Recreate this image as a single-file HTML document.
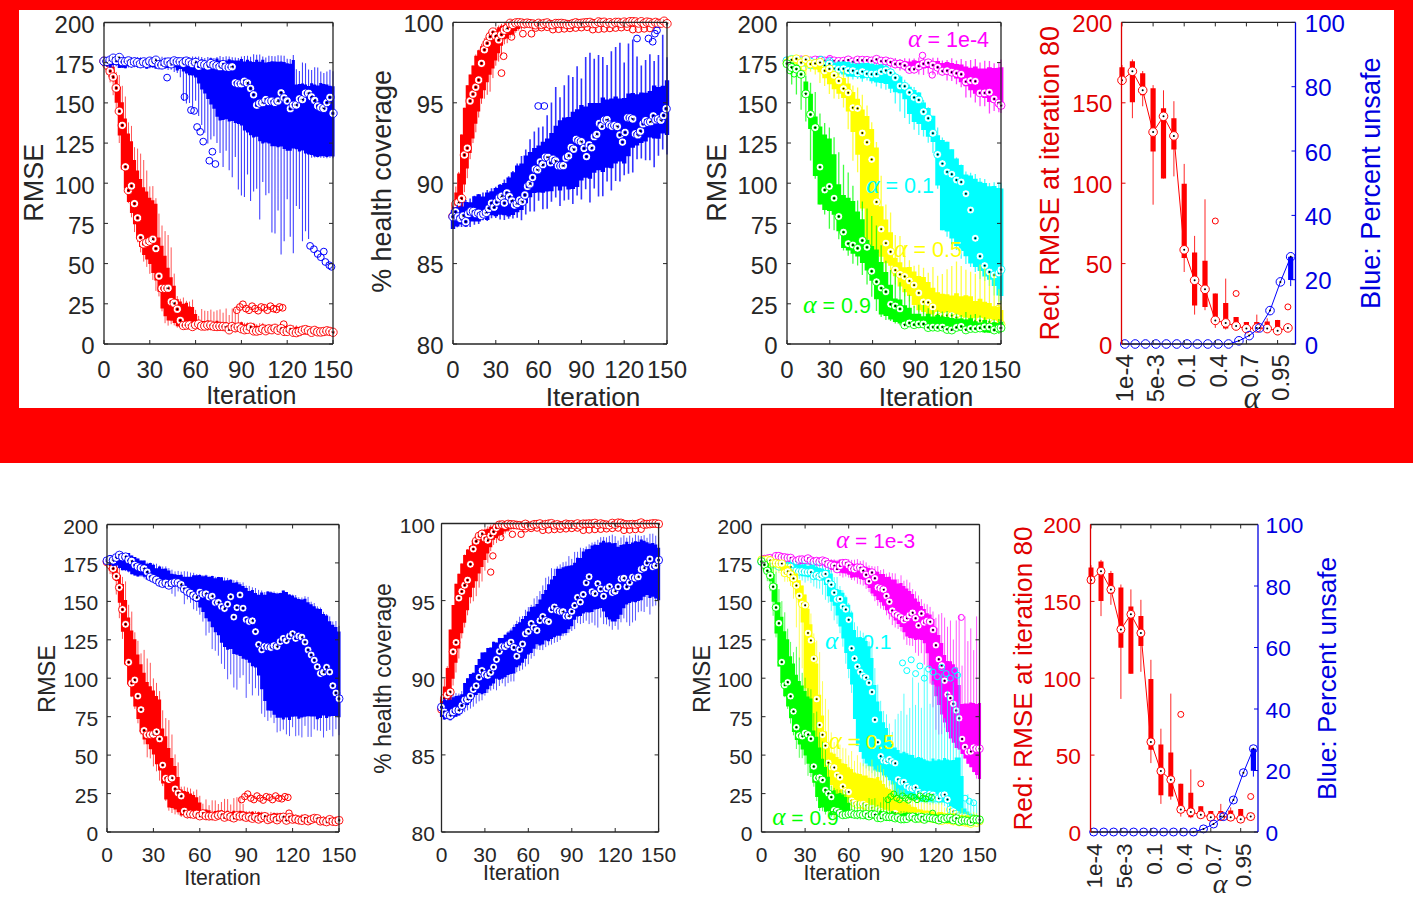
<!DOCTYPE html><html><head><meta charset="utf-8"><style>html,body{margin:0;padding:0;background:#fff;overflow:hidden}svg{display:block}</style></head><body><svg width="1415" height="897" viewBox="0 0 1415 897" font-family='"Liberation Sans", sans-serif'>
<defs><g id="mk0" fill="none"><circle r="2.90" stroke="#fff" stroke-width="2.0"/><circle r="4.20" stroke="#ff0000" stroke-width="0.9"/><circle r="0.95" fill="#000"/></g><g id="mk1" fill="none"><circle r="2.90" stroke="#fff" stroke-width="2.0"/><circle r="4.20" stroke="#0000ff" stroke-width="0.9"/><circle r="0.95" fill="#000"/></g><g id="mk2" fill="none"><circle r="2.90" stroke="#fff" stroke-width="2.0"/><circle r="4.20" stroke="#ff0000" stroke-width="0.9"/><circle r="0.95" fill="#000"/></g><g id="mk3" fill="none"><circle r="2.90" stroke="#fff" stroke-width="2.0"/><circle r="4.20" stroke="#0000ff" stroke-width="0.9"/><circle r="0.95" fill="#000"/></g><g id="mk4" fill="none"><circle r="2.70" stroke="#fff" stroke-width="2.0"/><circle r="4.00" stroke="#ff00ff" stroke-width="0.9"/><circle r="0.95" fill="#000"/></g><g id="mk5" fill="none"><circle r="2.70" stroke="#fff" stroke-width="2.0"/><circle r="4.00" stroke="#00ffff" stroke-width="0.9"/><circle r="0.95" fill="#000"/></g><g id="mk6" fill="none"><circle r="2.70" stroke="#fff" stroke-width="2.0"/><circle r="4.00" stroke="#ffff00" stroke-width="0.9"/><circle r="0.95" fill="#000"/></g><g id="mk7" fill="none"><circle r="2.70" stroke="#fff" stroke-width="2.0"/><circle r="4.00" stroke="#00ff00" stroke-width="0.9"/><circle r="0.95" fill="#000"/></g><g id="mk8" fill="none"><circle r="2.70" stroke="#fff" stroke-width="2.0"/><circle r="4.00" stroke="#ff0000" stroke-width="0.9"/><circle r="0.95" fill="#000"/></g><g id="mk9" fill="none"><circle r="2.70" stroke="#fff" stroke-width="2.0"/><circle r="4.00" stroke="#0000ff" stroke-width="0.9"/><circle r="0.95" fill="#000"/></g><g id="mk10" fill="none"><circle r="2.70" stroke="#fff" stroke-width="2.0"/><circle r="4.00" stroke="#ff0000" stroke-width="0.9"/><circle r="0.95" fill="#000"/></g><g id="mk11" fill="none"><circle r="2.70" stroke="#fff" stroke-width="2.0"/><circle r="4.00" stroke="#0000ff" stroke-width="0.9"/><circle r="0.95" fill="#000"/></g><g id="mk12" fill="none"><circle r="2.50" stroke="#fff" stroke-width="2.0"/><circle r="3.80" stroke="#ff00ff" stroke-width="0.9"/><circle r="0.95" fill="#000"/></g><g id="mk13" fill="none"><circle r="2.50" stroke="#fff" stroke-width="2.0"/><circle r="3.80" stroke="#00ffff" stroke-width="0.9"/><circle r="0.95" fill="#000"/></g><g id="mk14" fill="none"><circle r="2.50" stroke="#fff" stroke-width="2.0"/><circle r="3.80" stroke="#ffff00" stroke-width="0.9"/><circle r="0.95" fill="#000"/></g><g id="mk15" fill="none"><circle r="2.50" stroke="#fff" stroke-width="2.0"/><circle r="3.80" stroke="#00ff00" stroke-width="0.9"/><circle r="0.95" fill="#000"/></g></defs>
<rect x="0" y="0" width="1415" height="897" fill="#fff"/>
<rect x="0" y="0" width="1413" height="463" fill="#ff0000"/>
<rect x="19" y="10" width="1375" height="398" fill="#fff"/>
<path d="M104.00 57.0V66.5M107.05 58.2V75.0M110.11 59.0V82.4M113.16 62.3V95.2M116.21 71.9V113.0M119.27 75.0V143.0M122.32 85.8V169.6M125.37 96.5V188.5M128.43 122.4V203.1M131.48 125.9V217.3M134.53 147.2V232.1M137.59 148.6V242.2M140.64 153.6V252.4M143.69 160.0V261.6M146.75 170.5V266.9M149.80 186.4V273.8M152.85 186.1V279.9M155.91 198.2V290.9M158.96 213.6V296.4M162.01 225.5V311.3M165.07 231.1V323.2M168.12 235.0V325.6M171.17 247.4V324.2M174.23 273.6V325.4M177.28 296.1V327.6M180.33 298.8V329.3M183.39 297.5V329.2M186.44 300.8V329.1M189.49 301.6V329.7M192.55 299.6V329.7M195.60 309.9V329.5M198.65 315.9V329.9M201.71 309.0V329.6M204.76 310.7V330.5M207.81 311.0V331.0M210.87 309.6V330.6M213.92 311.6V330.0M216.97 310.3V330.5M220.03 309.4V330.7M223.08 312.7V330.8M226.13 308.5V331.0M229.19 315.0V331.1M232.24 308.5V331.7M235.29 309.1V332.5M238.35 313.7V331.7M241.40 321.6V332.9M244.45 322.8V332.3M247.51 322.5V333.0M250.56 323.3V333.1M253.61 322.8V333.1M256.67 324.3V333.3M259.72 323.2V333.3M262.77 322.9V333.2M265.83 324.4V333.5M268.88 324.5V333.6M271.93 324.2V333.7M274.99 324.1V332.6M278.04 324.7V333.5M281.09 324.6V333.8M284.15 324.7V334.0M287.20 324.6V333.8M290.25 324.9V333.5M293.31 325.3V334.2M296.36 325.4V334.6M299.41 326.3V334.7M302.47 325.7V334.4M305.52 326.7V334.7M308.57 326.2V334.8M311.63 326.3V334.1M314.68 326.8V334.6M317.73 328.1V335.6M320.79 327.6V334.9M323.84 328.3V335.8M326.89 329.0V335.3M329.95 328.1V335.2M333.00 328.0V335.7" stroke="#ff0000" stroke-width="0.9" stroke-opacity="0.75" fill="none"/>
<path d="M102.45 59.3h3.10V63.0h-3.10ZM105.50 62.4h3.10V70.0h-3.10ZM108.56 63.9h3.10V77.1h-3.10ZM111.61 66.7h3.10V79.2h-3.10ZM114.66 77.3h3.10V102.8h-3.10ZM117.72 86.9h3.10V135.5h-3.10ZM120.77 102.3h3.10V169.6h-3.10ZM123.82 118.4h3.10V188.5h-3.10ZM126.88 133.6h3.10V202.0h-3.10ZM129.93 141.3h3.10V212.9h-3.10ZM132.98 160.0h3.10V224.3h-3.10ZM136.04 170.5h3.10V238.8h-3.10ZM139.09 179.1h3.10V247.0h-3.10ZM142.14 187.2h3.10V254.9h-3.10ZM145.20 191.4h3.10V259.5h-3.10ZM148.25 197.8h3.10V263.9h-3.10ZM151.30 200.2h3.10V272.9h-3.10ZM154.36 203.7h3.10V280.5h-3.10ZM157.41 237.4h3.10V291.7h-3.10ZM160.46 245.7h3.10V308.4h-3.10ZM163.52 255.8h3.10V316.2h-3.10ZM166.57 267.8h3.10V320.6h-3.10ZM169.62 277.3h3.10V320.8h-3.10ZM172.68 285.8h3.10V323.1h-3.10ZM175.73 299.2h3.10V326.2h-3.10ZM178.78 301.5h3.10V327.1h-3.10ZM181.84 303.8h3.10V326.5h-3.10ZM184.89 302.8h3.10V327.8h-3.10ZM187.94 306.6h3.10V328.1h-3.10ZM191.00 306.9h3.10V326.5h-3.10ZM194.05 314.0h3.10V328.7h-3.10ZM197.10 320.9h3.10V326.4h-3.10ZM200.16 321.0h3.10V328.6h-3.10ZM203.21 321.1h3.10V327.1h-3.10ZM206.26 320.6h3.10V329.0h-3.10ZM209.32 322.3h3.10V327.9h-3.10ZM212.37 322.5h3.10V328.8h-3.10ZM215.42 320.7h3.10V328.1h-3.10ZM218.48 322.1h3.10V329.7h-3.10ZM221.53 324.0h3.10V329.4h-3.10ZM224.58 322.6h3.10V329.6h-3.10ZM227.64 323.4h3.10V329.8h-3.10ZM230.69 322.4h3.10V330.6h-3.10ZM233.74 323.9h3.10V330.9h-3.10ZM236.80 323.5h3.10V330.6h-3.10ZM239.85 322.3h3.10V330.1h-3.10ZM242.90 324.6h3.10V331.4h-3.10ZM245.96 323.5h3.10V331.4h-3.10ZM249.01 324.3h3.10V332.8h-3.10ZM252.06 323.7h3.10V331.4h-3.10ZM255.12 325.7h3.10V331.8h-3.10ZM258.17 326.0h3.10V333.2h-3.10ZM261.22 324.6h3.10V330.9h-3.10ZM264.28 325.4h3.10V333.0h-3.10ZM267.33 326.6h3.10V332.8h-3.10ZM270.38 325.5h3.10V331.4h-3.10ZM273.44 327.4h3.10V331.0h-3.10ZM276.49 326.0h3.10V331.2h-3.10ZM279.54 325.7h3.10V331.2h-3.10ZM282.60 326.2h3.10V331.7h-3.10ZM285.65 325.9h3.10V331.4h-3.10ZM288.70 327.9h3.10V331.6h-3.10ZM291.76 327.7h3.10V332.8h-3.10ZM294.81 326.8h3.10V334.4h-3.10ZM297.86 327.1h3.10V334.3h-3.10ZM300.92 327.1h3.10V332.7h-3.10ZM303.97 329.6h3.10V334.3h-3.10ZM307.02 328.2h3.10V333.4h-3.10ZM310.08 329.2h3.10V332.5h-3.10ZM313.13 327.6h3.10V333.6h-3.10ZM316.18 329.3h3.10V333.5h-3.10ZM319.24 329.8h3.10V333.0h-3.10ZM322.29 331.0h3.10V333.9h-3.10ZM325.34 330.6h3.10V334.2h-3.10ZM328.40 328.9h3.10V334.3h-3.10ZM331.45 329.0h3.10V335.5h-3.10Z" fill="#ff0000"/>
<circle cx="236.8" cy="310.2" r="3.4" fill="none" stroke="#ff0000" stroke-width="1"/>
<circle cx="239.9" cy="307.0" r="3.4" fill="none" stroke="#ff0000" stroke-width="1"/>
<circle cx="242.9" cy="304.3" r="3.4" fill="none" stroke="#ff0000" stroke-width="1"/>
<circle cx="246.0" cy="308.6" r="3.4" fill="none" stroke="#ff0000" stroke-width="1"/>
<circle cx="249.0" cy="310.2" r="3.4" fill="none" stroke="#ff0000" stroke-width="1"/>
<circle cx="252.1" cy="306.2" r="3.4" fill="none" stroke="#ff0000" stroke-width="1"/>
<circle cx="255.1" cy="308.6" r="3.4" fill="none" stroke="#ff0000" stroke-width="1"/>
<circle cx="258.2" cy="310.7" r="3.4" fill="none" stroke="#ff0000" stroke-width="1"/>
<circle cx="261.2" cy="307.0" r="3.4" fill="none" stroke="#ff0000" stroke-width="1"/>
<circle cx="264.3" cy="307.8" r="3.4" fill="none" stroke="#ff0000" stroke-width="1"/>
<circle cx="267.4" cy="310.2" r="3.4" fill="none" stroke="#ff0000" stroke-width="1"/>
<circle cx="270.4" cy="306.2" r="3.4" fill="none" stroke="#ff0000" stroke-width="1"/>
<circle cx="273.5" cy="308.6" r="3.4" fill="none" stroke="#ff0000" stroke-width="1"/>
<circle cx="276.5" cy="309.4" r="3.4" fill="none" stroke="#ff0000" stroke-width="1"/>
<circle cx="279.6" cy="307.0" r="3.4" fill="none" stroke="#ff0000" stroke-width="1"/>
<circle cx="282.6" cy="307.8" r="3.4" fill="none" stroke="#ff0000" stroke-width="1"/>
<circle cx="283.7" cy="324.2" r="3.4" fill="none" stroke="#ff0000" stroke-width="1"/>
<g><use href="#mk0" x="104.0" y="61.3"/><use href="#mk0" x="107.1" y="65.0"/><use href="#mk0" x="110.1" y="71.1"/><use href="#mk0" x="113.2" y="77.0"/><use href="#mk0" x="116.2" y="88.0"/><use href="#mk0" x="119.3" y="111.2"/><use href="#mk0" x="122.3" y="125.3"/><use href="#mk0" x="125.4" y="166.8"/><use href="#mk0" x="128.4" y="190.4"/><use href="#mk0" x="131.5" y="186.0"/><use href="#mk0" x="134.5" y="203.6"/><use href="#mk0" x="137.6" y="217.9"/><use href="#mk0" x="140.6" y="237.6"/><use href="#mk0" x="143.7" y="243.9"/><use href="#mk0" x="146.7" y="242.5"/><use href="#mk0" x="149.8" y="241.1"/><use href="#mk0" x="152.9" y="239.2"/><use href="#mk0" x="155.9" y="248.6"/><use href="#mk0" x="159.0" y="276.1"/><use href="#mk0" x="162.0" y="288.3"/><use href="#mk0" x="165.1" y="288.4"/><use href="#mk0" x="168.1" y="288.2"/><use href="#mk0" x="171.2" y="301.7"/><use href="#mk0" x="174.2" y="303.2"/><use href="#mk0" x="177.3" y="309.2"/><use href="#mk0" x="180.3" y="320.4"/><use href="#mk0" x="183.4" y="325.5"/><use href="#mk0" x="186.4" y="325.1"/><use href="#mk0" x="189.5" y="324.9"/><use href="#mk0" x="192.5" y="326.5"/><use href="#mk0" x="195.6" y="324.8"/><use href="#mk0" x="198.7" y="324.1"/><use href="#mk0" x="201.7" y="326.0"/><use href="#mk0" x="204.8" y="326.0"/><use href="#mk0" x="207.8" y="325.2"/><use href="#mk0" x="210.9" y="325.2"/><use href="#mk0" x="213.9" y="326.3"/><use href="#mk0" x="217.0" y="326.5"/><use href="#mk0" x="220.0" y="326.3"/><use href="#mk0" x="223.1" y="326.5"/><use href="#mk0" x="226.1" y="326.9"/><use href="#mk0" x="229.2" y="329.8"/><use href="#mk0" x="232.2" y="326.5"/><use href="#mk0" x="235.3" y="327.7"/><use href="#mk0" x="238.3" y="327.0"/><use href="#mk0" x="241.4" y="328.7"/><use href="#mk0" x="244.5" y="329.7"/><use href="#mk0" x="247.5" y="329.3"/><use href="#mk0" x="250.6" y="327.2"/><use href="#mk0" x="253.6" y="330.9"/><use href="#mk0" x="256.7" y="331.1"/><use href="#mk0" x="259.7" y="330.4"/><use href="#mk0" x="262.8" y="329.0"/><use href="#mk0" x="265.8" y="330.7"/><use href="#mk0" x="268.9" y="328.9"/><use href="#mk0" x="271.9" y="329.7"/><use href="#mk0" x="275.0" y="328.3"/><use href="#mk0" x="278.0" y="330.2"/><use href="#mk0" x="281.1" y="328.7"/><use href="#mk0" x="284.1" y="331.4"/><use href="#mk0" x="287.2" y="331.4"/><use href="#mk0" x="290.3" y="329.4"/><use href="#mk0" x="293.3" y="332.3"/><use href="#mk0" x="296.4" y="332.6"/><use href="#mk0" x="299.4" y="331.6"/><use href="#mk0" x="302.5" y="330.3"/><use href="#mk0" x="305.5" y="329.6"/><use href="#mk0" x="308.6" y="330.6"/><use href="#mk0" x="311.6" y="332.3"/><use href="#mk0" x="314.7" y="330.4"/><use href="#mk0" x="317.7" y="331.8"/><use href="#mk0" x="320.8" y="332.0"/><use href="#mk0" x="323.8" y="331.5"/><use href="#mk0" x="326.9" y="330.8"/><use href="#mk0" x="329.9" y="331.4"/><use href="#mk0" x="333.0" y="332.3"/></g>
<path d="M104.00 57.9V66.3M107.05 57.4V67.1M110.11 57.5V67.6M113.16 57.6V67.5M116.21 58.6V66.3M119.27 57.0V67.9M122.32 58.0V68.0M125.37 57.8V68.2M128.43 57.7V67.6M131.48 56.9V67.8M134.53 57.4V67.2M137.59 57.1V68.0M140.64 57.3V67.9M143.69 58.4V68.0M146.75 57.7V68.8M149.80 58.8V68.2M152.85 57.0V68.1M155.91 57.2V68.9M158.96 58.1V67.9M162.01 56.7V69.2M165.07 57.2V69.1M168.12 57.9V69.9M171.17 57.3V69.8M174.23 57.7V71.9M177.28 58.3V73.1M180.33 58.0V77.2M183.39 56.9V101.0M186.44 57.1V103.5M189.49 57.5V103.1M192.55 56.5V107.1M195.60 56.7V100.8M198.65 56.4V116.1M201.71 57.1V124.9M204.76 58.0V132.8M207.81 57.0V143.6M210.87 57.5V139.6M213.92 58.0V136.3M216.97 57.0V143.0M220.03 56.1V153.0M223.08 57.1V167.1M226.13 56.3V150.8M229.19 56.5V170.3M232.24 57.3V177.2M235.29 57.4V157.1M238.35 58.1V189.4M241.40 56.5V195.4M244.45 56.1V196.9M247.51 55.8V174.4M250.56 56.8V201.1M253.61 54.2V191.4M256.67 54.7V188.8M259.72 54.6V219.5M262.77 56.4V181.9M265.83 57.5V195.3M268.88 55.8V193.3M271.93 56.0V232.5M274.99 56.3V233.5M278.04 55.3V210.4M281.09 55.4V254.4M284.15 55.8V241.2M287.20 58.7V199.3M290.25 59.0V236.7M293.31 55.0V253.2M296.36 69.2V206.1M299.41 71.1V209.0M302.47 62.5V241.2M305.52 63.3V231.3M308.57 69.4V239.1M311.63 70.0V157.7M314.68 67.2V157.6M317.73 67.5V157.5M320.79 71.5V157.7M323.84 72.9V158.1M326.89 71.4V158.2M329.95 69.7V157.7M333.00 71.2V158.3" stroke="#0000ff" stroke-width="1.1" stroke-opacity="0.75" fill="none"/>
<path d="M102.45 58.9h3.10V65.3h-3.10ZM105.50 60.3h3.10V64.8h-3.10ZM108.56 58.9h3.10V67.4h-3.10ZM111.61 58.2h3.10V64.9h-3.10ZM114.66 59.8h3.10V64.9h-3.10ZM117.72 57.5h3.10V67.9h-3.10ZM120.77 59.8h3.10V67.8h-3.10ZM123.82 58.7h3.10V68.2h-3.10ZM126.88 59.8h3.10V66.2h-3.10ZM129.93 58.6h3.10V64.8h-3.10ZM132.98 60.0h3.10V66.0h-3.10ZM136.04 60.0h3.10V66.7h-3.10ZM139.09 58.2h3.10V67.1h-3.10ZM142.14 59.9h3.10V65.9h-3.10ZM145.20 58.7h3.10V68.8h-3.10ZM148.25 61.2h3.10V67.3h-3.10ZM151.30 57.7h3.10V67.3h-3.10ZM154.36 60.0h3.10V68.5h-3.10ZM157.41 60.4h3.10V66.3h-3.10ZM160.46 61.2h3.10V67.0h-3.10ZM163.52 61.3h3.10V68.2h-3.10ZM166.57 60.5h3.10V67.9h-3.10ZM169.62 57.7h3.10V67.1h-3.10ZM172.68 60.3h3.10V67.4h-3.10ZM175.73 60.6h3.10V70.5h-3.10ZM178.78 60.9h3.10V69.0h-3.10ZM181.84 57.7h3.10V71.6h-3.10ZM184.89 58.6h3.10V73.6h-3.10ZM187.94 59.3h3.10V75.3h-3.10ZM191.00 61.5h3.10V75.4h-3.10ZM194.05 58.2h3.10V77.5h-3.10ZM197.10 60.4h3.10V83.5h-3.10ZM200.16 59.4h3.10V89.5h-3.10ZM203.21 60.9h3.10V93.5h-3.10ZM206.26 61.5h3.10V99.1h-3.10ZM209.32 58.3h3.10V104.4h-3.10ZM212.37 61.3h3.10V108.7h-3.10ZM215.42 58.4h3.10V116.8h-3.10ZM218.48 60.4h3.10V120.5h-3.10ZM221.53 61.5h3.10V120.1h-3.10ZM224.58 60.4h3.10V119.2h-3.10ZM227.64 59.3h3.10V121.6h-3.10ZM230.69 60.2h3.10V121.1h-3.10ZM233.74 60.5h3.10V122.9h-3.10ZM236.80 60.4h3.10V123.9h-3.10ZM239.85 59.0h3.10V125.6h-3.10ZM242.90 61.4h3.10V130.5h-3.10ZM245.96 59.7h3.10V132.4h-3.10ZM249.01 61.3h3.10V135.2h-3.10ZM252.06 62.1h3.10V137.4h-3.10ZM255.12 59.7h3.10V136.7h-3.10ZM258.17 61.8h3.10V141.3h-3.10ZM261.22 59.7h3.10V143.4h-3.10ZM264.28 62.5h3.10V142.4h-3.10ZM267.33 62.0h3.10V143.6h-3.10ZM270.38 61.2h3.10V146.3h-3.10ZM273.44 61.4h3.10V146.2h-3.10ZM276.49 61.8h3.10V147.2h-3.10ZM279.54 61.6h3.10V146.5h-3.10ZM282.60 61.9h3.10V148.9h-3.10ZM285.65 63.2h3.10V150.8h-3.10ZM288.70 63.7h3.10V150.7h-3.10ZM291.76 60.1h3.10V148.6h-3.10ZM294.81 84.6h3.10V149.3h-3.10ZM297.86 84.0h3.10V151.4h-3.10ZM300.92 83.4h3.10V150.4h-3.10ZM303.97 84.5h3.10V153.5h-3.10ZM307.02 86.0h3.10V154.4h-3.10ZM310.08 83.3h3.10V155.0h-3.10ZM313.13 84.4h3.10V156.6h-3.10ZM316.18 85.6h3.10V156.9h-3.10ZM319.24 82.9h3.10V156.2h-3.10ZM322.29 83.9h3.10V156.3h-3.10ZM325.34 84.6h3.10V157.0h-3.10ZM328.40 85.7h3.10V156.2h-3.10ZM331.45 86.3h3.10V156.6h-3.10Z" fill="#0000ff"/>
<circle cx="167.1" cy="77.6" r="3.4" fill="none" stroke="#0000ff" stroke-width="1"/>
<circle cx="184.5" cy="96.9" r="3.4" fill="none" stroke="#0000ff" stroke-width="1"/>
<circle cx="191.0" cy="110.1" r="3.4" fill="none" stroke="#0000ff" stroke-width="1"/>
<circle cx="194.1" cy="110.9" r="3.4" fill="none" stroke="#0000ff" stroke-width="1"/>
<circle cx="197.1" cy="127.0" r="3.4" fill="none" stroke="#0000ff" stroke-width="1"/>
<circle cx="200.2" cy="131.8" r="3.4" fill="none" stroke="#0000ff" stroke-width="1"/>
<circle cx="203.2" cy="141.6" r="3.4" fill="none" stroke="#0000ff" stroke-width="1"/>
<circle cx="209.3" cy="160.7" r="3.4" fill="none" stroke="#0000ff" stroke-width="1"/>
<circle cx="212.4" cy="151.7" r="3.4" fill="none" stroke="#0000ff" stroke-width="1"/>
<circle cx="215.4" cy="164.0" r="3.4" fill="none" stroke="#0000ff" stroke-width="1"/>
<circle cx="310.1" cy="245.9" r="3.4" fill="none" stroke="#0000ff" stroke-width="1"/>
<circle cx="313.9" cy="249.2" r="3.4" fill="none" stroke="#0000ff" stroke-width="1"/>
<circle cx="317.7" cy="254.0" r="3.4" fill="none" stroke="#0000ff" stroke-width="1"/>
<circle cx="320.8" cy="257.2" r="3.4" fill="none" stroke="#0000ff" stroke-width="1"/>
<circle cx="323.8" cy="251.6" r="3.4" fill="none" stroke="#0000ff" stroke-width="1"/>
<circle cx="325.4" cy="262.0" r="3.4" fill="none" stroke="#0000ff" stroke-width="1"/>
<circle cx="329.2" cy="265.2" r="3.4" fill="none" stroke="#0000ff" stroke-width="1"/>
<circle cx="331.5" cy="266.8" r="3.4" fill="none" stroke="#0000ff" stroke-width="1"/>
<g><use href="#mk1" x="104.0" y="61.2"/><use href="#mk1" x="107.1" y="61.4"/><use href="#mk1" x="110.1" y="60.2"/><use href="#mk1" x="113.2" y="58.2"/><use href="#mk1" x="116.2" y="60.6"/><use href="#mk1" x="119.3" y="57.5"/><use href="#mk1" x="122.3" y="61.7"/><use href="#mk1" x="125.4" y="61.7"/><use href="#mk1" x="128.4" y="60.9"/><use href="#mk1" x="131.5" y="63.0"/><use href="#mk1" x="134.5" y="61.8"/><use href="#mk1" x="137.6" y="62.5"/><use href="#mk1" x="140.6" y="63.7"/><use href="#mk1" x="143.7" y="61.9"/><use href="#mk1" x="146.7" y="63.3"/><use href="#mk1" x="149.8" y="61.2"/><use href="#mk1" x="152.9" y="62.2"/><use href="#mk1" x="155.9" y="60.2"/><use href="#mk1" x="159.0" y="64.7"/><use href="#mk1" x="162.0" y="64.9"/><use href="#mk1" x="165.1" y="62.7"/><use href="#mk1" x="168.1" y="62.0"/><use href="#mk1" x="171.2" y="63.8"/><use href="#mk1" x="174.2" y="60.9"/><use href="#mk1" x="177.3" y="61.7"/><use href="#mk1" x="180.3" y="61.8"/><use href="#mk1" x="183.4" y="63.3"/><use href="#mk1" x="186.4" y="61.1"/><use href="#mk1" x="189.5" y="62.3"/><use href="#mk1" x="192.5" y="63.7"/><use href="#mk1" x="195.6" y="62.4"/><use href="#mk1" x="198.7" y="66.2"/><use href="#mk1" x="201.7" y="64.1"/><use href="#mk1" x="204.8" y="64.8"/><use href="#mk1" x="207.8" y="66.0"/><use href="#mk1" x="210.9" y="63.5"/><use href="#mk1" x="213.9" y="64.9"/><use href="#mk1" x="217.0" y="65.8"/><use href="#mk1" x="220.0" y="66.7"/><use href="#mk1" x="223.1" y="64.6"/><use href="#mk1" x="226.1" y="67.1"/><use href="#mk1" x="229.2" y="67.3"/><use href="#mk1" x="232.2" y="66.8"/><use href="#mk1" x="235.3" y="82.8"/><use href="#mk1" x="238.3" y="83.7"/><use href="#mk1" x="241.4" y="83.8"/><use href="#mk1" x="244.5" y="81.2"/><use href="#mk1" x="247.5" y="83.0"/><use href="#mk1" x="250.6" y="88.5"/><use href="#mk1" x="253.6" y="94.8"/><use href="#mk1" x="256.7" y="105.2"/><use href="#mk1" x="259.7" y="103.2"/><use href="#mk1" x="262.8" y="102.6"/><use href="#mk1" x="265.8" y="99.6"/><use href="#mk1" x="268.9" y="101.5"/><use href="#mk1" x="271.9" y="101.1"/><use href="#mk1" x="275.0" y="102.4"/><use href="#mk1" x="278.0" y="101.0"/><use href="#mk1" x="281.1" y="92.8"/><use href="#mk1" x="284.1" y="97.9"/><use href="#mk1" x="287.2" y="101.0"/><use href="#mk1" x="290.3" y="108.7"/><use href="#mk1" x="293.3" y="105.1"/><use href="#mk1" x="296.4" y="105.0"/><use href="#mk1" x="299.4" y="98.8"/><use href="#mk1" x="302.5" y="99.6"/><use href="#mk1" x="305.5" y="93.1"/><use href="#mk1" x="308.6" y="93.3"/><use href="#mk1" x="311.6" y="96.9"/><use href="#mk1" x="314.7" y="100.5"/><use href="#mk1" x="317.7" y="106.0"/><use href="#mk1" x="320.8" y="107.6"/><use href="#mk1" x="323.8" y="108.4"/><use href="#mk1" x="326.9" y="102.6"/><use href="#mk1" x="329.9" y="97.3"/><use href="#mk1" x="333.0" y="113.3"/></g>
<line x1="104.0" y1="344.0" x2="104.0" y2="340.0" stroke="#262626" stroke-width="1"/>
<line x1="104.0" y1="22.5" x2="104.0" y2="26.5" stroke="#262626" stroke-width="1"/>
<line x1="149.8" y1="344.0" x2="149.8" y2="340.0" stroke="#262626" stroke-width="1"/>
<line x1="149.8" y1="22.5" x2="149.8" y2="26.5" stroke="#262626" stroke-width="1"/>
<line x1="195.6" y1="344.0" x2="195.6" y2="340.0" stroke="#262626" stroke-width="1"/>
<line x1="195.6" y1="22.5" x2="195.6" y2="26.5" stroke="#262626" stroke-width="1"/>
<line x1="241.4" y1="344.0" x2="241.4" y2="340.0" stroke="#262626" stroke-width="1"/>
<line x1="241.4" y1="22.5" x2="241.4" y2="26.5" stroke="#262626" stroke-width="1"/>
<line x1="287.2" y1="344.0" x2="287.2" y2="340.0" stroke="#262626" stroke-width="1"/>
<line x1="287.2" y1="22.5" x2="287.2" y2="26.5" stroke="#262626" stroke-width="1"/>
<line x1="333.0" y1="344.0" x2="333.0" y2="340.0" stroke="#262626" stroke-width="1"/>
<line x1="333.0" y1="22.5" x2="333.0" y2="26.5" stroke="#262626" stroke-width="1"/>
<line x1="104.0" y1="344.0" x2="108.0" y2="344.0" stroke="#262626" stroke-width="1"/>
<line x1="333.0" y1="344.0" x2="329.0" y2="344.0" stroke="#262626" stroke-width="1"/>
<line x1="104.0" y1="303.8" x2="108.0" y2="303.8" stroke="#262626" stroke-width="1"/>
<line x1="333.0" y1="303.8" x2="329.0" y2="303.8" stroke="#262626" stroke-width="1"/>
<line x1="104.0" y1="263.6" x2="108.0" y2="263.6" stroke="#262626" stroke-width="1"/>
<line x1="333.0" y1="263.6" x2="329.0" y2="263.6" stroke="#262626" stroke-width="1"/>
<line x1="104.0" y1="223.4" x2="108.0" y2="223.4" stroke="#262626" stroke-width="1"/>
<line x1="333.0" y1="223.4" x2="329.0" y2="223.4" stroke="#262626" stroke-width="1"/>
<line x1="104.0" y1="183.2" x2="108.0" y2="183.2" stroke="#262626" stroke-width="1"/>
<line x1="333.0" y1="183.2" x2="329.0" y2="183.2" stroke="#262626" stroke-width="1"/>
<line x1="104.0" y1="143.1" x2="108.0" y2="143.1" stroke="#262626" stroke-width="1"/>
<line x1="333.0" y1="143.1" x2="329.0" y2="143.1" stroke="#262626" stroke-width="1"/>
<line x1="104.0" y1="102.9" x2="108.0" y2="102.9" stroke="#262626" stroke-width="1"/>
<line x1="333.0" y1="102.9" x2="329.0" y2="102.9" stroke="#262626" stroke-width="1"/>
<line x1="104.0" y1="62.7" x2="108.0" y2="62.7" stroke="#262626" stroke-width="1"/>
<line x1="333.0" y1="62.7" x2="329.0" y2="62.7" stroke="#262626" stroke-width="1"/>
<line x1="104.0" y1="22.5" x2="108.0" y2="22.5" stroke="#262626" stroke-width="1"/>
<line x1="333.0" y1="22.5" x2="329.0" y2="22.5" stroke="#262626" stroke-width="1"/>
<line x1="104.0" y1="22.5" x2="333.0" y2="22.5" stroke="#262626" stroke-width="1.3"/>
<line x1="104.0" y1="344.0" x2="333.0" y2="344.0" stroke="#262626" stroke-width="1.3"/>
<line x1="104.0" y1="22.5" x2="104.0" y2="344.0" stroke="#262626" stroke-width="1.3"/>
<line x1="333.0" y1="22.5" x2="333.0" y2="344.0" stroke="#262626" stroke-width="1.3"/>
<text x="104.0" y="377.6" font-size="24" fill="#262626" text-anchor="middle">0</text>
<text x="149.8" y="377.6" font-size="24" fill="#262626" text-anchor="middle">30</text>
<text x="195.6" y="377.6" font-size="24" fill="#262626" text-anchor="middle">60</text>
<text x="241.4" y="377.6" font-size="24" fill="#262626" text-anchor="middle">90</text>
<text x="287.2" y="377.6" font-size="24" fill="#262626" text-anchor="middle">120</text>
<text x="333.0" y="377.6" font-size="24" fill="#262626" text-anchor="middle">150</text>
<text x="94.6" y="354.3" font-size="24" fill="#262626" text-anchor="end">0</text>
<text x="94.6" y="314.1" font-size="24" fill="#262626" text-anchor="end">25</text>
<text x="94.6" y="273.9" font-size="24" fill="#262626" text-anchor="end">50</text>
<text x="94.6" y="233.7" font-size="24" fill="#262626" text-anchor="end">75</text>
<text x="94.6" y="193.6" font-size="24" fill="#262626" text-anchor="end">100</text>
<text x="94.6" y="153.4" font-size="24" fill="#262626" text-anchor="end">125</text>
<text x="94.6" y="113.2" font-size="24" fill="#262626" text-anchor="end">150</text>
<text x="94.6" y="73.0" font-size="24" fill="#262626" text-anchor="end">175</text>
<text x="94.6" y="32.8" font-size="24" fill="#262626" text-anchor="end">200</text>
<text x="251.3" y="404.0" font-size="25" fill="#262626" text-anchor="middle">Iteration</text>
<text x="43.5" y="182.8" font-size="27" fill="#262626" text-anchor="middle" transform="rotate(-90 43.5 182.8)">RMSE</text>
<path d="M453.00 200.7V223.6M455.85 186.5V221.2M458.71 171.9V219.8M461.56 134.6V210.4M464.41 107.8V192.2M467.27 85.3V178.2M470.12 74.6V159.2M472.97 65.4V143.1M475.83 54.5V132.3M478.68 49.7V117.5M481.53 43.8V103.8M484.39 38.2V98.7M487.24 32.8V94.8M490.09 30.5V91.7M492.95 29.0V78.1M495.80 27.5V65.7M498.65 25.5V61.6M501.51 23.9V55.4M504.36 23.0V44.3M507.21 22.8V43.2M510.07 22.8V38.2M512.92 22.9V36.1M515.77 22.4V32.7M518.63 22.6V30.6M521.48 22.4V29.6M524.33 22.4V28.7M527.19 22.4V27.0M530.04 22.5V26.7M532.89 22.4V25.7M535.75 23.1V26.5M538.60 22.6V25.2M541.45 22.8V25.5M544.31 22.4V25.5M547.16 22.6V25.4M550.01 22.4V25.1M552.87 22.4V25.2M555.72 22.4V25.1M558.57 22.4V25.2M561.43 22.4V25.4M564.28 22.4V24.6M567.13 22.4V25.2M569.99 22.4V25.0M572.84 22.7V24.7M575.69 22.4V24.2M578.55 22.4V24.4M581.40 22.4V25.0M584.25 22.4V24.8M587.11 22.4V24.8M589.96 22.4V24.1M592.81 22.5V24.3M595.67 22.4V24.3M598.52 22.4V24.7M601.37 22.4V24.2M604.23 22.4V24.6M607.08 22.4V24.4M609.93 22.5V24.2M612.79 22.4V24.7M615.64 22.4V24.5M618.49 22.4V24.2M621.35 22.4V24.0M624.20 22.4V23.7M627.05 22.4V24.5M629.91 22.4V24.1M632.76 22.4V23.2M635.61 22.4V24.3M638.47 22.6V24.2M641.32 22.4V24.2M644.17 22.7V24.1M647.03 22.4V24.3M649.88 22.4V23.9M652.73 22.4V24.0M655.59 22.4V23.9M658.44 22.4V24.0M661.29 22.4V24.1M664.15 22.4V24.0M667.00 22.4V24.0" stroke="#ff0000" stroke-width="1.0" stroke-opacity="0.75" fill="none"/>
<path d="M451.45 205.3h3.10V221.5h-3.10ZM454.30 192.6h3.10V219.4h-3.10ZM457.16 173.5h3.10V216.9h-3.10ZM460.01 134.6h3.10V208.7h-3.10ZM462.86 107.8h3.10V184.4h-3.10ZM465.72 85.3h3.10V168.4h-3.10ZM468.57 74.6h3.10V152.9h-3.10ZM471.42 65.4h3.10V138.5h-3.10ZM474.28 55.8h3.10V123.8h-3.10ZM477.13 50.3h3.10V111.5h-3.10ZM479.98 46.3h3.10V98.4h-3.10ZM482.84 41.0h3.10V90.2h-3.10ZM485.69 36.9h3.10V82.2h-3.10ZM488.54 31.7h3.10V74.7h-3.10ZM491.40 30.3h3.10V68.5h-3.10ZM494.25 29.5h3.10V60.5h-3.10ZM497.10 27.2h3.10V53.2h-3.10ZM499.96 25.7h3.10V45.8h-3.10ZM502.81 25.0h3.10V39.2h-3.10ZM505.66 23.1h3.10V38.6h-3.10ZM508.52 23.2h3.10V35.1h-3.10ZM511.37 23.3h3.10V34.4h-3.10ZM514.22 22.4h3.10V31.1h-3.10ZM517.08 22.7h3.10V29.1h-3.10ZM519.93 22.5h3.10V26.7h-3.10ZM522.78 22.4h3.10V26.5h-3.10ZM525.64 23.1h3.10V25.2h-3.10ZM528.49 22.8h3.10V24.2h-3.10ZM531.34 22.4h3.10V24.0h-3.10ZM534.20 23.9h3.10V24.8h-3.10ZM537.05 23.1h3.10V23.8h-3.10ZM539.90 23.7h3.10V24.4h-3.10ZM542.76 22.7h3.10V24.0h-3.10ZM545.61 22.9h3.10V24.0h-3.10ZM548.46 22.6h3.10V24.4h-3.10ZM551.32 23.2h3.10V24.7h-3.10ZM554.17 22.4h3.10V23.5h-3.10ZM557.02 22.4h3.10V23.5h-3.10ZM559.88 22.8h3.10V24.0h-3.10ZM562.73 22.4h3.10V23.8h-3.10ZM565.58 22.4h3.10V24.5h-3.10ZM568.44 22.6h3.10V24.6h-3.10ZM571.29 23.4h3.10V23.9h-3.10ZM574.14 22.4h3.10V22.8h-3.10ZM577.00 22.7h3.10V23.6h-3.10ZM579.85 22.5h3.10V23.3h-3.10ZM582.70 22.4h3.10V22.9h-3.10ZM585.56 22.4h3.10V23.3h-3.10ZM588.41 22.4h3.10V22.4h-3.10ZM591.26 23.0h3.10V23.6h-3.10ZM594.12 22.4h3.10V23.6h-3.10ZM596.97 22.4h3.10V23.4h-3.10ZM599.82 22.4h3.10V23.2h-3.10ZM602.68 22.4h3.10V23.4h-3.10ZM605.53 22.4h3.10V23.6h-3.10ZM608.38 22.7h3.10V23.4h-3.10ZM611.24 22.4h3.10V23.8h-3.10ZM614.09 22.4h3.10V23.7h-3.10ZM616.94 22.4h3.10V23.7h-3.10ZM619.80 22.4h3.10V23.4h-3.10ZM622.65 22.4h3.10V22.6h-3.10ZM625.50 22.5h3.10V23.2h-3.10ZM628.36 22.4h3.10V23.6h-3.10ZM631.21 22.4h3.10V22.1h-3.10ZM634.06 22.4h3.10V22.3h-3.10ZM636.92 22.9h3.10V23.1h-3.10ZM639.77 22.4h3.10V23.5h-3.10ZM642.62 23.0h3.10V23.5h-3.10ZM645.48 22.4h3.10V23.2h-3.10ZM648.33 22.4h3.10V22.7h-3.10ZM651.18 22.4h3.10V23.6h-3.10ZM654.04 22.4h3.10V23.1h-3.10ZM656.89 22.4h3.10V23.4h-3.10ZM659.74 22.4h3.10V23.2h-3.10ZM662.60 22.4h3.10V22.6h-3.10ZM665.45 22.4h3.10V23.7h-3.10Z" fill="#ff0000"/>
<circle cx="501.5" cy="73.1" r="3.4" fill="none" stroke="#ff0000" stroke-width="1"/>
<circle cx="503.6" cy="56.2" r="3.4" fill="none" stroke="#ff0000" stroke-width="1"/>
<circle cx="511.5" cy="36.9" r="3.4" fill="none" stroke="#ff0000" stroke-width="1"/>
<circle cx="522.9" cy="33.7" r="3.4" fill="none" stroke="#ff0000" stroke-width="1"/>
<circle cx="531.5" cy="33.7" r="3.4" fill="none" stroke="#ff0000" stroke-width="1"/>
<circle cx="535.7" cy="28.0" r="3.4" fill="none" stroke="#ff0000" stroke-width="1"/>
<circle cx="541.5" cy="27.6" r="3.4" fill="none" stroke="#ff0000" stroke-width="1"/>
<circle cx="547.2" cy="27.2" r="3.4" fill="none" stroke="#ff0000" stroke-width="1"/>
<circle cx="552.9" cy="29.6" r="3.4" fill="none" stroke="#ff0000" stroke-width="1"/>
<circle cx="558.6" cy="29.2" r="3.4" fill="none" stroke="#ff0000" stroke-width="1"/>
<circle cx="564.3" cy="28.8" r="3.4" fill="none" stroke="#ff0000" stroke-width="1"/>
<circle cx="570.0" cy="28.4" r="3.4" fill="none" stroke="#ff0000" stroke-width="1"/>
<circle cx="575.7" cy="28.0" r="3.4" fill="none" stroke="#ff0000" stroke-width="1"/>
<circle cx="581.4" cy="27.6" r="3.4" fill="none" stroke="#ff0000" stroke-width="1"/>
<circle cx="587.1" cy="27.2" r="3.4" fill="none" stroke="#ff0000" stroke-width="1"/>
<circle cx="592.8" cy="29.6" r="3.4" fill="none" stroke="#ff0000" stroke-width="1"/>
<circle cx="598.5" cy="29.2" r="3.4" fill="none" stroke="#ff0000" stroke-width="1"/>
<circle cx="604.2" cy="28.8" r="3.4" fill="none" stroke="#ff0000" stroke-width="1"/>
<circle cx="609.9" cy="28.4" r="3.4" fill="none" stroke="#ff0000" stroke-width="1"/>
<circle cx="615.6" cy="28.0" r="3.4" fill="none" stroke="#ff0000" stroke-width="1"/>
<circle cx="621.3" cy="27.6" r="3.4" fill="none" stroke="#ff0000" stroke-width="1"/>
<circle cx="627.1" cy="27.2" r="3.4" fill="none" stroke="#ff0000" stroke-width="1"/>
<circle cx="632.8" cy="29.6" r="3.4" fill="none" stroke="#ff0000" stroke-width="1"/>
<circle cx="638.5" cy="29.2" r="3.4" fill="none" stroke="#ff0000" stroke-width="1"/>
<circle cx="644.2" cy="28.8" r="3.4" fill="none" stroke="#ff0000" stroke-width="1"/>
<circle cx="649.9" cy="28.4" r="3.4" fill="none" stroke="#ff0000" stroke-width="1"/>
<g><use href="#mk2" x="453.0" y="216.2"/><use href="#mk2" x="455.9" y="203.9"/><use href="#mk2" x="458.7" y="202.3"/><use href="#mk2" x="461.6" y="198.5"/><use href="#mk2" x="464.4" y="155.0"/><use href="#mk2" x="467.3" y="148.1"/><use href="#mk2" x="470.1" y="101.0"/><use href="#mk2" x="473.0" y="94.1"/><use href="#mk2" x="475.8" y="87.2"/><use href="#mk2" x="478.7" y="80.0"/><use href="#mk2" x="481.5" y="63.3"/><use href="#mk2" x="484.4" y="49.8"/><use href="#mk2" x="487.2" y="43.2"/><use href="#mk2" x="490.1" y="36.6"/><use href="#mk2" x="492.9" y="32.1"/><use href="#mk2" x="495.8" y="35.9"/><use href="#mk2" x="498.7" y="39.9"/><use href="#mk2" x="501.5" y="34.6"/><use href="#mk2" x="504.4" y="30.2"/><use href="#mk2" x="507.2" y="28.4"/><use href="#mk2" x="510.1" y="23.3"/><use href="#mk2" x="512.9" y="24.5"/><use href="#mk2" x="515.8" y="22.9"/><use href="#mk2" x="518.6" y="22.7"/><use href="#mk2" x="521.5" y="23.0"/><use href="#mk2" x="524.3" y="23.7"/><use href="#mk2" x="527.2" y="23.1"/><use href="#mk2" x="530.0" y="23.6"/><use href="#mk2" x="532.9" y="24.0"/><use href="#mk2" x="535.7" y="24.8"/><use href="#mk2" x="538.6" y="23.3"/><use href="#mk2" x="541.5" y="24.4"/><use href="#mk2" x="544.3" y="23.5"/><use href="#mk2" x="547.2" y="22.9"/><use href="#mk2" x="550.0" y="24.4"/><use href="#mk2" x="552.9" y="24.7"/><use href="#mk2" x="555.7" y="23.5"/><use href="#mk2" x="558.6" y="23.5"/><use href="#mk2" x="561.4" y="23.4"/><use href="#mk2" x="564.3" y="23.8"/><use href="#mk2" x="567.1" y="24.5"/><use href="#mk2" x="570.0" y="24.6"/><use href="#mk2" x="572.8" y="23.6"/><use href="#mk2" x="575.7" y="22.8"/><use href="#mk2" x="578.5" y="23.6"/><use href="#mk2" x="581.4" y="23.3"/><use href="#mk2" x="584.3" y="22.9"/><use href="#mk2" x="587.1" y="22.7"/><use href="#mk2" x="590.0" y="22.4"/><use href="#mk2" x="592.8" y="23.6"/><use href="#mk2" x="595.7" y="23.6"/><use href="#mk2" x="598.5" y="21.9"/><use href="#mk2" x="601.4" y="22.6"/><use href="#mk2" x="604.2" y="22.2"/><use href="#mk2" x="607.1" y="23.6"/><use href="#mk2" x="609.9" y="22.7"/><use href="#mk2" x="612.8" y="23.8"/><use href="#mk2" x="615.6" y="22.4"/><use href="#mk2" x="618.5" y="22.4"/><use href="#mk2" x="621.3" y="23.4"/><use href="#mk2" x="624.2" y="22.1"/><use href="#mk2" x="627.1" y="23.1"/><use href="#mk2" x="629.9" y="21.7"/><use href="#mk2" x="632.8" y="21.7"/><use href="#mk2" x="635.6" y="21.9"/><use href="#mk2" x="638.5" y="23.1"/><use href="#mk2" x="641.3" y="21.7"/><use href="#mk2" x="644.2" y="23.4"/><use href="#mk2" x="647.0" y="22.1"/><use href="#mk2" x="649.9" y="22.5"/><use href="#mk2" x="652.7" y="23.6"/><use href="#mk2" x="655.6" y="22.4"/><use href="#mk2" x="658.4" y="23.4"/><use href="#mk2" x="661.3" y="23.2"/><use href="#mk2" x="664.1" y="21.2"/><use href="#mk2" x="667.0" y="23.7"/></g>
<path d="M453.00 207.0V229.1M457.28 204.8V227.3M461.56 202.3V227.1M465.84 200.0V226.9M470.12 198.5V226.9M474.40 195.8V224.7M478.68 193.9V224.1M482.96 192.6V220.3M487.24 190.0V221.0M491.52 188.2V218.3M495.80 186.7V218.1M500.08 183.9V219.6M504.36 179.5V220.1M508.64 176.2V218.7M512.92 170.9V218.4M517.20 163.4V217.7M521.48 156.0V220.2M525.76 149.4V214.4M530.04 139.2V211.4M534.32 131.5V211.5M538.60 127.6V200.8M542.88 126.5V209.2M547.16 115.3V208.8M551.44 102.6V201.8M555.72 87.0V197.6M560.00 97.2V205.9M564.28 85.3V200.4M568.56 75.2V199.7M572.84 76.9V204.0M577.12 66.2V195.5M581.40 78.5V199.4M585.68 57.1V189.3M589.96 52.8V202.5M594.24 58.7V188.6M598.52 55.1V196.5M602.80 56.9V196.3M607.08 64.9V181.5M611.36 51.3V190.6M615.64 46.9V180.9M619.92 42.8V181.5M624.20 62.5V175.3M628.48 43.6V173.8M632.76 39.4V172.6M637.04 56.6V159.2M641.32 65.6V158.6M645.60 59.9V160.3M649.88 54.2V160.2M654.16 61.1V167.2M658.44 55.0V155.8M662.72 34.7V149.6M667.00 57.2V154.4" stroke="#0000ff" stroke-width="1.6" stroke-opacity="0.8" fill="none"/>
<path d="M450.80 210.2h4.40V229.1h-4.40ZM455.08 207.3h4.40V226.6h-4.40ZM459.36 206.5h4.40V224.4h-4.40ZM463.64 202.0h4.40V226.4h-4.40ZM467.92 202.2h4.40V221.4h-4.40ZM472.20 196.3h4.40V221.5h-4.40ZM476.48 194.3h4.40V221.4h-4.40ZM480.76 196.5h4.40V217.3h-4.40ZM485.04 192.6h4.40V220.0h-4.40ZM489.32 191.2h4.40V215.3h-4.40ZM493.60 188.0h4.40V216.3h-4.40ZM497.88 184.8h4.40V214.8h-4.40ZM502.16 183.0h4.40V215.2h-4.40ZM506.44 177.5h4.40V216.5h-4.40ZM510.72 172.2h4.40V215.0h-4.40ZM515.00 165.6h4.40V212.3h-4.40ZM519.28 163.6h4.40V209.9h-4.40ZM523.56 155.5h4.40V203.3h-4.40ZM527.84 152.1h4.40V197.2h-4.40ZM532.12 147.9h4.40V193.1h-4.40ZM536.40 145.4h4.40V192.4h-4.40ZM540.68 141.7h4.40V192.7h-4.40ZM544.96 138.5h4.40V191.4h-4.40ZM549.24 132.9h4.40V191.3h-4.40ZM553.52 125.7h4.40V186.5h-4.40ZM557.80 120.3h4.40V190.6h-4.40ZM562.08 117.6h4.40V186.5h-4.40ZM566.36 116.9h4.40V189.4h-4.40ZM570.64 111.7h4.40V188.9h-4.40ZM574.92 109.3h4.40V187.1h-4.40ZM579.20 104.9h4.40V180.4h-4.40ZM583.48 106.4h4.40V177.7h-4.40ZM587.76 103.0h4.40V178.7h-4.40ZM592.04 103.0h4.40V172.7h-4.40ZM596.32 102.9h4.40V170.2h-4.40ZM600.60 97.6h4.40V171.9h-4.40ZM604.88 99.5h4.40V167.8h-4.40ZM609.16 98.5h4.40V168.3h-4.40ZM613.44 96.4h4.40V163.5h-4.40ZM617.72 98.6h4.40V161.4h-4.40ZM622.00 98.0h4.40V163.6h-4.40ZM626.28 93.5h4.40V156.2h-4.40ZM630.56 92.9h4.40V147.8h-4.40ZM634.84 94.3h4.40V145.4h-4.40ZM639.12 92.6h4.40V143.0h-4.40ZM643.40 92.8h4.40V141.4h-4.40ZM647.68 91.0h4.40V137.5h-4.40ZM651.96 85.6h4.40V138.5h-4.40ZM656.24 87.1h4.40V138.8h-4.40ZM660.52 85.7h4.40V133.4h-4.40ZM664.80 80.3h4.40V134.9h-4.40Z" fill="#0000ff"/>
<circle cx="538.2" cy="106.0" r="3.4" fill="none" stroke="#0000ff" stroke-width="1"/>
<circle cx="544.3" cy="106.0" r="3.4" fill="none" stroke="#0000ff" stroke-width="1"/>
<circle cx="637.0" cy="38.5" r="3.4" fill="none" stroke="#0000ff" stroke-width="1"/>
<circle cx="648.5" cy="38.5" r="3.4" fill="none" stroke="#0000ff" stroke-width="1"/>
<circle cx="652.7" cy="41.7" r="3.4" fill="none" stroke="#0000ff" stroke-width="1"/>
<circle cx="654.9" cy="33.7" r="3.4" fill="none" stroke="#0000ff" stroke-width="1"/>
<circle cx="657.0" cy="30.4" r="3.4" fill="none" stroke="#0000ff" stroke-width="1"/>
<g><use href="#mk3" x="453.0" y="216.7"/><use href="#mk3" x="455.6" y="211.9"/><use href="#mk3" x="458.1" y="216.9"/><use href="#mk3" x="460.7" y="218.7"/><use href="#mk3" x="463.3" y="215.9"/><use href="#mk3" x="465.8" y="221.7"/><use href="#mk3" x="468.4" y="213.6"/><use href="#mk3" x="471.0" y="211.2"/><use href="#mk3" x="473.5" y="211.5"/><use href="#mk3" x="476.1" y="213.7"/><use href="#mk3" x="478.7" y="213.2"/><use href="#mk3" x="481.2" y="215.5"/><use href="#mk3" x="483.8" y="213.9"/><use href="#mk3" x="486.4" y="212.4"/><use href="#mk3" x="489.0" y="208.3"/><use href="#mk3" x="491.5" y="203.2"/><use href="#mk3" x="494.1" y="207.2"/><use href="#mk3" x="496.7" y="202.1"/><use href="#mk3" x="499.2" y="198.0"/><use href="#mk3" x="501.8" y="196.2"/><use href="#mk3" x="504.4" y="203.1"/><use href="#mk3" x="506.9" y="192.9"/><use href="#mk3" x="509.5" y="196.7"/><use href="#mk3" x="512.1" y="201.0"/><use href="#mk3" x="514.6" y="205.1"/><use href="#mk3" x="517.2" y="203.5"/><use href="#mk3" x="519.8" y="200.0"/><use href="#mk3" x="522.3" y="201.7"/><use href="#mk3" x="524.9" y="195.0"/><use href="#mk3" x="527.5" y="186.4"/><use href="#mk3" x="530.0" y="183.9"/><use href="#mk3" x="532.6" y="177.5"/><use href="#mk3" x="535.2" y="169.1"/><use href="#mk3" x="537.7" y="169.9"/><use href="#mk3" x="540.3" y="161.8"/><use href="#mk3" x="542.9" y="164.7"/><use href="#mk3" x="545.4" y="157.1"/><use href="#mk3" x="548.0" y="157.3"/><use href="#mk3" x="550.6" y="162.8"/><use href="#mk3" x="553.2" y="159.1"/><use href="#mk3" x="555.7" y="161.0"/><use href="#mk3" x="558.3" y="165.7"/><use href="#mk3" x="560.9" y="165.9"/><use href="#mk3" x="563.4" y="165.7"/><use href="#mk3" x="566.0" y="158.0"/><use href="#mk3" x="568.6" y="155.9"/><use href="#mk3" x="571.1" y="147.4"/><use href="#mk3" x="573.7" y="149.2"/><use href="#mk3" x="576.3" y="139.3"/><use href="#mk3" x="578.8" y="140.8"/><use href="#mk3" x="581.4" y="141.7"/><use href="#mk3" x="584.0" y="148.4"/><use href="#mk3" x="586.5" y="156.6"/><use href="#mk3" x="589.1" y="144.9"/><use href="#mk3" x="591.7" y="147.8"/><use href="#mk3" x="594.2" y="136.7"/><use href="#mk3" x="596.8" y="134.3"/><use href="#mk3" x="599.4" y="123.4"/><use href="#mk3" x="601.9" y="126.3"/><use href="#mk3" x="604.5" y="120.1"/><use href="#mk3" x="607.1" y="119.7"/><use href="#mk3" x="609.6" y="125.1"/><use href="#mk3" x="612.2" y="126.3"/><use href="#mk3" x="614.8" y="125.4"/><use href="#mk3" x="617.4" y="126.5"/><use href="#mk3" x="619.9" y="135.0"/><use href="#mk3" x="622.5" y="142.1"/><use href="#mk3" x="625.1" y="132.4"/><use href="#mk3" x="627.6" y="117.7"/><use href="#mk3" x="630.2" y="117.9"/><use href="#mk3" x="632.8" y="119.0"/><use href="#mk3" x="635.3" y="133.8"/><use href="#mk3" x="637.9" y="134.9"/><use href="#mk3" x="640.5" y="131.2"/><use href="#mk3" x="643.0" y="123.8"/><use href="#mk3" x="645.6" y="120.7"/><use href="#mk3" x="648.2" y="122.4"/><use href="#mk3" x="650.7" y="121.7"/><use href="#mk3" x="653.3" y="115.9"/><use href="#mk3" x="655.9" y="119.9"/><use href="#mk3" x="658.4" y="119.0"/><use href="#mk3" x="661.0" y="120.2"/><use href="#mk3" x="663.6" y="115.5"/><use href="#mk3" x="666.1" y="108.7"/></g>
<line x1="453.0" y1="344.0" x2="453.0" y2="340.0" stroke="#262626" stroke-width="1"/>
<line x1="453.0" y1="22.4" x2="453.0" y2="26.4" stroke="#262626" stroke-width="1"/>
<line x1="495.8" y1="344.0" x2="495.8" y2="340.0" stroke="#262626" stroke-width="1"/>
<line x1="495.8" y1="22.4" x2="495.8" y2="26.4" stroke="#262626" stroke-width="1"/>
<line x1="538.6" y1="344.0" x2="538.6" y2="340.0" stroke="#262626" stroke-width="1"/>
<line x1="538.6" y1="22.4" x2="538.6" y2="26.4" stroke="#262626" stroke-width="1"/>
<line x1="581.4" y1="344.0" x2="581.4" y2="340.0" stroke="#262626" stroke-width="1"/>
<line x1="581.4" y1="22.4" x2="581.4" y2="26.4" stroke="#262626" stroke-width="1"/>
<line x1="624.2" y1="344.0" x2="624.2" y2="340.0" stroke="#262626" stroke-width="1"/>
<line x1="624.2" y1="22.4" x2="624.2" y2="26.4" stroke="#262626" stroke-width="1"/>
<line x1="667.0" y1="344.0" x2="667.0" y2="340.0" stroke="#262626" stroke-width="1"/>
<line x1="667.0" y1="22.4" x2="667.0" y2="26.4" stroke="#262626" stroke-width="1"/>
<line x1="453.0" y1="344.0" x2="457.0" y2="344.0" stroke="#262626" stroke-width="1"/>
<line x1="667.0" y1="344.0" x2="663.0" y2="344.0" stroke="#262626" stroke-width="1"/>
<line x1="453.0" y1="263.6" x2="457.0" y2="263.6" stroke="#262626" stroke-width="1"/>
<line x1="667.0" y1="263.6" x2="663.0" y2="263.6" stroke="#262626" stroke-width="1"/>
<line x1="453.0" y1="183.2" x2="457.0" y2="183.2" stroke="#262626" stroke-width="1"/>
<line x1="667.0" y1="183.2" x2="663.0" y2="183.2" stroke="#262626" stroke-width="1"/>
<line x1="453.0" y1="102.8" x2="457.0" y2="102.8" stroke="#262626" stroke-width="1"/>
<line x1="667.0" y1="102.8" x2="663.0" y2="102.8" stroke="#262626" stroke-width="1"/>
<line x1="453.0" y1="22.4" x2="457.0" y2="22.4" stroke="#262626" stroke-width="1"/>
<line x1="667.0" y1="22.4" x2="663.0" y2="22.4" stroke="#262626" stroke-width="1"/>
<line x1="453.0" y1="22.4" x2="667.0" y2="22.4" stroke="#262626" stroke-width="1.3"/>
<line x1="453.0" y1="344.0" x2="667.0" y2="344.0" stroke="#262626" stroke-width="1.3"/>
<line x1="453.0" y1="22.4" x2="453.0" y2="344.0" stroke="#262626" stroke-width="1.3"/>
<line x1="667.0" y1="22.4" x2="667.0" y2="344.0" stroke="#262626" stroke-width="1.3"/>
<text x="453.0" y="377.6" font-size="24" fill="#262626" text-anchor="middle">0</text>
<text x="495.8" y="377.6" font-size="24" fill="#262626" text-anchor="middle">30</text>
<text x="538.6" y="377.6" font-size="24" fill="#262626" text-anchor="middle">60</text>
<text x="581.4" y="377.6" font-size="24" fill="#262626" text-anchor="middle">90</text>
<text x="624.2" y="377.6" font-size="24" fill="#262626" text-anchor="middle">120</text>
<text x="667.0" y="377.6" font-size="24" fill="#262626" text-anchor="middle">150</text>
<text x="443.5" y="353.8" font-size="24" fill="#262626" text-anchor="end">80</text>
<text x="443.5" y="273.4" font-size="24" fill="#262626" text-anchor="end">85</text>
<text x="443.5" y="193.0" font-size="24" fill="#262626" text-anchor="end">90</text>
<text x="443.5" y="112.6" font-size="24" fill="#262626" text-anchor="end">95</text>
<text x="443.5" y="32.2" font-size="24" fill="#262626" text-anchor="end">100</text>
<text x="593.1" y="405.8" font-size="26.2" fill="#262626" text-anchor="middle">Iteration</text>
<text x="391.0" y="181.4" font-size="26.9" fill="#262626" text-anchor="middle" transform="rotate(-90 391.0 181.4)">% health coverage</text>
<path d="M787.00 58.5V63.5M791.71 58.8V62.7M796.42 58.9V63.4M801.12 59.1V63.4M805.83 58.7V63.2M810.54 59.0V63.5M815.25 59.1V63.6M819.96 59.0V62.6M824.66 58.8V63.7M829.37 58.6V63.9M834.08 59.2V63.5M838.79 59.8V63.6M843.50 59.3V63.4M848.20 58.7V64.0M852.91 59.0V64.0M857.62 59.1V64.1M862.33 59.4V63.5M867.04 58.7V64.0M871.74 59.1V64.3M876.45 58.4V63.9M881.16 59.1V66.0M885.87 58.3V66.7M890.58 58.8V67.6M895.28 57.9V68.2M899.99 58.9V70.5M904.70 58.2V70.8M909.41 58.4V72.2M914.12 58.4V73.6M918.82 57.5V74.6M923.53 57.7V75.0M928.24 59.6V73.7M932.95 57.7V74.7M937.66 57.8V74.4M942.36 60.4V75.5M947.07 60.0V80.6M951.78 58.2V81.1M956.49 60.5V84.2M961.20 58.9V87.2M965.90 60.9V97.5M970.61 60.1V97.6M975.32 58.9V102.5M980.03 62.6V106.3M984.74 60.7V106.3M989.44 61.0V113.4M994.15 63.2V111.1M998.86 62.5V112.2M1001.00 59.6V113.1" stroke="#ff00ff" stroke-width="1.3" stroke-opacity="0.75" fill="none"/>
<path d="M784.60 60.0h4.80V61.1h-4.80ZM789.31 59.3h4.80V62.0h-4.80ZM794.02 60.7h4.80V62.3h-4.80ZM798.72 59.9h4.80V62.8h-4.80ZM803.43 59.6h4.80V61.1h-4.80ZM808.14 60.6h4.80V62.6h-4.80ZM812.85 60.0h4.80V62.2h-4.80ZM817.56 59.7h4.80V61.5h-4.80ZM822.26 59.3h4.80V61.5h-4.80ZM826.97 59.4h4.80V63.0h-4.80ZM831.68 60.3h4.80V63.0h-4.80ZM836.39 61.1h4.80V62.7h-4.80ZM841.10 60.7h4.80V61.4h-4.80ZM845.80 59.7h4.80V61.4h-4.80ZM850.51 59.7h4.80V62.8h-4.80ZM855.22 60.0h4.80V62.7h-4.80ZM859.93 60.2h4.80V62.4h-4.80ZM864.64 59.2h4.80V61.8h-4.80ZM869.34 59.8h4.80V61.6h-4.80ZM874.05 59.3h4.80V62.5h-4.80ZM878.76 60.2h4.80V63.3h-4.80ZM883.47 59.7h4.80V64.1h-4.80ZM888.18 60.6h4.80V65.5h-4.80ZM892.88 61.3h4.80V66.2h-4.80ZM897.59 60.0h4.80V66.8h-4.80ZM902.30 61.2h4.80V67.1h-4.80ZM907.01 61.4h4.80V69.5h-4.80ZM911.72 60.2h4.80V69.2h-4.80ZM916.42 60.9h4.80V68.6h-4.80ZM921.13 60.4h4.80V68.5h-4.80ZM925.84 61.9h4.80V68.0h-4.80ZM930.55 62.3h4.80V69.0h-4.80ZM935.26 61.0h4.80V69.1h-4.80ZM939.96 63.1h4.80V71.3h-4.80ZM944.67 61.9h4.80V71.9h-4.80ZM949.38 63.1h4.80V75.3h-4.80ZM954.09 64.1h4.80V78.4h-4.80ZM958.80 64.5h4.80V82.2h-4.80ZM963.50 66.5h4.80V86.3h-4.80ZM968.21 67.7h4.80V90.2h-4.80ZM972.92 66.6h4.80V93.7h-4.80ZM977.63 68.4h4.80V95.8h-4.80ZM982.34 68.4h4.80V98.0h-4.80ZM987.04 67.3h4.80V102.1h-4.80ZM991.75 68.0h4.80V102.9h-4.80ZM996.46 67.7h4.80V106.0h-4.80ZM998.60 67.2h4.80V106.8h-4.80Z" fill="#ff00ff"/>
<circle cx="922.5" cy="55.4" r="3.2" fill="none" stroke="#ff00ff" stroke-width="1"/>
<circle cx="932.2" cy="75.0" r="3.2" fill="none" stroke="#ff00ff" stroke-width="1"/>
<circle cx="829.8" cy="58.6" r="3.2" fill="none" stroke="#ff00ff" stroke-width="1"/>
<g><use href="#mk4" x="787.0" y="60.9"/><use href="#mk4" x="791.7" y="61.2"/><use href="#mk4" x="796.4" y="60.7"/><use href="#mk4" x="801.1" y="59.9"/><use href="#mk4" x="805.8" y="59.6"/><use href="#mk4" x="810.5" y="60.9"/><use href="#mk4" x="815.2" y="60.0"/><use href="#mk4" x="820.0" y="60.1"/><use href="#mk4" x="824.7" y="61.0"/><use href="#mk4" x="829.4" y="61.0"/><use href="#mk4" x="834.1" y="60.9"/><use href="#mk4" x="838.8" y="61.4"/><use href="#mk4" x="843.5" y="61.2"/><use href="#mk4" x="848.2" y="59.9"/><use href="#mk4" x="852.9" y="61.9"/><use href="#mk4" x="857.6" y="60.0"/><use href="#mk4" x="862.3" y="60.2"/><use href="#mk4" x="867.0" y="60.3"/><use href="#mk4" x="871.7" y="60.9"/><use href="#mk4" x="876.5" y="59.3"/><use href="#mk4" x="881.2" y="61.1"/><use href="#mk4" x="885.9" y="60.9"/><use href="#mk4" x="890.6" y="62.1"/><use href="#mk4" x="895.3" y="64.0"/><use href="#mk4" x="900.0" y="63.9"/><use href="#mk4" x="904.7" y="65.5"/><use href="#mk4" x="909.4" y="69.5"/><use href="#mk4" x="914.1" y="69.2"/><use href="#mk4" x="918.8" y="66.1"/><use href="#mk4" x="923.5" y="63.7"/><use href="#mk4" x="928.2" y="62.8"/><use href="#mk4" x="932.9" y="65.1"/><use href="#mk4" x="937.7" y="67.3"/><use href="#mk4" x="942.4" y="71.3"/><use href="#mk4" x="947.1" y="70.7"/><use href="#mk4" x="951.8" y="72.2"/><use href="#mk4" x="956.5" y="73.3"/><use href="#mk4" x="961.2" y="74.3"/><use href="#mk4" x="965.9" y="81.6"/><use href="#mk4" x="970.6" y="80.6"/><use href="#mk4" x="975.3" y="81.3"/><use href="#mk4" x="980.0" y="92.9"/><use href="#mk4" x="984.7" y="92.9"/><use href="#mk4" x="989.4" y="92.2"/><use href="#mk4" x="994.2" y="99.0"/><use href="#mk4" x="998.9" y="103.2"/><use href="#mk4" x="1001.0" y="105.4"/></g>
<path d="M787.00 58.2V63.9M791.71 58.0V65.2M796.42 58.1V66.5M801.12 59.1V66.7M805.83 58.8V68.6M810.54 59.6V69.6M815.25 59.5V68.7M819.96 61.1V71.3M824.66 60.9V71.9M829.37 60.5V72.4M834.08 61.3V74.3M838.79 60.9V75.0M843.50 61.2V76.4M848.20 61.3V77.3M852.91 61.6V79.4M857.62 62.9V79.0M862.33 62.6V81.7M867.04 62.8V80.6M871.74 63.4V83.6M876.45 63.6V86.6M881.16 63.8V88.5M885.87 64.5V89.7M890.58 68.3V93.0M895.28 72.2V103.5M899.99 74.9V111.6M904.70 79.8V118.0M909.41 84.5V123.9M914.12 87.1V129.8M918.82 92.1V134.9M923.53 100.0V136.5M928.24 107.2V142.7M932.95 115.7V153.0M937.66 127.4V188.8M942.36 137.5V230.3M947.07 141.8V236.7M951.78 149.3V244.3M956.49 157.5V250.1M961.20 164.4V258.7M965.90 171.4V263.9M970.61 172.7V267.0M975.32 174.0V272.0M980.03 178.0V279.1M984.74 179.0V281.1M989.44 182.9V285.9M994.15 182.2V295.5M998.86 182.2V301.7M1001.00 182.7V304.1" stroke="#00ffff" stroke-width="1.3" stroke-opacity="0.75" fill="none"/>
<path d="M784.60 58.9h4.80V61.4h-4.80ZM789.31 58.1h4.80V64.7h-4.80ZM794.02 58.1h4.80V64.3h-4.80ZM798.72 60.9h4.80V66.1h-4.80ZM803.43 59.5h4.80V66.6h-4.80ZM808.14 60.0h4.80V68.7h-4.80ZM812.85 62.1h4.80V66.6h-4.80ZM817.56 62.2h4.80V70.0h-4.80ZM822.26 61.9h4.80V71.2h-4.80ZM826.97 60.8h4.80V70.7h-4.80ZM831.68 62.7h4.80V73.6h-4.80ZM836.39 61.7h4.80V73.0h-4.80ZM841.10 61.5h4.80V74.5h-4.80ZM845.80 61.9h4.80V76.4h-4.80ZM850.51 63.5h4.80V76.7h-4.80ZM855.22 63.7h4.80V76.7h-4.80ZM859.93 63.2h4.80V78.4h-4.80ZM864.64 63.0h4.80V77.7h-4.80ZM869.34 63.7h4.80V81.3h-4.80ZM874.05 64.8h4.80V82.6h-4.80ZM878.76 64.4h4.80V83.1h-4.80ZM883.47 65.7h4.80V84.1h-4.80ZM888.18 69.6h4.80V88.8h-4.80ZM892.88 73.9h4.80V92.2h-4.80ZM897.59 76.4h4.80V93.3h-4.80ZM902.30 83.6h4.80V99.2h-4.80ZM907.01 86.7h4.80V114.0h-4.80ZM911.72 90.0h4.80V122.0h-4.80ZM916.42 92.5h4.80V124.1h-4.80ZM921.13 102.5h4.80V129.9h-4.80ZM925.84 108.0h4.80V136.7h-4.80ZM930.55 115.7h4.80V142.1h-4.80ZM935.26 135.2h4.80V185.5h-4.80ZM939.96 139.9h4.80V230.3h-4.80ZM944.67 141.8h4.80V231.5h-4.80ZM949.38 149.3h4.80V238.4h-4.80ZM954.09 158.6h4.80V246.1h-4.80ZM958.80 165.1h4.80V250.9h-4.80ZM963.50 174.5h4.80V256.2h-4.80ZM968.21 175.4h4.80V263.6h-4.80ZM972.92 178.7h4.80V266.9h-4.80ZM977.63 181.7h4.80V270.9h-4.80ZM982.34 183.0h4.80V276.4h-4.80ZM987.04 186.3h4.80V279.8h-4.80ZM991.75 185.9h4.80V286.1h-4.80ZM996.46 188.1h4.80V295.5h-4.80ZM998.60 188.6h4.80V295.9h-4.80Z" fill="#00ffff"/>
<circle cx="821.2" cy="59.4" r="3.2" fill="none" stroke="#00ffff" stroke-width="1"/>
<circle cx="829.8" cy="61.0" r="3.2" fill="none" stroke="#00ffff" stroke-width="1"/>
<g><use href="#mk5" x="787.0" y="60.7"/><use href="#mk5" x="791.7" y="59.4"/><use href="#mk5" x="796.4" y="61.5"/><use href="#mk5" x="801.1" y="61.1"/><use href="#mk5" x="805.8" y="61.5"/><use href="#mk5" x="810.5" y="62.1"/><use href="#mk5" x="815.2" y="63.6"/><use href="#mk5" x="820.0" y="64.5"/><use href="#mk5" x="824.7" y="65.6"/><use href="#mk5" x="829.4" y="63.9"/><use href="#mk5" x="834.1" y="68.6"/><use href="#mk5" x="838.8" y="69.3"/><use href="#mk5" x="843.5" y="68.7"/><use href="#mk5" x="848.2" y="70.6"/><use href="#mk5" x="852.9" y="70.7"/><use href="#mk5" x="857.6" y="73.1"/><use href="#mk5" x="862.3" y="71.6"/><use href="#mk5" x="867.0" y="73.8"/><use href="#mk5" x="871.7" y="74.2"/><use href="#mk5" x="876.5" y="74.0"/><use href="#mk5" x="881.2" y="71.6"/><use href="#mk5" x="885.9" y="70.5"/><use href="#mk5" x="890.6" y="72.8"/><use href="#mk5" x="895.3" y="77.7"/><use href="#mk5" x="900.0" y="86.0"/><use href="#mk5" x="904.7" y="86.3"/><use href="#mk5" x="909.4" y="92.4"/><use href="#mk5" x="914.1" y="97.5"/><use href="#mk5" x="918.8" y="99.9"/><use href="#mk5" x="923.5" y="111.8"/><use href="#mk5" x="928.2" y="118.3"/><use href="#mk5" x="932.9" y="133.3"/><use href="#mk5" x="937.7" y="154.5"/><use href="#mk5" x="942.4" y="163.6"/><use href="#mk5" x="947.1" y="171.9"/><use href="#mk5" x="951.8" y="174.3"/><use href="#mk5" x="956.5" y="180.0"/><use href="#mk5" x="961.2" y="182.0"/><use href="#mk5" x="965.9" y="193.7"/><use href="#mk5" x="970.6" y="210.0"/><use href="#mk5" x="975.3" y="238.3"/><use href="#mk5" x="980.0" y="256.2"/><use href="#mk5" x="984.7" y="265.6"/><use href="#mk5" x="989.4" y="272.0"/><use href="#mk5" x="994.2" y="275.0"/><use href="#mk5" x="998.9" y="273.0"/><use href="#mk5" x="1001.0" y="269.7"/></g>
<path d="M787.00 56.0V65.3M791.71 57.0V66.9M796.42 57.8V69.7M801.12 58.6V72.1M805.83 59.4V75.0M810.54 61.1V71.7M815.25 60.8V74.6M819.96 62.4V83.1M824.66 66.3V85.9M829.37 66.4V94.1M834.08 70.4V98.4M838.79 72.6V99.0M843.50 69.9V107.4M848.20 77.0V129.2M852.91 85.4V160.8M857.62 87.6V172.3M862.33 94.8V211.0M867.04 105.6V239.5M871.74 122.3V256.0M876.45 142.1V267.0M881.16 175.7V272.3M885.87 204.5V277.9M890.58 212.5V274.6M895.28 234.9V284.6M899.99 235.9V290.2M904.70 245.0V296.4M909.41 260.2V301.5M914.12 265.8V307.9M918.82 264.7V312.2M923.53 267.8V314.3M928.24 272.7V317.1M932.95 266.9V317.1M937.66 275.7V317.4M942.36 273.9V318.9M947.07 269.2V318.8M951.78 265.9V318.8M956.49 261.6V319.9M961.20 265.9V320.5M965.90 269.7V321.1M970.61 271.8V322.0M975.32 273.8V321.8M980.03 264.6V322.0M984.74 267.6V324.7M989.44 272.9V322.8M994.15 273.8V324.0M998.86 289.2V325.8M1001.00 300.4V324.6" stroke="#ffff00" stroke-width="1.3" stroke-opacity="0.75" fill="none"/>
<path d="M784.60 60.5h4.80V63.4h-4.80ZM789.31 59.9h4.80V62.9h-4.80ZM794.02 57.9h4.80V63.8h-4.80ZM798.72 61.3h4.80V62.8h-4.80ZM803.43 59.4h4.80V65.6h-4.80ZM808.14 61.9h4.80V67.5h-4.80ZM812.85 63.4h4.80V69.6h-4.80ZM817.56 62.4h4.80V72.2h-4.80ZM822.26 69.8h4.80V78.2h-4.80ZM826.97 68.9h4.80V84.2h-4.80ZM831.68 73.4h4.80V89.3h-4.80ZM836.39 77.8h4.80V93.7h-4.80ZM841.10 78.1h4.80V98.0h-4.80ZM845.80 83.5h4.80V111.6h-4.80ZM850.51 92.0h4.80V132.1h-4.80ZM855.22 98.7h4.80V154.7h-4.80ZM859.93 109.5h4.80V208.4h-4.80ZM864.64 115.9h4.80V239.5h-4.80ZM869.34 129.0h4.80V248.9h-4.80ZM874.05 147.4h4.80V252.9h-4.80ZM878.76 206.2h4.80V256.8h-4.80ZM883.47 219.6h4.80V263.2h-4.80ZM888.18 232.2h4.80V265.8h-4.80ZM892.88 257.7h4.80V276.3h-4.80ZM897.59 262.3h4.80V286.4h-4.80ZM902.30 267.3h4.80V292.3h-4.80ZM907.01 266.9h4.80V296.0h-4.80ZM911.72 271.6h4.80V304.9h-4.80ZM916.42 276.0h4.80V310.2h-4.80ZM921.13 277.0h4.80V312.1h-4.80ZM925.84 282.1h4.80V314.7h-4.80ZM930.55 287.7h4.80V314.5h-4.80ZM935.26 292.3h4.80V316.5h-4.80ZM939.96 293.8h4.80V316.2h-4.80ZM944.67 294.3h4.80V317.6h-4.80ZM949.38 295.5h4.80V316.5h-4.80ZM954.09 293.3h4.80V317.8h-4.80ZM958.80 296.2h4.80V320.0h-4.80ZM963.50 295.3h4.80V320.8h-4.80ZM968.21 296.2h4.80V322.0h-4.80ZM972.92 301.0h4.80V321.3h-4.80ZM977.63 298.8h4.80V320.7h-4.80ZM982.34 301.8h4.80V324.7h-4.80ZM987.04 302.9h4.80V322.1h-4.80ZM991.75 306.3h4.80V323.4h-4.80ZM996.46 306.8h4.80V325.8h-4.80ZM998.60 310.1h4.80V324.4h-4.80Z" fill="#ffff00"/>
<circle cx="804.1" cy="67.4" r="3.2" fill="none" stroke="#ffff00" stroke-width="1"/>
<circle cx="998.1" cy="308.6" r="3.2" fill="none" stroke="#ffff00" stroke-width="1"/>
<g><use href="#mk6" x="787.0" y="63.0"/><use href="#mk6" x="791.7" y="59.9"/><use href="#mk6" x="796.4" y="58.8"/><use href="#mk6" x="801.1" y="62.8"/><use href="#mk6" x="805.8" y="59.4"/><use href="#mk6" x="810.5" y="64.0"/><use href="#mk6" x="815.2" y="63.4"/><use href="#mk6" x="820.0" y="62.4"/><use href="#mk6" x="824.7" y="70.8"/><use href="#mk6" x="829.4" y="68.9"/><use href="#mk6" x="834.1" y="75.4"/><use href="#mk6" x="838.8" y="80.9"/><use href="#mk6" x="843.5" y="88.6"/><use href="#mk6" x="848.2" y="92.7"/><use href="#mk6" x="852.9" y="107.7"/><use href="#mk6" x="857.6" y="108.4"/><use href="#mk6" x="862.3" y="133.0"/><use href="#mk6" x="867.0" y="142.3"/><use href="#mk6" x="871.7" y="159.4"/><use href="#mk6" x="876.5" y="201.9"/><use href="#mk6" x="881.2" y="229.1"/><use href="#mk6" x="885.9" y="243.1"/><use href="#mk6" x="890.6" y="251.7"/><use href="#mk6" x="895.3" y="270.1"/><use href="#mk6" x="900.0" y="274.4"/><use href="#mk6" x="904.7" y="276.5"/><use href="#mk6" x="909.4" y="280.9"/><use href="#mk6" x="914.1" y="285.1"/><use href="#mk6" x="918.8" y="292.9"/><use href="#mk6" x="923.5" y="301.9"/><use href="#mk6" x="928.2" y="302.4"/><use href="#mk6" x="932.9" y="307.0"/><use href="#mk6" x="937.7" y="314.9"/><use href="#mk6" x="942.4" y="316.2"/><use href="#mk6" x="947.1" y="315.5"/><use href="#mk6" x="951.8" y="315.6"/><use href="#mk6" x="956.5" y="317.6"/><use href="#mk6" x="961.2" y="320.0"/><use href="#mk6" x="965.9" y="320.8"/><use href="#mk6" x="970.6" y="322.0"/><use href="#mk6" x="975.3" y="321.3"/><use href="#mk6" x="980.0" y="320.7"/><use href="#mk6" x="984.7" y="324.7"/><use href="#mk6" x="989.4" y="322.1"/><use href="#mk6" x="994.2" y="323.4"/><use href="#mk6" x="998.9" y="325.8"/><use href="#mk6" x="1001.0" y="324.4"/></g>
<path d="M787.00 56.7V66.1M791.71 61.7V84.6M796.42 64.8V94.4M801.12 71.0V109.7M805.83 75.6V121.5M810.54 82.8V160.5M815.25 92.0V178.8M819.96 113.6V204.6M824.66 123.1V214.4M829.37 127.6V228.8M834.08 137.2V230.2M838.79 152.2V239.2M843.50 164.8V250.6M848.20 172.6V255.7M852.91 185.7V263.7M857.62 200.4V265.6M862.33 201.4V275.1M867.04 208.4V284.6M871.74 216.0V296.7M876.45 225.4V311.1M881.16 245.2V317.0M885.87 260.8V319.9M890.58 270.1V321.1M895.28 273.3V323.5M899.99 282.2V325.3M904.70 288.9V326.7M909.41 294.7V326.6M914.12 306.0V327.0M918.82 304.8V327.7M923.53 304.8V327.5M928.24 308.2V328.5M932.95 310.0V329.2M937.66 310.4V330.0M942.36 311.4V328.5M947.07 311.1V329.8M951.78 312.8V330.4M956.49 313.8V330.4M961.20 314.9V331.0M965.90 311.9V331.3M970.61 314.7V331.8M975.32 314.0V331.6M980.03 315.5V331.3M984.74 317.3V332.9M989.44 318.7V333.1M994.15 319.4V332.6M998.86 319.1V333.9M1001.00 319.4V332.8" stroke="#00ff00" stroke-width="1.3" stroke-opacity="0.75" fill="none"/>
<path d="M784.60 60.9h4.80V64.6h-4.80ZM789.31 62.4h4.80V67.5h-4.80ZM794.02 64.8h4.80V69.4h-4.80ZM798.72 71.7h4.80V77.9h-4.80ZM803.43 81.4h4.80V93.9h-4.80ZM808.14 93.8h4.80V129.0h-4.80ZM812.85 116.4h4.80V176.1h-4.80ZM817.56 126.6h4.80V204.6h-4.80ZM822.26 134.4h4.80V209.9h-4.80ZM826.97 138.4h4.80V211.1h-4.80ZM831.68 154.2h4.80V214.8h-4.80ZM836.39 184.3h4.80V231.2h-4.80ZM841.10 195.1h4.80V247.9h-4.80ZM845.80 197.8h4.80V250.4h-4.80ZM850.51 200.9h4.80V253.8h-4.80ZM855.22 211.5h4.80V256.6h-4.80ZM859.93 219.3h4.80V262.9h-4.80ZM864.64 239.7h4.80V270.5h-4.80ZM869.34 245.9h4.80V280.7h-4.80ZM874.05 249.5h4.80V299.2h-4.80ZM878.76 261.9h4.80V314.6h-4.80ZM883.47 272.1h4.80V316.1h-4.80ZM888.18 284.8h4.80V319.5h-4.80ZM892.88 298.6h4.80V322.1h-4.80ZM897.59 299.5h4.80V323.5h-4.80ZM902.30 305.3h4.80V325.0h-4.80ZM907.01 307.7h4.80V326.1h-4.80ZM911.72 313.7h4.80V326.0h-4.80ZM916.42 313.7h4.80V327.2h-4.80ZM921.13 316.2h4.80V326.5h-4.80ZM925.84 313.7h4.80V328.2h-4.80ZM930.55 316.6h4.80V329.2h-4.80ZM935.26 314.9h4.80V330.0h-4.80ZM939.96 316.5h4.80V327.1h-4.80ZM944.67 317.1h4.80V329.6h-4.80ZM949.38 318.0h4.80V330.0h-4.80ZM954.09 318.5h4.80V328.2h-4.80ZM958.80 318.5h4.80V330.3h-4.80ZM963.50 319.6h4.80V329.9h-4.80ZM968.21 318.3h4.80V330.8h-4.80ZM972.92 321.3h4.80V330.6h-4.80ZM977.63 322.5h4.80V328.8h-4.80ZM982.34 320.1h4.80V332.5h-4.80ZM987.04 323.2h4.80V332.8h-4.80ZM991.75 322.2h4.80V331.5h-4.80ZM996.46 323.1h4.80V331.6h-4.80ZM998.60 321.8h4.80V330.7h-4.80Z" fill="#00ff00"/>
<circle cx="789.9" cy="70.6" r="3.2" fill="none" stroke="#00ff00" stroke-width="1"/>
<circle cx="794.1" cy="73.9" r="3.2" fill="none" stroke="#00ff00" stroke-width="1"/>
<g><use href="#mk7" x="787.0" y="63.8"/><use href="#mk7" x="791.7" y="67.5"/><use href="#mk7" x="796.4" y="69.1"/><use href="#mk7" x="801.1" y="74.3"/><use href="#mk7" x="805.8" y="93.9"/><use href="#mk7" x="810.5" y="114.5"/><use href="#mk7" x="815.2" y="127.6"/><use href="#mk7" x="820.0" y="167.1"/><use href="#mk7" x="824.7" y="190.0"/><use href="#mk7" x="829.4" y="186.4"/><use href="#mk7" x="834.1" y="198.2"/><use href="#mk7" x="838.8" y="216.5"/><use href="#mk7" x="843.5" y="232.1"/><use href="#mk7" x="848.2" y="243.6"/><use href="#mk7" x="852.9" y="245.0"/><use href="#mk7" x="857.6" y="248.3"/><use href="#mk7" x="862.3" y="240.5"/><use href="#mk7" x="867.0" y="247.3"/><use href="#mk7" x="871.7" y="271.2"/><use href="#mk7" x="876.5" y="281.7"/><use href="#mk7" x="881.2" y="288.1"/><use href="#mk7" x="885.9" y="291.8"/><use href="#mk7" x="890.6" y="304.3"/><use href="#mk7" x="895.3" y="306.0"/><use href="#mk7" x="900.0" y="308.9"/><use href="#mk7" x="904.7" y="325.0"/><use href="#mk7" x="909.4" y="322.9"/><use href="#mk7" x="914.1" y="324.7"/><use href="#mk7" x="918.8" y="323.9"/><use href="#mk7" x="923.5" y="324.0"/><use href="#mk7" x="928.2" y="327.6"/><use href="#mk7" x="932.9" y="327.1"/><use href="#mk7" x="937.7" y="327.4"/><use href="#mk7" x="942.4" y="327.1"/><use href="#mk7" x="947.1" y="329.5"/><use href="#mk7" x="951.8" y="330.0"/><use href="#mk7" x="956.5" y="327.4"/><use href="#mk7" x="961.2" y="326.4"/><use href="#mk7" x="965.9" y="329.9"/><use href="#mk7" x="970.6" y="328.5"/><use href="#mk7" x="975.3" y="328.6"/><use href="#mk7" x="980.0" y="328.0"/><use href="#mk7" x="984.7" y="326.9"/><use href="#mk7" x="989.4" y="327.0"/><use href="#mk7" x="994.2" y="330.0"/><use href="#mk7" x="998.9" y="328.3"/><use href="#mk7" x="1001.0" y="327.9"/></g>
<line x1="787.0" y1="344.0" x2="787.0" y2="340.0" stroke="#262626" stroke-width="1"/>
<line x1="787.0" y1="22.4" x2="787.0" y2="26.4" stroke="#262626" stroke-width="1"/>
<line x1="829.8" y1="344.0" x2="829.8" y2="340.0" stroke="#262626" stroke-width="1"/>
<line x1="829.8" y1="22.4" x2="829.8" y2="26.4" stroke="#262626" stroke-width="1"/>
<line x1="872.6" y1="344.0" x2="872.6" y2="340.0" stroke="#262626" stroke-width="1"/>
<line x1="872.6" y1="22.4" x2="872.6" y2="26.4" stroke="#262626" stroke-width="1"/>
<line x1="915.4" y1="344.0" x2="915.4" y2="340.0" stroke="#262626" stroke-width="1"/>
<line x1="915.4" y1="22.4" x2="915.4" y2="26.4" stroke="#262626" stroke-width="1"/>
<line x1="958.2" y1="344.0" x2="958.2" y2="340.0" stroke="#262626" stroke-width="1"/>
<line x1="958.2" y1="22.4" x2="958.2" y2="26.4" stroke="#262626" stroke-width="1"/>
<line x1="1001.0" y1="344.0" x2="1001.0" y2="340.0" stroke="#262626" stroke-width="1"/>
<line x1="1001.0" y1="22.4" x2="1001.0" y2="26.4" stroke="#262626" stroke-width="1"/>
<line x1="787.0" y1="344.0" x2="791.0" y2="344.0" stroke="#262626" stroke-width="1"/>
<line x1="1001.0" y1="344.0" x2="997.0" y2="344.0" stroke="#262626" stroke-width="1"/>
<line x1="787.0" y1="303.8" x2="791.0" y2="303.8" stroke="#262626" stroke-width="1"/>
<line x1="1001.0" y1="303.8" x2="997.0" y2="303.8" stroke="#262626" stroke-width="1"/>
<line x1="787.0" y1="263.6" x2="791.0" y2="263.6" stroke="#262626" stroke-width="1"/>
<line x1="1001.0" y1="263.6" x2="997.0" y2="263.6" stroke="#262626" stroke-width="1"/>
<line x1="787.0" y1="223.4" x2="791.0" y2="223.4" stroke="#262626" stroke-width="1"/>
<line x1="1001.0" y1="223.4" x2="997.0" y2="223.4" stroke="#262626" stroke-width="1"/>
<line x1="787.0" y1="183.2" x2="791.0" y2="183.2" stroke="#262626" stroke-width="1"/>
<line x1="1001.0" y1="183.2" x2="997.0" y2="183.2" stroke="#262626" stroke-width="1"/>
<line x1="787.0" y1="143.0" x2="791.0" y2="143.0" stroke="#262626" stroke-width="1"/>
<line x1="1001.0" y1="143.0" x2="997.0" y2="143.0" stroke="#262626" stroke-width="1"/>
<line x1="787.0" y1="102.8" x2="791.0" y2="102.8" stroke="#262626" stroke-width="1"/>
<line x1="1001.0" y1="102.8" x2="997.0" y2="102.8" stroke="#262626" stroke-width="1"/>
<line x1="787.0" y1="62.6" x2="791.0" y2="62.6" stroke="#262626" stroke-width="1"/>
<line x1="1001.0" y1="62.6" x2="997.0" y2="62.6" stroke="#262626" stroke-width="1"/>
<line x1="787.0" y1="22.4" x2="791.0" y2="22.4" stroke="#262626" stroke-width="1"/>
<line x1="1001.0" y1="22.4" x2="997.0" y2="22.4" stroke="#262626" stroke-width="1"/>
<line x1="787.0" y1="22.4" x2="1001.0" y2="22.4" stroke="#262626" stroke-width="1.3"/>
<line x1="787.0" y1="344.0" x2="1001.0" y2="344.0" stroke="#262626" stroke-width="1.3"/>
<line x1="787.0" y1="22.4" x2="787.0" y2="344.0" stroke="#262626" stroke-width="1.3"/>
<line x1="1001.0" y1="22.4" x2="1001.0" y2="344.0" stroke="#262626" stroke-width="1.3"/>
<text x="787.0" y="377.6" font-size="24" fill="#262626" text-anchor="middle">0</text>
<text x="829.8" y="377.6" font-size="24" fill="#262626" text-anchor="middle">30</text>
<text x="872.6" y="377.6" font-size="24" fill="#262626" text-anchor="middle">60</text>
<text x="915.4" y="377.6" font-size="24" fill="#262626" text-anchor="middle">90</text>
<text x="958.2" y="377.6" font-size="24" fill="#262626" text-anchor="middle">120</text>
<text x="1001.0" y="377.6" font-size="24" fill="#262626" text-anchor="middle">150</text>
<text x="777.5" y="354.3" font-size="24" fill="#262626" text-anchor="end">0</text>
<text x="777.5" y="314.1" font-size="24" fill="#262626" text-anchor="end">25</text>
<text x="777.5" y="273.9" font-size="24" fill="#262626" text-anchor="end">50</text>
<text x="777.5" y="233.7" font-size="24" fill="#262626" text-anchor="end">75</text>
<text x="777.5" y="193.5" font-size="24" fill="#262626" text-anchor="end">100</text>
<text x="777.5" y="153.3" font-size="24" fill="#262626" text-anchor="end">125</text>
<text x="777.5" y="113.1" font-size="24" fill="#262626" text-anchor="end">150</text>
<text x="777.5" y="72.9" font-size="24" fill="#262626" text-anchor="end">175</text>
<text x="777.5" y="32.7" font-size="24" fill="#262626" text-anchor="end">200</text>
<text x="926.0" y="405.8" font-size="26.2" fill="#262626" text-anchor="middle">Iteration</text>
<text x="726.5" y="182.8" font-size="27" fill="#262626" text-anchor="middle" transform="rotate(-90 726.5 182.8)">RMSE</text>
<text x="908.0" y="47.0" font-size="21.5" fill="#ff00ff" text-anchor="start"><tspan font-family="Liberation Serif" font-style="italic" font-size="1.2em">&#945;</tspan> = 1e-4</text>
<text x="866.0" y="192.5" font-size="21.5" fill="#00ffff" text-anchor="start"><tspan font-family="Liberation Serif" font-style="italic" font-size="1.2em">&#945;</tspan> = 0.1</text>
<text x="894.0" y="256.5" font-size="21.5" fill="#ffff00" text-anchor="start"><tspan font-family="Liberation Serif" font-style="italic" font-size="1.2em">&#945;</tspan> = 0.5</text>
<text x="803.0" y="313.4" font-size="21.5" fill="#00ff00" text-anchor="start"><tspan font-family="Liberation Serif" font-style="italic" font-size="1.2em">&#945;</tspan> = 0.9</text>
<path d="M1122.0 65.0V80.3M1132.4 59.4V118.2M1142.7 71.0V106.3M1153.1 85.1V204.7M1163.5 90.3V178.5M1173.9 101.2V176.4M1184.2 163.9V272.0M1194.6 235.9V314.6M1205.0 199.3V310.2M1215.3 293.5V327.9M1225.7 278.6V329.5M1236.1 317.0V329.5M1246.4 322.0V331.1M1256.8 314.6V331.1M1267.2 318.3V331.1M1277.6 319.9V332.7M1287.9 323.9V329.5" stroke="#ff0000" stroke-width="1" stroke-opacity="0.85"/>
<path d="M1119.4 67.3h5.2V80.3h-5.2ZM1129.8 61.2h5.2V102.3h-5.2ZM1140.1 73.2h5.2V95.2h-5.2ZM1150.5 88.2h5.2V151.4h-5.2ZM1160.9 108.3h5.2V178.5h-5.2ZM1171.3 118.2h5.2V149.4h-5.2ZM1181.6 183.8h5.2V258.0h-5.2ZM1192.0 252.5h5.2V305.6h-5.2ZM1202.4 260.7h5.2V306.9h-5.2ZM1212.7 293.5h5.2V321.0h-5.2ZM1223.1 303.0h5.2V328.6h-5.2ZM1233.5 317.0h5.2V327.3h-5.2ZM1243.8 322.0h5.2V330.0h-5.2ZM1254.2 322.0h5.2V330.0h-5.2ZM1264.6 321.5h5.2V330.0h-5.2ZM1275.0 319.9h5.2V330.7h-5.2ZM1285.3 323.9h5.2V327.9h-5.2Z" fill="#ff0000"/>
<polyline points="1122.0,80.3 1132.4,71.3 1142.7,90.3 1153.1,132.1 1163.5,116.3 1173.9,135.9 1184.2,249.8 1194.6,280.3 1205.0,289.3 1215.3,320.4 1225.7,322.9 1236.1,326.0 1246.4,328.6 1256.8,327.9 1267.2,328.6 1277.6,330.7 1287.9,327.9" fill="none" stroke="#ff0000" stroke-width="1"/>
<circle cx="1215.3" cy="221.0" r="3" fill="none" stroke="#ff0000" stroke-width="1"/>
<circle cx="1236.1" cy="293.5" r="3" fill="none" stroke="#ff0000" stroke-width="1"/>
<circle cx="1287.9" cy="306.9" r="3" fill="none" stroke="#ff0000" stroke-width="1"/>
<circle cx="1122.0" cy="80.3" r="4.3" fill="#fff" stroke="#ff0000" stroke-width="1"/>
<circle cx="1122.0" cy="80.3" r="1" fill="#000"/>
<circle cx="1132.4" cy="71.3" r="4.3" fill="#fff" stroke="#ff0000" stroke-width="1"/>
<circle cx="1132.4" cy="71.3" r="1" fill="#000"/>
<circle cx="1142.7" cy="90.3" r="4.3" fill="#fff" stroke="#ff0000" stroke-width="1"/>
<circle cx="1142.7" cy="90.3" r="1" fill="#000"/>
<circle cx="1153.1" cy="132.1" r="4.3" fill="#fff" stroke="#ff0000" stroke-width="1"/>
<circle cx="1153.1" cy="132.1" r="1" fill="#000"/>
<circle cx="1163.5" cy="116.3" r="4.3" fill="#fff" stroke="#ff0000" stroke-width="1"/>
<circle cx="1163.5" cy="116.3" r="1" fill="#000"/>
<circle cx="1173.9" cy="135.9" r="4.3" fill="#fff" stroke="#ff0000" stroke-width="1"/>
<circle cx="1173.9" cy="135.9" r="1" fill="#000"/>
<circle cx="1184.2" cy="249.8" r="4.3" fill="#fff" stroke="#ff0000" stroke-width="1"/>
<circle cx="1184.2" cy="249.8" r="1" fill="#000"/>
<circle cx="1194.6" cy="280.3" r="4.3" fill="#fff" stroke="#ff0000" stroke-width="1"/>
<circle cx="1194.6" cy="280.3" r="1" fill="#000"/>
<circle cx="1205.0" cy="289.3" r="4.3" fill="#fff" stroke="#ff0000" stroke-width="1"/>
<circle cx="1205.0" cy="289.3" r="1" fill="#000"/>
<circle cx="1215.3" cy="320.4" r="4.3" fill="#fff" stroke="#ff0000" stroke-width="1"/>
<circle cx="1215.3" cy="320.4" r="1" fill="#000"/>
<circle cx="1225.7" cy="322.9" r="4.3" fill="#fff" stroke="#ff0000" stroke-width="1"/>
<circle cx="1225.7" cy="322.9" r="1" fill="#000"/>
<circle cx="1236.1" cy="326.0" r="4.3" fill="#fff" stroke="#ff0000" stroke-width="1"/>
<circle cx="1236.1" cy="326.0" r="1" fill="#000"/>
<circle cx="1246.4" cy="328.6" r="4.3" fill="#fff" stroke="#ff0000" stroke-width="1"/>
<circle cx="1246.4" cy="328.6" r="1" fill="#000"/>
<circle cx="1256.8" cy="327.9" r="4.3" fill="#fff" stroke="#ff0000" stroke-width="1"/>
<circle cx="1256.8" cy="327.9" r="1" fill="#000"/>
<circle cx="1267.2" cy="328.6" r="4.3" fill="#fff" stroke="#ff0000" stroke-width="1"/>
<circle cx="1267.2" cy="328.6" r="1" fill="#000"/>
<circle cx="1277.6" cy="330.7" r="4.3" fill="#fff" stroke="#ff0000" stroke-width="1"/>
<circle cx="1277.6" cy="330.7" r="1" fill="#000"/>
<circle cx="1287.9" cy="327.9" r="4.3" fill="#fff" stroke="#ff0000" stroke-width="1"/>
<circle cx="1287.9" cy="327.9" r="1" fill="#000"/>
<path d="M1290.7 256.8V286.1" stroke="#0000ff" stroke-width="1"/>
<rect x="1288.1" y="256.8" width="5.2" height="23.2" fill="#0000ff"/>
<polyline points="1124.8,344.0 1135.2,344.0 1145.5,344.0 1155.9,344.0 1166.3,344.0 1176.7,344.0 1187.0,344.0 1197.4,344.0 1207.8,344.0 1218.1,344.0 1228.5,344.0 1238.9,340.8 1249.2,335.6 1259.6,327.9 1270.0,310.6 1280.4,281.9 1290.7,256.8" fill="none" stroke="#0000ff" stroke-width="1"/>
<circle cx="1124.8" cy="344.0" r="4.3" fill="none" stroke="#0000ff" stroke-width="1"/>
<circle cx="1135.2" cy="344.0" r="4.3" fill="none" stroke="#0000ff" stroke-width="1"/>
<circle cx="1145.5" cy="344.0" r="4.3" fill="none" stroke="#0000ff" stroke-width="1"/>
<circle cx="1155.9" cy="344.0" r="4.3" fill="none" stroke="#0000ff" stroke-width="1"/>
<circle cx="1166.3" cy="344.0" r="4.3" fill="none" stroke="#0000ff" stroke-width="1"/>
<circle cx="1176.7" cy="344.0" r="4.3" fill="none" stroke="#0000ff" stroke-width="1"/>
<circle cx="1187.0" cy="344.0" r="4.3" fill="none" stroke="#0000ff" stroke-width="1"/>
<circle cx="1197.4" cy="344.0" r="4.3" fill="none" stroke="#0000ff" stroke-width="1"/>
<circle cx="1207.8" cy="344.0" r="4.3" fill="none" stroke="#0000ff" stroke-width="1"/>
<circle cx="1218.1" cy="344.0" r="4.3" fill="none" stroke="#0000ff" stroke-width="1"/>
<circle cx="1228.5" cy="344.0" r="4.3" fill="none" stroke="#0000ff" stroke-width="1"/>
<circle cx="1228.5" cy="344.0" r="1" fill="#000"/>
<circle cx="1238.9" cy="340.8" r="4.3" fill="none" stroke="#0000ff" stroke-width="1"/>
<circle cx="1238.9" cy="340.8" r="1" fill="#000"/>
<circle cx="1249.2" cy="335.6" r="4.3" fill="none" stroke="#0000ff" stroke-width="1"/>
<circle cx="1249.2" cy="335.6" r="1" fill="#000"/>
<circle cx="1259.6" cy="327.9" r="4.3" fill="none" stroke="#0000ff" stroke-width="1"/>
<circle cx="1259.6" cy="327.9" r="1" fill="#000"/>
<circle cx="1270.0" cy="310.6" r="4.3" fill="none" stroke="#0000ff" stroke-width="1"/>
<circle cx="1270.0" cy="310.6" r="1" fill="#000"/>
<circle cx="1280.4" cy="281.9" r="4.3" fill="none" stroke="#0000ff" stroke-width="1"/>
<circle cx="1280.4" cy="281.9" r="1" fill="#000"/>
<circle cx="1290.7" cy="256.8" r="4.3" fill="none" stroke="#0000ff" stroke-width="1"/>
<circle cx="1290.7" cy="256.8" r="1" fill="#000"/>
<line x1="1122.0" y1="344.0" x2="1122.0" y2="340.0" stroke="#262626"/>
<line x1="1122.0" y1="22.4" x2="1122.0" y2="26.4" stroke="#262626"/>
<line x1="1153.1" y1="344.0" x2="1153.1" y2="340.0" stroke="#262626"/>
<line x1="1153.1" y1="22.4" x2="1153.1" y2="26.4" stroke="#262626"/>
<line x1="1184.2" y1="344.0" x2="1184.2" y2="340.0" stroke="#262626"/>
<line x1="1184.2" y1="22.4" x2="1184.2" y2="26.4" stroke="#262626"/>
<line x1="1215.3" y1="344.0" x2="1215.3" y2="340.0" stroke="#262626"/>
<line x1="1215.3" y1="22.4" x2="1215.3" y2="26.4" stroke="#262626"/>
<line x1="1246.4" y1="344.0" x2="1246.4" y2="340.0" stroke="#262626"/>
<line x1="1246.4" y1="22.4" x2="1246.4" y2="26.4" stroke="#262626"/>
<line x1="1277.6" y1="344.0" x2="1277.6" y2="340.0" stroke="#262626"/>
<line x1="1277.6" y1="22.4" x2="1277.6" y2="26.4" stroke="#262626"/>
<line x1="1121.5" y1="344.0" x2="1125.5" y2="344.0" stroke="#e00000"/>
<text x="1112.4" y="353.6" font-size="24" fill="#e00000" text-anchor="end">0</text>
<line x1="1121.5" y1="263.6" x2="1125.5" y2="263.6" stroke="#e00000"/>
<text x="1112.4" y="273.2" font-size="24" fill="#e00000" text-anchor="end">50</text>
<line x1="1121.5" y1="183.2" x2="1125.5" y2="183.2" stroke="#e00000"/>
<text x="1112.4" y="192.8" font-size="24" fill="#e00000" text-anchor="end">100</text>
<line x1="1121.5" y1="102.8" x2="1125.5" y2="102.8" stroke="#e00000"/>
<text x="1112.4" y="112.4" font-size="24" fill="#e00000" text-anchor="end">150</text>
<line x1="1121.5" y1="22.4" x2="1125.5" y2="22.4" stroke="#e00000"/>
<text x="1112.4" y="32.0" font-size="24" fill="#e00000" text-anchor="end">200</text>
<line x1="1295.5" y1="344.0" x2="1291.5" y2="344.0" stroke="#0000e0"/>
<text x="1304.8" y="353.6" font-size="24" fill="#0000e0" text-anchor="start">0</text>
<line x1="1295.5" y1="279.7" x2="1291.5" y2="279.7" stroke="#0000e0"/>
<text x="1304.8" y="289.3" font-size="24" fill="#0000e0" text-anchor="start">20</text>
<line x1="1295.5" y1="215.4" x2="1291.5" y2="215.4" stroke="#0000e0"/>
<text x="1304.8" y="225.0" font-size="24" fill="#0000e0" text-anchor="start">40</text>
<line x1="1295.5" y1="151.0" x2="1291.5" y2="151.0" stroke="#0000e0"/>
<text x="1304.8" y="160.6" font-size="24" fill="#0000e0" text-anchor="start">60</text>
<line x1="1295.5" y1="86.7" x2="1291.5" y2="86.7" stroke="#0000e0"/>
<text x="1304.8" y="96.3" font-size="24" fill="#0000e0" text-anchor="start">80</text>
<line x1="1295.5" y1="22.4" x2="1291.5" y2="22.4" stroke="#0000e0"/>
<text x="1304.8" y="32.0" font-size="24" fill="#0000e0" text-anchor="start">100</text>
<line x1="1121.5" y1="22.4" x2="1295.5" y2="22.4" stroke="#262626" stroke-width="1.3"/>
<line x1="1121.5" y1="344.0" x2="1295.5" y2="344.0" stroke="#262626" stroke-width="1.3"/>
<line x1="1121.5" y1="22.4" x2="1121.5" y2="344.0" stroke="#e00000" stroke-width="1.3"/>
<line x1="1295.5" y1="22.4" x2="1295.5" y2="344.0" stroke="#0000e0" stroke-width="1.3"/>
<text x="1133.3" y="354.2" font-size="24" fill="#262626" text-anchor="end" transform="rotate(-90 1133.3 354.2)">1e-4</text>
<text x="1164.4" y="354.2" font-size="24" fill="#262626" text-anchor="end" transform="rotate(-90 1164.4 354.2)">5e-3</text>
<text x="1195.5" y="354.2" font-size="24" fill="#262626" text-anchor="end" transform="rotate(-90 1195.5 354.2)">0.1</text>
<text x="1226.6" y="354.2" font-size="24" fill="#262626" text-anchor="end" transform="rotate(-90 1226.6 354.2)">0.4</text>
<text x="1257.7" y="354.2" font-size="24" fill="#262626" text-anchor="end" transform="rotate(-90 1257.7 354.2)">0.7</text>
<text x="1288.8" y="354.2" font-size="24" fill="#262626" text-anchor="end" transform="rotate(-90 1288.8 354.2)">0.95</text>
<text x="1059.0" y="183.2" font-size="27.1" fill="#e00000" text-anchor="middle" transform="rotate(-90 1059.0 183.2)">Red: RMSE at iteration 80</text>
<text x="1380.0" y="183.2" font-size="27.1" fill="#0000e0" text-anchor="middle" transform="rotate(-90 1380.0 183.2)">Blue: Percent unsafe</text>
<text x="1252.0" y="408.0" font-size="31" fill="#262626" text-anchor="middle" font-family="Liberation Serif" font-style="italic">&#945;</text>
<path d="M107.00 556.6V567.2M110.09 558.3V574.1M113.19 560.3V578.8M116.28 562.7V594.5M119.37 566.2V618.2M122.47 576.9V638.9M125.56 581.4V664.6M128.65 604.8V684.4M131.75 611.6V697.1M134.84 632.3V708.9M137.93 640.8V723.3M141.03 653.4V734.4M144.12 649.9V744.4M147.21 658.5V757.3M150.31 662.8V758.4M153.40 678.4V766.4M156.49 682.9V771.3M159.59 691.1V780.6M162.68 710.3V786.1M165.77 718.1V800.9M168.87 720.1V810.7M171.96 734.5V813.0M175.05 754.4V814.4M178.15 762.4V814.6M181.24 786.7V816.9M184.33 786.5V816.7M187.43 787.6V818.4M190.52 788.6V818.2M193.61 791.5V817.3M196.71 789.6V818.7M199.80 795.8V817.4M202.89 803.7V818.0M205.99 799.4V818.9M209.08 805.2V819.4M212.17 800.3V818.6M215.27 800.4V819.1M218.36 804.0V819.6M221.45 802.0V819.7M224.55 798.9V820.2M227.64 799.1V819.5M230.73 804.5V819.1M233.83 798.1V820.2M236.92 797.2V820.8M240.01 797.3V819.9M243.11 803.9V821.1M246.20 810.9V820.2M249.29 810.9V821.4M252.39 811.1V820.5M255.48 811.1V821.2M258.57 811.6V821.0M261.67 811.7V821.7M264.76 812.3V821.5M267.85 812.8V821.5M270.95 811.9V822.1M274.04 812.4V821.6M277.13 812.6V822.0M280.23 812.8V820.8M283.32 813.5V821.9M286.41 814.1V822.7M289.51 813.7V822.3M292.60 813.5V822.2M295.69 814.5V823.0M298.79 815.4V822.7M301.88 814.2V823.0M304.97 815.0V823.4M308.07 815.2V823.2M311.16 814.9V822.2M314.25 816.2V822.5M317.35 815.6V823.5M320.44 816.1V823.6M323.53 816.3V823.7M326.63 817.1V823.6M329.72 816.0V823.0M332.81 817.5V823.7M335.91 816.4V823.9M339.00 816.5V824.0" stroke="#ff0000" stroke-width="0.9" stroke-opacity="0.75" fill="none"/>
<path d="M105.45 560.7h3.10V565.5h-3.10ZM108.54 561.6h3.10V570.4h-3.10ZM111.64 563.1h3.10V574.5h-3.10ZM114.73 567.5h3.10V581.1h-3.10ZM117.82 574.7h3.10V602.8h-3.10ZM120.92 584.0h3.10V631.8h-3.10ZM124.01 600.0h3.10V664.6h-3.10ZM127.10 617.4h3.10V684.4h-3.10ZM130.20 630.5h3.10V696.6h-3.10ZM133.29 639.2h3.10V706.6h-3.10ZM136.38 654.5h3.10V719.0h-3.10ZM139.48 664.3h3.10V732.2h-3.10ZM142.57 672.7h3.10V739.5h-3.10ZM145.66 681.9h3.10V744.3h-3.10ZM148.76 686.2h3.10V749.3h-3.10ZM151.85 690.4h3.10V754.6h-3.10ZM154.94 696.0h3.10V764.3h-3.10ZM158.04 699.4h3.10V770.4h-3.10ZM161.13 728.6h3.10V783.6h-3.10ZM164.22 736.3h3.10V799.5h-3.10ZM167.32 748.0h3.10V807.6h-3.10ZM170.41 757.9h3.10V808.0h-3.10ZM173.50 766.1h3.10V809.5h-3.10ZM176.60 777.1h3.10V812.3h-3.10ZM179.69 789.6h3.10V815.4h-3.10ZM182.78 791.1h3.10V814.0h-3.10ZM185.88 791.7h3.10V815.1h-3.10ZM188.97 793.6h3.10V816.2h-3.10ZM192.06 795.0h3.10V815.6h-3.10ZM195.16 797.3h3.10V816.1h-3.10ZM198.25 802.6h3.10V816.0h-3.10ZM201.34 811.4h3.10V815.7h-3.10ZM204.44 809.6h3.10V817.6h-3.10ZM207.53 810.3h3.10V816.9h-3.10ZM210.62 812.3h3.10V816.4h-3.10ZM213.72 810.9h3.10V817.2h-3.10ZM216.81 810.4h3.10V818.6h-3.10ZM219.90 810.3h3.10V816.9h-3.10ZM223.00 811.7h3.10V819.4h-3.10ZM226.09 810.7h3.10V818.7h-3.10ZM229.18 812.0h3.10V817.5h-3.10ZM232.28 810.7h3.10V819.3h-3.10ZM235.37 812.7h3.10V817.8h-3.10ZM238.46 810.7h3.10V818.0h-3.10ZM241.56 811.2h3.10V819.9h-3.10ZM244.65 812.2h3.10V818.6h-3.10ZM247.74 812.4h3.10V820.5h-3.10ZM250.84 811.8h3.10V819.2h-3.10ZM253.93 813.6h3.10V820.7h-3.10ZM257.02 812.2h3.10V819.3h-3.10ZM260.12 812.7h3.10V821.7h-3.10ZM263.21 813.9h3.10V819.0h-3.10ZM266.30 814.8h3.10V821.0h-3.10ZM269.40 815.4h3.10V820.3h-3.10ZM272.49 813.0h3.10V819.9h-3.10ZM275.58 813.5h3.10V820.0h-3.10ZM278.68 813.5h3.10V819.4h-3.10ZM281.77 814.9h3.10V821.1h-3.10ZM284.86 815.0h3.10V820.7h-3.10ZM287.96 814.5h3.10V821.0h-3.10ZM291.05 814.5h3.10V820.0h-3.10ZM294.14 815.5h3.10V822.0h-3.10ZM297.24 816.9h3.10V821.5h-3.10ZM300.33 815.5h3.10V822.8h-3.10ZM303.42 815.8h3.10V820.3h-3.10ZM306.52 817.3h3.10V823.2h-3.10ZM309.61 815.8h3.10V821.0h-3.10ZM312.70 817.7h3.10V820.6h-3.10ZM315.80 816.8h3.10V823.0h-3.10ZM318.89 818.5h3.10V823.4h-3.10ZM321.98 818.0h3.10V822.7h-3.10ZM325.08 819.3h3.10V822.5h-3.10ZM328.17 817.0h3.10V821.5h-3.10ZM331.26 819.7h3.10V823.2h-3.10ZM334.36 817.4h3.10V822.6h-3.10ZM337.45 818.4h3.10V822.5h-3.10Z" fill="#ff0000"/>
<circle cx="241.6" cy="799.7" r="3.2" fill="none" stroke="#ff0000" stroke-width="1"/>
<circle cx="244.7" cy="796.6" r="3.2" fill="none" stroke="#ff0000" stroke-width="1"/>
<circle cx="247.7" cy="794.0" r="3.2" fill="none" stroke="#ff0000" stroke-width="1"/>
<circle cx="250.8" cy="798.2" r="3.2" fill="none" stroke="#ff0000" stroke-width="1"/>
<circle cx="253.9" cy="799.7" r="3.2" fill="none" stroke="#ff0000" stroke-width="1"/>
<circle cx="257.0" cy="795.9" r="3.2" fill="none" stroke="#ff0000" stroke-width="1"/>
<circle cx="260.1" cy="798.2" r="3.2" fill="none" stroke="#ff0000" stroke-width="1"/>
<circle cx="263.2" cy="800.2" r="3.2" fill="none" stroke="#ff0000" stroke-width="1"/>
<circle cx="266.3" cy="796.6" r="3.2" fill="none" stroke="#ff0000" stroke-width="1"/>
<circle cx="269.4" cy="797.4" r="3.2" fill="none" stroke="#ff0000" stroke-width="1"/>
<circle cx="272.5" cy="799.7" r="3.2" fill="none" stroke="#ff0000" stroke-width="1"/>
<circle cx="275.6" cy="795.9" r="3.2" fill="none" stroke="#ff0000" stroke-width="1"/>
<circle cx="278.7" cy="798.2" r="3.2" fill="none" stroke="#ff0000" stroke-width="1"/>
<circle cx="281.8" cy="798.9" r="3.2" fill="none" stroke="#ff0000" stroke-width="1"/>
<circle cx="284.9" cy="796.6" r="3.2" fill="none" stroke="#ff0000" stroke-width="1"/>
<circle cx="288.0" cy="797.4" r="3.2" fill="none" stroke="#ff0000" stroke-width="1"/>
<circle cx="289.0" cy="813.1" r="3.2" fill="none" stroke="#ff0000" stroke-width="1"/>
<g><use href="#mk8" x="107.0" y="561.8"/><use href="#mk8" x="110.1" y="564.8"/><use href="#mk8" x="113.2" y="568.5"/><use href="#mk8" x="116.3" y="576.3"/><use href="#mk8" x="119.4" y="587.5"/><use href="#mk8" x="122.5" y="609.5"/><use href="#mk8" x="125.6" y="624.3"/><use href="#mk8" x="128.7" y="662.3"/><use href="#mk8" x="131.7" y="683.1"/><use href="#mk8" x="134.8" y="680.0"/><use href="#mk8" x="137.9" y="696.1"/><use href="#mk8" x="141.0" y="709.6"/><use href="#mk8" x="144.1" y="730.5"/><use href="#mk8" x="147.2" y="734.8"/><use href="#mk8" x="150.3" y="734.7"/><use href="#mk8" x="153.4" y="734.3"/><use href="#mk8" x="156.5" y="731.8"/><use href="#mk8" x="159.6" y="738.9"/><use href="#mk8" x="162.7" y="765.1"/><use href="#mk8" x="165.8" y="778.3"/><use href="#mk8" x="168.9" y="779.6"/><use href="#mk8" x="172.0" y="778.1"/><use href="#mk8" x="175.1" y="788.9"/><use href="#mk8" x="178.1" y="793.0"/><use href="#mk8" x="181.2" y="796.1"/><use href="#mk8" x="184.3" y="811.1"/><use href="#mk8" x="187.4" y="814.0"/><use href="#mk8" x="190.5" y="813.9"/><use href="#mk8" x="193.6" y="814.5"/><use href="#mk8" x="196.7" y="814.0"/><use href="#mk8" x="199.8" y="816.0"/><use href="#mk8" x="202.9" y="813.6"/><use href="#mk8" x="206.0" y="815.9"/><use href="#mk8" x="209.1" y="816.2"/><use href="#mk8" x="212.2" y="816.0"/><use href="#mk8" x="215.3" y="816.5"/><use href="#mk8" x="218.4" y="815.3"/><use href="#mk8" x="221.5" y="814.8"/><use href="#mk8" x="224.5" y="817.4"/><use href="#mk8" x="227.6" y="815.5"/><use href="#mk8" x="230.7" y="816.8"/><use href="#mk8" x="233.8" y="818.1"/><use href="#mk8" x="236.9" y="815.5"/><use href="#mk8" x="240.0" y="816.3"/><use href="#mk8" x="243.1" y="815.9"/><use href="#mk8" x="246.2" y="817.5"/><use href="#mk8" x="249.3" y="816.8"/><use href="#mk8" x="252.4" y="818.5"/><use href="#mk8" x="255.5" y="817.1"/><use href="#mk8" x="258.6" y="819.3"/><use href="#mk8" x="261.7" y="817.7"/><use href="#mk8" x="264.8" y="816.4"/><use href="#mk8" x="267.9" y="819.8"/><use href="#mk8" x="270.9" y="818.5"/><use href="#mk8" x="274.0" y="817.9"/><use href="#mk8" x="277.1" y="820.0"/><use href="#mk8" x="280.2" y="817.4"/><use href="#mk8" x="283.3" y="817.0"/><use href="#mk8" x="286.4" y="820.4"/><use href="#mk8" x="289.5" y="817.3"/><use href="#mk8" x="292.6" y="819.4"/><use href="#mk8" x="295.7" y="819.0"/><use href="#mk8" x="298.8" y="820.1"/><use href="#mk8" x="301.9" y="820.6"/><use href="#mk8" x="305.0" y="818.5"/><use href="#mk8" x="308.1" y="821.0"/><use href="#mk8" x="311.2" y="819.6"/><use href="#mk8" x="314.3" y="818.2"/><use href="#mk8" x="317.3" y="818.5"/><use href="#mk8" x="320.4" y="821.2"/><use href="#mk8" x="323.5" y="821.0"/><use href="#mk8" x="326.6" y="821.9"/><use href="#mk8" x="329.7" y="819.4"/><use href="#mk8" x="332.8" y="821.5"/><use href="#mk8" x="335.9" y="821.7"/><use href="#mk8" x="339.0" y="820.3"/></g>
<path d="M107.00 556.6V564.3M110.09 555.0V565.0M113.19 556.0V566.7M116.28 556.7V566.6M119.37 554.6V569.2M122.47 556.5V570.3M125.56 553.7V571.1M128.65 553.0V572.4M131.75 555.5V574.3M134.84 557.1V575.6M137.93 558.5V576.6M141.03 560.4V576.7M144.12 560.5V578.4M147.21 562.6V579.5M150.31 562.6V580.3M153.40 563.6V580.9M156.49 563.7V582.2M159.59 565.6V583.3M162.68 566.5V584.5M165.77 566.4V587.5M168.87 568.1V588.4M171.96 569.7V593.8M175.05 571.4V596.5M178.15 570.9V591.4M181.24 571.7V592.2M184.33 571.2V604.2M187.43 571.5V599.4M190.52 572.6V602.9M193.61 572.8V609.3M196.71 574.1V610.9M199.80 574.1V614.7M202.89 575.1V621.6M205.99 574.7V635.5M209.08 575.9V632.8M212.17 575.7V649.1M215.27 576.8V650.8M218.36 576.9V655.7M221.45 577.2V663.8M224.55 577.5V669.0M227.64 577.9V679.3M230.73 579.2V674.4M233.83 580.2V687.5M236.92 580.3V689.7M240.01 582.3V677.8M243.11 582.4V675.2M246.20 585.6V697.9M249.29 585.9V683.9M252.39 587.3V695.4M255.48 588.0V688.2M258.57 589.9V695.7M261.67 590.5V713.7M264.76 592.0V717.1M267.85 591.1V720.9M270.95 591.3V717.6M274.04 591.5V723.1M277.13 592.6V732.4M280.23 592.7V731.2M283.32 590.6V729.6M286.41 592.1V734.4M289.51 594.3V736.1M292.60 594.6V727.2M295.69 595.0V736.2M298.79 597.2V735.5M301.88 597.5V737.4M304.97 596.2V725.9M308.07 596.9V736.9M311.16 601.7V736.9M314.25 603.0V729.3M317.35 606.3V730.5M320.44 607.5V730.9M323.53 611.8V737.5M326.63 614.0V731.0M329.72 616.4V729.9M332.81 621.5V736.4M335.91 621.0V729.2M339.00 625.9V735.2" stroke="#0000ff" stroke-width="0.9" stroke-opacity="0.75" fill="none"/>
<path d="M105.45 558.5h3.10V562.2h-3.10ZM108.54 555.0h3.10V564.4h-3.10ZM111.64 556.0h3.10V566.1h-3.10ZM114.73 556.7h3.10V565.5h-3.10ZM117.82 554.6h3.10V567.9h-3.10ZM120.92 556.5h3.10V570.3h-3.10ZM124.01 553.7h3.10V570.2h-3.10ZM127.10 553.0h3.10V571.4h-3.10ZM130.20 555.5h3.10V574.3h-3.10ZM133.29 557.1h3.10V575.6h-3.10ZM136.38 558.5h3.10V576.6h-3.10ZM139.48 560.4h3.10V575.5h-3.10ZM142.57 560.5h3.10V576.8h-3.10ZM145.66 563.8h3.10V579.4h-3.10ZM148.76 562.9h3.10V577.0h-3.10ZM151.85 564.8h3.10V579.2h-3.10ZM154.94 568.2h3.10V580.0h-3.10ZM158.04 566.5h3.10V582.4h-3.10ZM161.13 568.8h3.10V583.6h-3.10ZM164.22 568.5h3.10V583.0h-3.10ZM167.32 570.5h3.10V585.3h-3.10ZM170.41 573.7h3.10V583.0h-3.10ZM173.50 574.2h3.10V582.5h-3.10ZM176.60 575.0h3.10V582.6h-3.10ZM179.69 574.7h3.10V584.5h-3.10ZM182.78 576.7h3.10V589.0h-3.10ZM185.88 576.7h3.10V591.5h-3.10ZM188.97 576.8h3.10V594.7h-3.10ZM192.06 575.2h3.10V600.2h-3.10ZM195.16 575.3h3.10V602.1h-3.10ZM198.25 575.1h3.10V607.6h-3.10ZM201.34 576.3h3.10V612.0h-3.10ZM204.44 575.4h3.10V618.3h-3.10ZM207.53 577.0h3.10V621.6h-3.10ZM210.62 575.9h3.10V627.2h-3.10ZM213.72 578.2h3.10V632.3h-3.10ZM216.81 577.0h3.10V635.2h-3.10ZM219.90 577.3h3.10V642.8h-3.10ZM223.00 580.4h3.10V646.9h-3.10ZM226.09 580.3h3.10V649.8h-3.10ZM229.18 579.8h3.10V649.0h-3.10ZM232.28 582.7h3.10V654.1h-3.10ZM235.37 582.2h3.10V654.7h-3.10ZM238.46 584.3h3.10V655.9h-3.10ZM241.56 585.9h3.10V658.7h-3.10ZM244.65 587.9h3.10V659.7h-3.10ZM247.74 590.9h3.10V662.8h-3.10ZM250.84 590.0h3.10V666.2h-3.10ZM253.93 592.9h3.10V667.4h-3.10ZM257.02 594.8h3.10V675.6h-3.10ZM260.12 592.6h3.10V689.2h-3.10ZM263.21 594.8h3.10V701.1h-3.10ZM266.30 591.5h3.10V710.5h-3.10ZM269.40 592.2h3.10V710.8h-3.10ZM272.49 593.1h3.10V714.7h-3.10ZM275.58 593.5h3.10V717.8h-3.10ZM278.68 592.9h3.10V717.7h-3.10ZM281.77 590.6h3.10V719.6h-3.10ZM284.86 592.1h3.10V717.6h-3.10ZM287.96 594.6h3.10V719.9h-3.10ZM291.05 595.4h3.10V716.8h-3.10ZM294.14 597.5h3.10V716.5h-3.10ZM297.24 599.1h3.10V718.8h-3.10ZM300.33 599.6h3.10V717.4h-3.10ZM303.42 598.7h3.10V716.7h-3.10ZM306.52 602.3h3.10V716.2h-3.10ZM309.61 604.3h3.10V716.6h-3.10ZM312.70 606.2h3.10V716.4h-3.10ZM315.80 608.6h3.10V719.2h-3.10ZM318.89 609.1h3.10V718.1h-3.10ZM321.98 613.9h3.10V715.6h-3.10ZM325.08 615.6h3.10V718.0h-3.10ZM328.17 621.2h3.10V716.6h-3.10ZM331.26 624.7h3.10V716.1h-3.10ZM334.36 627.0h3.10V715.9h-3.10ZM337.45 631.5h3.10V717.3h-3.10Z" fill="#0000ff"/>
<g><use href="#mk9" x="107.0" y="560.8"/><use href="#mk9" x="110.1" y="559.4"/><use href="#mk9" x="113.2" y="560.3"/><use href="#mk9" x="116.3" y="557.5"/><use href="#mk9" x="119.4" y="555.1"/><use href="#mk9" x="122.5" y="557.1"/><use href="#mk9" x="125.6" y="556.8"/><use href="#mk9" x="128.7" y="559.9"/><use href="#mk9" x="131.7" y="561.1"/><use href="#mk9" x="134.8" y="565.1"/><use href="#mk9" x="137.9" y="566.7"/><use href="#mk9" x="141.0" y="568.0"/><use href="#mk9" x="144.1" y="568.6"/><use href="#mk9" x="147.2" y="571.9"/><use href="#mk9" x="150.3" y="576.9"/><use href="#mk9" x="153.4" y="578.4"/><use href="#mk9" x="156.5" y="580.0"/><use href="#mk9" x="159.6" y="582.4"/><use href="#mk9" x="162.7" y="583.6"/><use href="#mk9" x="165.8" y="583.0"/><use href="#mk9" x="168.9" y="585.3"/><use href="#mk9" x="172.0" y="583.0"/><use href="#mk9" x="175.1" y="582.2"/><use href="#mk9" x="178.1" y="582.6"/><use href="#mk9" x="181.2" y="584.5"/><use href="#mk9" x="184.3" y="589.0"/><use href="#mk9" x="187.4" y="591.5"/><use href="#mk9" x="190.5" y="593.1"/><use href="#mk9" x="193.6" y="595.6"/><use href="#mk9" x="196.7" y="597.3"/><use href="#mk9" x="199.8" y="592.2"/><use href="#mk9" x="202.9" y="594.2"/><use href="#mk9" x="206.0" y="593.8"/><use href="#mk9" x="209.1" y="597.0"/><use href="#mk9" x="212.2" y="596.2"/><use href="#mk9" x="215.3" y="602.5"/><use href="#mk9" x="218.4" y="602.4"/><use href="#mk9" x="221.5" y="606.5"/><use href="#mk9" x="224.5" y="608.5"/><use href="#mk9" x="227.6" y="604.2"/><use href="#mk9" x="230.7" y="596.7"/><use href="#mk9" x="233.8" y="617.1"/><use href="#mk9" x="236.9" y="607.6"/><use href="#mk9" x="240.0" y="594.9"/><use href="#mk9" x="243.1" y="608.2"/><use href="#mk9" x="246.2" y="619.6"/><use href="#mk9" x="249.3" y="621.5"/><use href="#mk9" x="252.4" y="620.8"/><use href="#mk9" x="255.5" y="631.6"/><use href="#mk9" x="258.6" y="644.5"/><use href="#mk9" x="261.7" y="649.8"/><use href="#mk9" x="264.8" y="646.5"/><use href="#mk9" x="267.9" y="646.9"/><use href="#mk9" x="270.9" y="647.5"/><use href="#mk9" x="274.0" y="645.6"/><use href="#mk9" x="277.1" y="646.5"/><use href="#mk9" x="280.2" y="641.5"/><use href="#mk9" x="283.3" y="638.4"/><use href="#mk9" x="286.4" y="640.6"/><use href="#mk9" x="289.5" y="636.2"/><use href="#mk9" x="292.6" y="633.7"/><use href="#mk9" x="295.7" y="638.4"/><use href="#mk9" x="298.8" y="636.0"/><use href="#mk9" x="301.9" y="637.1"/><use href="#mk9" x="305.0" y="642.1"/><use href="#mk9" x="308.1" y="649.9"/><use href="#mk9" x="311.2" y="655.0"/><use href="#mk9" x="314.3" y="660.2"/><use href="#mk9" x="317.3" y="666.7"/><use href="#mk9" x="320.4" y="673.5"/><use href="#mk9" x="323.5" y="672.2"/><use href="#mk9" x="326.6" y="667.3"/><use href="#mk9" x="329.7" y="672.0"/><use href="#mk9" x="332.8" y="685.7"/><use href="#mk9" x="335.9" y="693.0"/><use href="#mk9" x="339.0" y="698.7"/></g>
<line x1="107.0" y1="832.0" x2="107.0" y2="828.0" stroke="#262626" stroke-width="1"/>
<line x1="107.0" y1="524.5" x2="107.0" y2="528.5" stroke="#262626" stroke-width="1"/>
<line x1="153.4" y1="832.0" x2="153.4" y2="828.0" stroke="#262626" stroke-width="1"/>
<line x1="153.4" y1="524.5" x2="153.4" y2="528.5" stroke="#262626" stroke-width="1"/>
<line x1="199.8" y1="832.0" x2="199.8" y2="828.0" stroke="#262626" stroke-width="1"/>
<line x1="199.8" y1="524.5" x2="199.8" y2="528.5" stroke="#262626" stroke-width="1"/>
<line x1="246.2" y1="832.0" x2="246.2" y2="828.0" stroke="#262626" stroke-width="1"/>
<line x1="246.2" y1="524.5" x2="246.2" y2="528.5" stroke="#262626" stroke-width="1"/>
<line x1="292.6" y1="832.0" x2="292.6" y2="828.0" stroke="#262626" stroke-width="1"/>
<line x1="292.6" y1="524.5" x2="292.6" y2="528.5" stroke="#262626" stroke-width="1"/>
<line x1="339.0" y1="832.0" x2="339.0" y2="828.0" stroke="#262626" stroke-width="1"/>
<line x1="339.0" y1="524.5" x2="339.0" y2="528.5" stroke="#262626" stroke-width="1"/>
<line x1="107.0" y1="832.0" x2="111.0" y2="832.0" stroke="#262626" stroke-width="1"/>
<line x1="339.0" y1="832.0" x2="335.0" y2="832.0" stroke="#262626" stroke-width="1"/>
<line x1="107.0" y1="793.6" x2="111.0" y2="793.6" stroke="#262626" stroke-width="1"/>
<line x1="339.0" y1="793.6" x2="335.0" y2="793.6" stroke="#262626" stroke-width="1"/>
<line x1="107.0" y1="755.1" x2="111.0" y2="755.1" stroke="#262626" stroke-width="1"/>
<line x1="339.0" y1="755.1" x2="335.0" y2="755.1" stroke="#262626" stroke-width="1"/>
<line x1="107.0" y1="716.7" x2="111.0" y2="716.7" stroke="#262626" stroke-width="1"/>
<line x1="339.0" y1="716.7" x2="335.0" y2="716.7" stroke="#262626" stroke-width="1"/>
<line x1="107.0" y1="678.2" x2="111.0" y2="678.2" stroke="#262626" stroke-width="1"/>
<line x1="339.0" y1="678.2" x2="335.0" y2="678.2" stroke="#262626" stroke-width="1"/>
<line x1="107.0" y1="639.8" x2="111.0" y2="639.8" stroke="#262626" stroke-width="1"/>
<line x1="339.0" y1="639.8" x2="335.0" y2="639.8" stroke="#262626" stroke-width="1"/>
<line x1="107.0" y1="601.4" x2="111.0" y2="601.4" stroke="#262626" stroke-width="1"/>
<line x1="339.0" y1="601.4" x2="335.0" y2="601.4" stroke="#262626" stroke-width="1"/>
<line x1="107.0" y1="562.9" x2="111.0" y2="562.9" stroke="#262626" stroke-width="1"/>
<line x1="339.0" y1="562.9" x2="335.0" y2="562.9" stroke="#262626" stroke-width="1"/>
<line x1="107.0" y1="524.5" x2="111.0" y2="524.5" stroke="#262626" stroke-width="1"/>
<line x1="339.0" y1="524.5" x2="335.0" y2="524.5" stroke="#262626" stroke-width="1"/>
<line x1="107.0" y1="524.5" x2="339.0" y2="524.5" stroke="#262626" stroke-width="1.3"/>
<line x1="107.0" y1="832.0" x2="339.0" y2="832.0" stroke="#262626" stroke-width="1.3"/>
<line x1="107.0" y1="524.5" x2="107.0" y2="832.0" stroke="#262626" stroke-width="1.3"/>
<line x1="339.0" y1="524.5" x2="339.0" y2="832.0" stroke="#262626" stroke-width="1.3"/>
<text x="107.0" y="862.0" font-size="21" fill="#262626" text-anchor="middle">0</text>
<text x="153.4" y="862.0" font-size="21" fill="#262626" text-anchor="middle">30</text>
<text x="199.8" y="862.0" font-size="21" fill="#262626" text-anchor="middle">60</text>
<text x="246.2" y="862.0" font-size="21" fill="#262626" text-anchor="middle">90</text>
<text x="292.6" y="862.0" font-size="21" fill="#262626" text-anchor="middle">120</text>
<text x="339.0" y="862.0" font-size="21" fill="#262626" text-anchor="middle">150</text>
<text x="98.2" y="841.0" font-size="21" fill="#262626" text-anchor="end">0</text>
<text x="98.2" y="802.6" font-size="21" fill="#262626" text-anchor="end">25</text>
<text x="98.2" y="764.1" font-size="21" fill="#262626" text-anchor="end">50</text>
<text x="98.2" y="725.7" font-size="21" fill="#262626" text-anchor="end">75</text>
<text x="98.2" y="687.2" font-size="21" fill="#262626" text-anchor="end">100</text>
<text x="98.2" y="648.8" font-size="21" fill="#262626" text-anchor="end">125</text>
<text x="98.2" y="610.4" font-size="21" fill="#262626" text-anchor="end">150</text>
<text x="98.2" y="571.9" font-size="21" fill="#262626" text-anchor="end">175</text>
<text x="98.2" y="533.5" font-size="21" fill="#262626" text-anchor="end">200</text>
<text x="222.6" y="885.3" font-size="21.2" fill="#262626" text-anchor="middle">Iteration</text>
<text x="54.6" y="679.0" font-size="23.6" fill="#262626" text-anchor="middle" transform="rotate(-90 54.6 679.0)">RMSE</text>
<path d="M441.50 693.3V716.9M444.39 678.7V715.2M447.29 666.2V713.2M450.18 629.6V702.7M453.08 605.0V685.5M455.97 583.8V672.5M458.87 573.7V658.5M461.76 563.5V638.4M464.66 554.5V627.5M467.55 549.2V615.3M470.45 545.0V603.4M473.34 539.0V601.3M476.24 534.3V596.2M479.13 531.2V587.6M482.03 529.3V581.5M484.92 528.3V570.6M487.81 526.3V562.8M490.71 524.8V551.1M493.60 524.9V544.9M496.50 523.8V543.1M499.39 523.8V540.0M502.29 523.7V537.2M505.18 523.5V533.5M508.08 523.6V532.1M510.97 523.5V530.5M513.87 523.5V529.5M516.76 524.0V527.9M519.66 523.5V529.3M522.55 523.5V527.2M525.45 523.5V526.9M528.34 523.5V526.6M531.23 523.5V526.4M534.13 523.5V526.2M537.02 523.7V525.8M539.92 523.5V526.6M542.81 523.5V526.3M545.71 523.5V525.7M548.60 523.5V525.2M551.50 523.5V525.6M554.39 523.5V526.3M557.29 523.5V525.8M560.18 523.5V525.9M563.08 523.5V526.1M565.97 523.7V525.7M568.87 523.5V525.5M571.76 523.6V525.6M574.65 523.5V525.9M577.55 523.5V525.8M580.44 523.7V525.8M583.34 523.5V525.2M586.23 523.5V525.0M589.13 523.5V525.8M592.02 523.6V525.8M594.92 523.5V525.9M597.81 523.5V525.9M600.71 523.5V525.6M603.60 523.5V525.3M606.50 523.5V525.5M609.39 523.6V525.6M612.29 523.5V525.4M615.18 523.5V525.6M618.07 523.5V524.8M620.97 523.5V525.5M623.86 523.5V525.2M626.76 523.5V525.1M629.65 523.5V525.3M632.55 523.5V524.8M635.44 523.5V525.4M638.34 523.5V525.3M641.23 523.5V524.7M644.13 523.5V525.1M647.02 523.5V525.1M649.92 523.5V525.1M652.81 523.5V524.4M655.71 523.5V524.4M658.60 523.7V524.6" stroke="#ff0000" stroke-width="0.9" stroke-opacity="0.75" fill="none"/>
<path d="M439.95 699.3h3.10V715.4h-3.10ZM442.84 686.6h3.10V712.7h-3.10ZM445.74 667.9h3.10V710.1h-3.10ZM448.63 629.6h3.10V700.6h-3.10ZM451.53 605.0h3.10V678.7h-3.10ZM454.42 583.8h3.10V662.8h-3.10ZM457.32 573.7h3.10V648.6h-3.10ZM460.21 563.5h3.10V633.3h-3.10ZM463.11 555.0h3.10V622.7h-3.10ZM466.00 549.5h3.10V610.2h-3.10ZM468.90 546.1h3.10V597.3h-3.10ZM471.79 540.3h3.10V587.7h-3.10ZM474.69 536.4h3.10V581.2h-3.10ZM477.58 531.9h3.10V573.5h-3.10ZM480.48 531.1h3.10V567.0h-3.10ZM483.37 529.6h3.10V560.1h-3.10ZM486.26 528.8h3.10V553.5h-3.10ZM489.16 526.7h3.10V547.2h-3.10ZM492.05 526.3h3.10V539.8h-3.10ZM494.95 525.9h3.10V538.0h-3.10ZM497.84 524.3h3.10V535.5h-3.10ZM500.74 523.8h3.10V534.4h-3.10ZM503.63 523.7h3.10V531.4h-3.10ZM506.53 524.1h3.10V530.7h-3.10ZM509.42 524.1h3.10V528.5h-3.10ZM512.32 524.6h3.10V527.8h-3.10ZM515.21 525.1h3.10V526.0h-3.10ZM518.11 523.5h3.10V525.4h-3.10ZM521.00 524.2h3.10V525.9h-3.10ZM523.90 524.0h3.10V524.6h-3.10ZM526.79 523.8h3.10V526.0h-3.10ZM529.68 524.0h3.10V525.7h-3.10ZM532.58 523.6h3.10V524.9h-3.10ZM535.47 524.2h3.10V524.8h-3.10ZM538.37 523.5h3.10V524.3h-3.10ZM541.26 524.0h3.10V525.6h-3.10ZM544.16 523.5h3.10V524.3h-3.10ZM547.05 523.5h3.10V524.2h-3.10ZM549.95 523.5h3.10V524.6h-3.10ZM552.84 523.5h3.10V525.3h-3.10ZM555.74 524.4h3.10V525.1h-3.10ZM558.63 523.5h3.10V525.5h-3.10ZM561.53 523.5h3.10V525.2h-3.10ZM564.42 523.8h3.10V524.3h-3.10ZM567.32 523.6h3.10V524.9h-3.10ZM570.21 523.9h3.10V524.8h-3.10ZM573.10 523.5h3.10V525.1h-3.10ZM576.00 523.5h3.10V523.9h-3.10ZM578.89 523.9h3.10V525.4h-3.10ZM581.79 523.5h3.10V523.8h-3.10ZM584.68 523.5h3.10V523.9h-3.10ZM587.58 523.5h3.10V524.4h-3.10ZM590.47 523.8h3.10V524.8h-3.10ZM593.37 523.5h3.10V524.8h-3.10ZM596.26 523.5h3.10V524.8h-3.10ZM599.16 523.6h3.10V524.4h-3.10ZM602.05 523.5h3.10V524.8h-3.10ZM604.95 523.5h3.10V524.8h-3.10ZM607.84 524.2h3.10V525.2h-3.10ZM610.74 523.5h3.10V524.2h-3.10ZM613.63 523.5h3.10V524.6h-3.10ZM616.52 523.5h3.10V524.2h-3.10ZM619.42 523.5h3.10V524.3h-3.10ZM622.31 523.5h3.10V524.1h-3.10ZM625.21 523.9h3.10V524.6h-3.10ZM628.10 523.5h3.10V524.5h-3.10ZM631.00 523.5h3.10V524.2h-3.10ZM633.89 523.6h3.10V524.7h-3.10ZM636.79 523.8h3.10V524.2h-3.10ZM639.68 523.5h3.10V523.7h-3.10ZM642.58 523.5h3.10V524.5h-3.10ZM645.47 523.5h3.10V524.5h-3.10ZM648.37 523.5h3.10V524.0h-3.10ZM651.26 523.5h3.10V523.5h-3.10ZM654.16 523.5h3.10V523.5h-3.10ZM657.05 524.0h3.10V524.0h-3.10Z" fill="#ff0000"/>
<circle cx="490.7" cy="572.1" r="3.2" fill="none" stroke="#ff0000" stroke-width="1"/>
<circle cx="492.9" cy="555.9" r="3.2" fill="none" stroke="#ff0000" stroke-width="1"/>
<circle cx="500.8" cy="537.4" r="3.2" fill="none" stroke="#ff0000" stroke-width="1"/>
<circle cx="512.4" cy="534.3" r="3.2" fill="none" stroke="#ff0000" stroke-width="1"/>
<circle cx="521.1" cy="534.3" r="3.2" fill="none" stroke="#ff0000" stroke-width="1"/>
<circle cx="525.4" cy="528.9" r="3.2" fill="none" stroke="#ff0000" stroke-width="1"/>
<circle cx="531.2" cy="528.5" r="3.2" fill="none" stroke="#ff0000" stroke-width="1"/>
<circle cx="537.0" cy="528.1" r="3.2" fill="none" stroke="#ff0000" stroke-width="1"/>
<circle cx="542.8" cy="530.4" r="3.2" fill="none" stroke="#ff0000" stroke-width="1"/>
<circle cx="548.6" cy="530.0" r="3.2" fill="none" stroke="#ff0000" stroke-width="1"/>
<circle cx="554.4" cy="529.6" r="3.2" fill="none" stroke="#ff0000" stroke-width="1"/>
<circle cx="560.2" cy="529.3" r="3.2" fill="none" stroke="#ff0000" stroke-width="1"/>
<circle cx="566.0" cy="528.9" r="3.2" fill="none" stroke="#ff0000" stroke-width="1"/>
<circle cx="571.8" cy="528.5" r="3.2" fill="none" stroke="#ff0000" stroke-width="1"/>
<circle cx="577.5" cy="528.1" r="3.2" fill="none" stroke="#ff0000" stroke-width="1"/>
<circle cx="583.3" cy="530.4" r="3.2" fill="none" stroke="#ff0000" stroke-width="1"/>
<circle cx="589.1" cy="530.0" r="3.2" fill="none" stroke="#ff0000" stroke-width="1"/>
<circle cx="594.9" cy="529.6" r="3.2" fill="none" stroke="#ff0000" stroke-width="1"/>
<circle cx="600.7" cy="529.3" r="3.2" fill="none" stroke="#ff0000" stroke-width="1"/>
<circle cx="606.5" cy="528.9" r="3.2" fill="none" stroke="#ff0000" stroke-width="1"/>
<circle cx="612.3" cy="528.5" r="3.2" fill="none" stroke="#ff0000" stroke-width="1"/>
<circle cx="618.1" cy="528.1" r="3.2" fill="none" stroke="#ff0000" stroke-width="1"/>
<circle cx="623.9" cy="530.4" r="3.2" fill="none" stroke="#ff0000" stroke-width="1"/>
<circle cx="629.7" cy="530.0" r="3.2" fill="none" stroke="#ff0000" stroke-width="1"/>
<circle cx="635.4" cy="529.6" r="3.2" fill="none" stroke="#ff0000" stroke-width="1"/>
<circle cx="641.2" cy="529.3" r="3.2" fill="none" stroke="#ff0000" stroke-width="1"/>
<g><use href="#mk10" x="441.5" y="709.2"/><use href="#mk10" x="444.4" y="698.2"/><use href="#mk10" x="447.3" y="694.8"/><use href="#mk10" x="450.2" y="692.0"/><use href="#mk10" x="453.1" y="651.7"/><use href="#mk10" x="456.0" y="642.4"/><use href="#mk10" x="458.9" y="598.1"/><use href="#mk10" x="461.8" y="591.4"/><use href="#mk10" x="464.7" y="585.2"/><use href="#mk10" x="467.6" y="580.1"/><use href="#mk10" x="470.4" y="564.3"/><use href="#mk10" x="473.3" y="549.1"/><use href="#mk10" x="476.2" y="541.2"/><use href="#mk10" x="479.1" y="536.0"/><use href="#mk10" x="482.0" y="534.0"/><use href="#mk10" x="484.9" y="538.2"/><use href="#mk10" x="487.8" y="540.3"/><use href="#mk10" x="490.7" y="535.6"/><use href="#mk10" x="493.6" y="531.8"/><use href="#mk10" x="496.5" y="527.5"/><use href="#mk10" x="499.4" y="524.9"/><use href="#mk10" x="502.3" y="524.6"/><use href="#mk10" x="505.2" y="525.5"/><use href="#mk10" x="508.1" y="524.1"/><use href="#mk10" x="511.0" y="524.5"/><use href="#mk10" x="513.9" y="524.6"/><use href="#mk10" x="516.8" y="525.1"/><use href="#mk10" x="519.7" y="525.4"/><use href="#mk10" x="522.6" y="525.9"/><use href="#mk10" x="525.4" y="524.0"/><use href="#mk10" x="528.3" y="526.0"/><use href="#mk10" x="531.2" y="525.7"/><use href="#mk10" x="534.1" y="524.4"/><use href="#mk10" x="537.0" y="524.3"/><use href="#mk10" x="539.9" y="523.6"/><use href="#mk10" x="542.8" y="525.6"/><use href="#mk10" x="545.7" y="524.3"/><use href="#mk10" x="548.6" y="523.8"/><use href="#mk10" x="551.5" y="523.4"/><use href="#mk10" x="554.4" y="525.3"/><use href="#mk10" x="557.3" y="524.4"/><use href="#mk10" x="560.2" y="525.5"/><use href="#mk10" x="563.1" y="525.2"/><use href="#mk10" x="566.0" y="523.9"/><use href="#mk10" x="568.9" y="524.6"/><use href="#mk10" x="571.8" y="524.4"/><use href="#mk10" x="574.7" y="525.1"/><use href="#mk10" x="577.5" y="523.6"/><use href="#mk10" x="580.4" y="525.4"/><use href="#mk10" x="583.3" y="523.8"/><use href="#mk10" x="586.2" y="523.9"/><use href="#mk10" x="589.1" y="523.6"/><use href="#mk10" x="592.0" y="523.8"/><use href="#mk10" x="594.9" y="523.1"/><use href="#mk10" x="597.8" y="524.8"/><use href="#mk10" x="600.7" y="523.6"/><use href="#mk10" x="603.6" y="524.4"/><use href="#mk10" x="606.5" y="524.8"/><use href="#mk10" x="609.4" y="525.2"/><use href="#mk10" x="612.3" y="523.1"/><use href="#mk10" x="615.2" y="524.6"/><use href="#mk10" x="618.1" y="522.8"/><use href="#mk10" x="621.0" y="523.0"/><use href="#mk10" x="623.9" y="524.1"/><use href="#mk10" x="626.8" y="524.6"/><use href="#mk10" x="629.7" y="524.5"/><use href="#mk10" x="632.5" y="524.2"/><use href="#mk10" x="635.4" y="524.7"/><use href="#mk10" x="638.3" y="523.8"/><use href="#mk10" x="641.2" y="522.7"/><use href="#mk10" x="644.1" y="524.5"/><use href="#mk10" x="647.0" y="524.2"/><use href="#mk10" x="649.9" y="524.0"/><use href="#mk10" x="652.8" y="523.5"/><use href="#mk10" x="655.7" y="523.5"/><use href="#mk10" x="658.6" y="524.0"/></g>
<path d="M441.50 700.5V721.2M444.39 698.0V719.9M447.29 698.6V719.0M450.18 697.3V720.3M453.08 694.3V717.8M455.97 693.1V716.8M458.87 693.5V715.7M461.76 691.1V714.1M464.66 682.9V712.1M467.55 678.2V710.4M470.45 673.9V708.6M473.34 672.7V706.7M476.24 665.0V703.6M479.13 658.9V701.3M482.03 652.5V700.3M484.92 652.3V695.6M487.81 647.9V693.0M490.71 647.6V690.6M493.60 641.7V689.2M496.50 642.6V690.3M499.39 637.9V686.0M502.29 638.0V683.3M505.18 634.6V686.4M508.08 631.2V683.1M510.97 628.5V681.5M513.87 624.6V681.4M516.76 620.8V672.2M519.66 616.7V670.9M522.55 616.0V669.6M525.45 609.8V666.5M528.34 607.1V664.2M531.23 604.8V658.7M534.13 598.4V656.1M537.02 596.0V649.4M539.92 591.1V650.0M542.81 585.4V650.1M545.71 577.8V647.1M548.60 576.5V645.3M551.50 568.2V644.6M554.39 568.8V642.9M557.29 566.4V642.0M560.18 564.4V639.9M563.08 562.2V636.2M565.97 561.6V635.4M568.87 556.1V632.9M571.76 558.9V631.0M574.65 551.9V629.1M577.55 551.8V623.1M580.44 547.7V624.1M583.34 548.1V623.0M586.23 546.5V620.7M589.13 544.3V624.1M592.02 542.6V622.7M594.92 541.8V625.4M597.81 539.8V627.6M600.71 537.2V617.5M603.60 536.9V624.1M606.50 537.4V624.5M609.39 535.9V626.3M612.29 534.6V629.8M615.18 536.2V626.0M618.07 540.6V629.7M620.97 537.5V622.3M623.86 535.4V618.4M626.76 537.7V622.3M629.65 535.6V625.9M632.55 537.7V622.4M635.44 534.6V620.6M638.34 535.5V612.2M641.23 536.0V611.3M644.13 535.2V612.0M647.02 537.8V606.8M649.92 533.8V614.5M652.81 533.7V606.3M655.71 535.7V605.5M658.60 537.0V606.6" stroke="#0000ff" stroke-width="0.9" stroke-opacity="0.75" fill="none"/>
<path d="M439.95 704.1h3.10V717.0h-3.10ZM442.84 699.5h3.10V719.5h-3.10ZM445.74 700.2h3.10V718.2h-3.10ZM448.63 699.8h3.10V720.3h-3.10ZM451.53 697.2h3.10V717.8h-3.10ZM454.42 696.0h3.10V716.7h-3.10ZM457.32 695.5h3.10V715.4h-3.10ZM460.21 694.2h3.10V711.1h-3.10ZM463.11 682.9h3.10V707.4h-3.10ZM466.00 678.2h3.10V705.0h-3.10ZM468.90 673.9h3.10V701.4h-3.10ZM471.79 672.7h3.10V696.7h-3.10ZM474.69 665.0h3.10V695.0h-3.10ZM477.58 658.9h3.10V693.1h-3.10ZM480.48 652.5h3.10V694.2h-3.10ZM483.37 652.3h3.10V692.9h-3.10ZM486.26 647.9h3.10V689.2h-3.10ZM489.16 647.6h3.10V685.8h-3.10ZM492.05 641.7h3.10V683.5h-3.10ZM494.95 642.6h3.10V678.7h-3.10ZM497.84 637.9h3.10V679.7h-3.10ZM500.74 638.1h3.10V678.8h-3.10ZM503.63 634.8h3.10V677.3h-3.10ZM506.53 632.6h3.10V675.1h-3.10ZM509.42 630.6h3.10V674.1h-3.10ZM512.32 627.0h3.10V673.5h-3.10ZM515.21 624.1h3.10V667.3h-3.10ZM518.11 622.2h3.10V665.5h-3.10ZM521.00 619.1h3.10V662.8h-3.10ZM523.90 616.1h3.10V658.7h-3.10ZM526.79 611.4h3.10V654.5h-3.10ZM529.68 606.9h3.10V652.9h-3.10ZM532.58 606.6h3.10V648.8h-3.10ZM535.47 604.0h3.10V644.2h-3.10ZM538.37 599.5h3.10V645.6h-3.10ZM541.26 594.1h3.10V644.6h-3.10ZM544.16 589.9h3.10V640.4h-3.10ZM547.05 584.2h3.10V641.3h-3.10ZM549.95 579.6h3.10V639.0h-3.10ZM552.84 576.0h3.10V637.3h-3.10ZM555.74 568.7h3.10V635.7h-3.10ZM558.63 568.7h3.10V635.7h-3.10ZM561.53 567.3h3.10V633.6h-3.10ZM564.42 566.2h3.10V633.1h-3.10ZM567.32 565.8h3.10V629.3h-3.10ZM570.21 565.2h3.10V626.3h-3.10ZM573.10 562.7h3.10V619.8h-3.10ZM576.00 557.8h3.10V616.4h-3.10ZM578.89 557.9h3.10V615.9h-3.10ZM581.79 551.6h3.10V613.4h-3.10ZM584.68 549.3h3.10V612.3h-3.10ZM587.58 549.1h3.10V612.5h-3.10ZM590.47 545.6h3.10V611.9h-3.10ZM593.37 544.6h3.10V609.6h-3.10ZM596.26 545.1h3.10V608.9h-3.10ZM599.16 542.6h3.10V607.9h-3.10ZM602.05 540.8h3.10V611.4h-3.10ZM604.95 542.5h3.10V617.2h-3.10ZM607.84 542.3h3.10V619.6h-3.10ZM610.74 543.3h3.10V621.5h-3.10ZM613.63 543.1h3.10V621.5h-3.10ZM616.52 546.7h3.10V619.1h-3.10ZM619.42 545.0h3.10V614.8h-3.10ZM622.31 544.3h3.10V608.3h-3.10ZM625.21 541.8h3.10V604.4h-3.10ZM628.10 543.9h3.10V602.9h-3.10ZM631.00 542.6h3.10V601.7h-3.10ZM633.89 541.3h3.10V602.3h-3.10ZM636.79 541.7h3.10V601.1h-3.10ZM639.68 539.6h3.10V600.3h-3.10ZM642.58 540.7h3.10V596.7h-3.10ZM645.47 542.3h3.10V595.1h-3.10ZM648.37 543.5h3.10V598.1h-3.10ZM651.26 543.0h3.10V596.8h-3.10ZM654.16 544.5h3.10V598.6h-3.10ZM657.05 547.8h3.10V600.3h-3.10Z" fill="#0000ff"/>
<g><use href="#mk11" x="441.5" y="707.2"/><use href="#mk11" x="444.4" y="712.0"/><use href="#mk11" x="447.3" y="714.7"/><use href="#mk11" x="450.2" y="715.5"/><use href="#mk11" x="453.1" y="711.9"/><use href="#mk11" x="456.0" y="710.2"/><use href="#mk11" x="458.9" y="710.3"/><use href="#mk11" x="461.8" y="705.5"/><use href="#mk11" x="464.7" y="700.0"/><use href="#mk11" x="467.6" y="699.3"/><use href="#mk11" x="470.4" y="695.9"/><use href="#mk11" x="473.3" y="689.4"/><use href="#mk11" x="476.2" y="685.8"/><use href="#mk11" x="479.1" y="677.2"/><use href="#mk11" x="482.0" y="670.5"/><use href="#mk11" x="484.9" y="674.5"/><use href="#mk11" x="487.8" y="675.4"/><use href="#mk11" x="490.7" y="672.4"/><use href="#mk11" x="493.6" y="667.1"/><use href="#mk11" x="496.5" y="659.5"/><use href="#mk11" x="499.4" y="651.4"/><use href="#mk11" x="502.3" y="646.5"/><use href="#mk11" x="505.2" y="646.6"/><use href="#mk11" x="508.1" y="644.5"/><use href="#mk11" x="511.0" y="642.1"/><use href="#mk11" x="513.9" y="647.5"/><use href="#mk11" x="516.8" y="656.2"/><use href="#mk11" x="519.7" y="649.4"/><use href="#mk11" x="522.6" y="644.0"/><use href="#mk11" x="525.4" y="633.8"/><use href="#mk11" x="528.3" y="631.4"/><use href="#mk11" x="531.2" y="623.4"/><use href="#mk11" x="534.1" y="627.7"/><use href="#mk11" x="537.0" y="630.5"/><use href="#mk11" x="539.9" y="620.6"/><use href="#mk11" x="542.8" y="616.5"/><use href="#mk11" x="545.7" y="620.5"/><use href="#mk11" x="548.6" y="621.6"/><use href="#mk11" x="551.5" y="609.6"/><use href="#mk11" x="554.4" y="607.0"/><use href="#mk11" x="557.3" y="610.4"/><use href="#mk11" x="560.2" y="611.5"/><use href="#mk11" x="563.1" y="611.6"/><use href="#mk11" x="566.0" y="616.2"/><use href="#mk11" x="568.9" y="616.1"/><use href="#mk11" x="571.8" y="611.4"/><use href="#mk11" x="574.7" y="605.4"/><use href="#mk11" x="577.5" y="597.4"/><use href="#mk11" x="580.4" y="602.1"/><use href="#mk11" x="583.3" y="594.4"/><use href="#mk11" x="586.2" y="582.8"/><use href="#mk11" x="589.1" y="576.7"/><use href="#mk11" x="592.0" y="591.7"/><use href="#mk11" x="594.9" y="593.5"/><use href="#mk11" x="597.8" y="583.6"/><use href="#mk11" x="600.7" y="589.0"/><use href="#mk11" x="603.6" y="596.2"/><use href="#mk11" x="606.5" y="588.6"/><use href="#mk11" x="609.4" y="586.6"/><use href="#mk11" x="612.3" y="592.5"/><use href="#mk11" x="615.2" y="591.3"/><use href="#mk11" x="618.1" y="586.8"/><use href="#mk11" x="621.0" y="578.8"/><use href="#mk11" x="623.9" y="578.2"/><use href="#mk11" x="626.8" y="586.8"/><use href="#mk11" x="629.7" y="582.4"/><use href="#mk11" x="632.5" y="577.2"/><use href="#mk11" x="635.4" y="578.1"/><use href="#mk11" x="638.3" y="576.9"/><use href="#mk11" x="641.2" y="569.4"/><use href="#mk11" x="644.1" y="568.1"/><use href="#mk11" x="647.0" y="563.0"/><use href="#mk11" x="649.9" y="558.9"/><use href="#mk11" x="652.8" y="566.8"/><use href="#mk11" x="655.7" y="565.6"/><use href="#mk11" x="658.6" y="560.1"/></g>
<line x1="441.5" y1="832.0" x2="441.5" y2="828.0" stroke="#262626" stroke-width="1"/>
<line x1="441.5" y1="523.5" x2="441.5" y2="527.5" stroke="#262626" stroke-width="1"/>
<line x1="484.9" y1="832.0" x2="484.9" y2="828.0" stroke="#262626" stroke-width="1"/>
<line x1="484.9" y1="523.5" x2="484.9" y2="527.5" stroke="#262626" stroke-width="1"/>
<line x1="528.3" y1="832.0" x2="528.3" y2="828.0" stroke="#262626" stroke-width="1"/>
<line x1="528.3" y1="523.5" x2="528.3" y2="527.5" stroke="#262626" stroke-width="1"/>
<line x1="571.8" y1="832.0" x2="571.8" y2="828.0" stroke="#262626" stroke-width="1"/>
<line x1="571.8" y1="523.5" x2="571.8" y2="527.5" stroke="#262626" stroke-width="1"/>
<line x1="615.2" y1="832.0" x2="615.2" y2="828.0" stroke="#262626" stroke-width="1"/>
<line x1="615.2" y1="523.5" x2="615.2" y2="527.5" stroke="#262626" stroke-width="1"/>
<line x1="658.6" y1="832.0" x2="658.6" y2="828.0" stroke="#262626" stroke-width="1"/>
<line x1="658.6" y1="523.5" x2="658.6" y2="527.5" stroke="#262626" stroke-width="1"/>
<line x1="441.5" y1="832.0" x2="445.5" y2="832.0" stroke="#262626" stroke-width="1"/>
<line x1="658.6" y1="832.0" x2="654.6" y2="832.0" stroke="#262626" stroke-width="1"/>
<line x1="441.5" y1="754.9" x2="445.5" y2="754.9" stroke="#262626" stroke-width="1"/>
<line x1="658.6" y1="754.9" x2="654.6" y2="754.9" stroke="#262626" stroke-width="1"/>
<line x1="441.5" y1="677.8" x2="445.5" y2="677.8" stroke="#262626" stroke-width="1"/>
<line x1="658.6" y1="677.8" x2="654.6" y2="677.8" stroke="#262626" stroke-width="1"/>
<line x1="441.5" y1="600.6" x2="445.5" y2="600.6" stroke="#262626" stroke-width="1"/>
<line x1="658.6" y1="600.6" x2="654.6" y2="600.6" stroke="#262626" stroke-width="1"/>
<line x1="441.5" y1="523.5" x2="445.5" y2="523.5" stroke="#262626" stroke-width="1"/>
<line x1="658.6" y1="523.5" x2="654.6" y2="523.5" stroke="#262626" stroke-width="1"/>
<line x1="441.5" y1="523.5" x2="658.6" y2="523.5" stroke="#262626" stroke-width="1.3"/>
<line x1="441.5" y1="832.0" x2="658.6" y2="832.0" stroke="#262626" stroke-width="1.3"/>
<line x1="441.5" y1="523.5" x2="441.5" y2="832.0" stroke="#262626" stroke-width="1.3"/>
<line x1="658.6" y1="523.5" x2="658.6" y2="832.0" stroke="#262626" stroke-width="1.3"/>
<text x="441.5" y="862.0" font-size="21" fill="#262626" text-anchor="middle">0</text>
<text x="484.9" y="862.0" font-size="21" fill="#262626" text-anchor="middle">30</text>
<text x="528.3" y="862.0" font-size="21" fill="#262626" text-anchor="middle">60</text>
<text x="571.8" y="862.0" font-size="21" fill="#262626" text-anchor="middle">90</text>
<text x="615.2" y="862.0" font-size="21" fill="#262626" text-anchor="middle">120</text>
<text x="658.6" y="862.0" font-size="21" fill="#262626" text-anchor="middle">150</text>
<text x="434.9" y="841.0" font-size="21" fill="#262626" text-anchor="end">80</text>
<text x="434.9" y="763.9" font-size="21" fill="#262626" text-anchor="end">85</text>
<text x="434.9" y="686.8" font-size="21" fill="#262626" text-anchor="end">90</text>
<text x="434.9" y="609.6" font-size="21" fill="#262626" text-anchor="end">95</text>
<text x="434.9" y="532.5" font-size="21" fill="#262626" text-anchor="end">100</text>
<text x="521.4" y="879.5" font-size="21.2" fill="#262626" text-anchor="middle">Iteration</text>
<text x="391.0" y="678.4" font-size="23" fill="#262626" text-anchor="middle" transform="rotate(-90 391.0 678.4)">% health coverage</text>
<path d="M761.50 558.3V563.8M764.41 558.3V563.6M767.31 558.2V564.6M770.22 558.1V563.8M773.13 558.6V564.2M776.03 556.1V565.1M778.94 556.1V565.0M781.85 557.2V564.5M784.75 557.4V565.6M787.66 557.9V565.4M790.57 557.9V566.2M793.47 558.7V565.1M796.38 558.2V565.4M799.29 558.5V566.2M802.19 557.8V565.8M805.10 558.2V566.4M808.01 557.8V565.0M810.91 558.0V566.5M813.82 557.5V566.8M816.73 557.7V567.0M819.63 558.0V566.5M822.54 557.8V567.9M825.45 558.1V569.9M828.35 558.5V571.6M831.26 559.1V572.3M834.17 559.3V571.6M837.07 559.9V573.0M839.98 559.0V576.0M842.89 559.2V577.5M845.79 559.7V576.5M848.70 559.2V577.6M851.61 559.9V580.0M854.51 559.7V580.5M857.42 559.1V583.8M860.33 561.1V584.5M863.23 560.4V585.6M866.14 562.4V588.9M869.05 565.4V592.1M871.95 566.0V595.9M874.86 566.5V601.2M877.77 566.0V605.8M880.67 570.0V608.5M883.58 569.2V609.9M886.49 573.6V615.3M889.39 572.4V619.5M892.30 573.1V625.1M895.21 573.4V627.5M898.11 579.2V629.0M901.02 575.3V631.4M903.93 580.7V639.6M906.83 579.7V644.9M909.74 582.5V645.6M912.65 589.1V646.0M915.55 591.3V652.8M918.46 595.5V655.8M921.37 599.1V653.2M924.27 603.6V664.7M927.18 604.3V667.3M930.09 606.9V683.5M932.99 611.5V707.3M935.90 617.8V729.8M938.81 614.4V734.5M941.71 613.0V734.2M944.62 617.6V727.7M947.53 626.7V733.1M950.43 620.5V738.4M953.34 639.5V742.7M956.25 620.4V747.9M959.15 615.7V749.5M962.06 665.6V753.9M964.97 616.4V758.4M967.87 641.1V763.8M970.78 628.4V767.2M973.69 650.1V772.3M976.59 616.4V778.6M979.50 645.5V785.4" stroke="#ff00ff" stroke-width="0.9" stroke-opacity="0.75" fill="none"/>
<path d="M759.95 559.5h3.10V563.2h-3.10ZM762.86 559.0h3.10V562.3h-3.10ZM765.76 558.7h3.10V564.0h-3.10ZM768.67 558.1h3.10V562.7h-3.10ZM771.58 559.2h3.10V563.0h-3.10ZM774.48 556.1h3.10V563.6h-3.10ZM777.39 556.1h3.10V563.9h-3.10ZM780.30 557.2h3.10V563.6h-3.10ZM783.20 557.4h3.10V562.7h-3.10ZM786.11 557.9h3.10V562.7h-3.10ZM789.02 557.9h3.10V562.6h-3.10ZM791.92 560.0h3.10V562.7h-3.10ZM794.83 558.6h3.10V564.4h-3.10ZM797.74 559.7h3.10V564.8h-3.10ZM800.64 558.2h3.10V564.1h-3.10ZM803.55 560.0h3.10V563.5h-3.10ZM806.46 558.5h3.10V563.0h-3.10ZM809.36 558.9h3.10V565.2h-3.10ZM812.27 559.4h3.10V563.9h-3.10ZM815.18 559.9h3.10V563.2h-3.10ZM818.08 558.9h3.10V565.5h-3.10ZM820.99 559.7h3.10V565.2h-3.10ZM823.90 558.4h3.10V566.7h-3.10ZM826.80 561.0h3.10V567.2h-3.10ZM829.71 560.2h3.10V569.8h-3.10ZM832.62 560.6h3.10V569.8h-3.10ZM835.52 561.3h3.10V570.3h-3.10ZM838.43 559.7h3.10V572.7h-3.10ZM841.34 559.9h3.10V573.3h-3.10ZM844.24 561.3h3.10V573.6h-3.10ZM847.15 562.0h3.10V574.8h-3.10ZM850.06 563.0h3.10V577.8h-3.10ZM852.96 563.9h3.10V577.3h-3.10ZM855.87 564.4h3.10V577.6h-3.10ZM858.78 563.9h3.10V578.9h-3.10ZM861.68 566.1h3.10V580.1h-3.10ZM864.59 566.8h3.10V584.6h-3.10ZM867.50 568.0h3.10V588.0h-3.10ZM870.40 569.2h3.10V593.4h-3.10ZM873.31 570.9h3.10V596.3h-3.10ZM876.22 571.8h3.10V599.9h-3.10ZM879.12 573.9h3.10V602.3h-3.10ZM882.03 574.1h3.10V605.7h-3.10ZM884.94 577.1h3.10V610.3h-3.10ZM887.84 576.7h3.10V613.5h-3.10ZM890.75 579.6h3.10V616.5h-3.10ZM893.66 579.6h3.10V620.6h-3.10ZM896.56 583.5h3.10V624.1h-3.10ZM899.47 583.0h3.10V626.9h-3.10ZM902.38 586.1h3.10V632.3h-3.10ZM905.28 588.5h3.10V636.5h-3.10ZM908.19 591.0h3.10V637.9h-3.10ZM911.10 594.1h3.10V638.6h-3.10ZM914.00 598.5h3.10V640.1h-3.10ZM916.91 601.8h3.10V639.6h-3.10ZM919.82 606.1h3.10V640.0h-3.10ZM922.72 609.0h3.10V643.2h-3.10ZM925.63 613.3h3.10V653.2h-3.10ZM928.54 614.6h3.10V668.3h-3.10ZM931.44 619.1h3.10V684.7h-3.10ZM934.35 627.8h3.10V696.2h-3.10ZM937.26 635.0h3.10V705.0h-3.10ZM940.16 643.0h3.10V714.6h-3.10ZM943.07 655.0h3.10V722.5h-3.10ZM945.98 661.0h3.10V732.1h-3.10ZM948.88 661.2h3.10V738.4h-3.10ZM951.79 664.2h3.10V742.7h-3.10ZM954.70 667.4h3.10V747.9h-3.10ZM957.60 684.9h3.10V749.5h-3.10ZM960.51 703.9h3.10V753.9h-3.10ZM963.42 703.6h3.10V758.4h-3.10ZM966.32 703.4h3.10V763.8h-3.10ZM969.23 702.5h3.10V767.2h-3.10ZM972.14 703.1h3.10V772.1h-3.10ZM975.04 704.0h3.10V774.9h-3.10ZM977.95 703.1h3.10V779.1h-3.10Z" fill="#ff00ff"/>
<circle cx="961.3" cy="617.4" r="3.0" fill="none" stroke="#ff00ff" stroke-width="1"/>
<g><use href="#mk12" x="761.5" y="561.5"/><use href="#mk12" x="764.4" y="559.0"/><use href="#mk12" x="767.3" y="558.7"/><use href="#mk12" x="770.2" y="558.1"/><use href="#mk12" x="773.1" y="559.2"/><use href="#mk12" x="776.0" y="556.1"/><use href="#mk12" x="778.9" y="556.1"/><use href="#mk12" x="781.8" y="557.2"/><use href="#mk12" x="784.8" y="557.4"/><use href="#mk12" x="787.7" y="557.9"/><use href="#mk12" x="790.6" y="557.9"/><use href="#mk12" x="793.5" y="560.5"/><use href="#mk12" x="796.4" y="561.3"/><use href="#mk12" x="799.3" y="559.7"/><use href="#mk12" x="802.2" y="559.5"/><use href="#mk12" x="805.1" y="560.0"/><use href="#mk12" x="808.0" y="558.5"/><use href="#mk12" x="810.9" y="560.5"/><use href="#mk12" x="813.8" y="561.8"/><use href="#mk12" x="816.7" y="561.0"/><use href="#mk12" x="819.6" y="561.8"/><use href="#mk12" x="822.5" y="560.6"/><use href="#mk12" x="825.4" y="561.6"/><use href="#mk12" x="828.4" y="564.1"/><use href="#mk12" x="831.3" y="565.1"/><use href="#mk12" x="834.2" y="565.8"/><use href="#mk12" x="837.1" y="569.1"/><use href="#mk12" x="840.0" y="565.8"/><use href="#mk12" x="842.9" y="563.1"/><use href="#mk12" x="845.8" y="563.1"/><use href="#mk12" x="848.7" y="565.4"/><use href="#mk12" x="851.6" y="568.5"/><use href="#mk12" x="854.5" y="569.2"/><use href="#mk12" x="857.4" y="567.5"/><use href="#mk12" x="860.3" y="567.7"/><use href="#mk12" x="863.2" y="570.6"/><use href="#mk12" x="866.1" y="574.8"/><use href="#mk12" x="869.0" y="581.3"/><use href="#mk12" x="872.0" y="572.5"/><use href="#mk12" x="874.9" y="578.3"/><use href="#mk12" x="877.8" y="587.4"/><use href="#mk12" x="880.7" y="588.5"/><use href="#mk12" x="883.6" y="589.6"/><use href="#mk12" x="886.5" y="595.9"/><use href="#mk12" x="889.4" y="601.7"/><use href="#mk12" x="892.3" y="610.6"/><use href="#mk12" x="895.2" y="613.9"/><use href="#mk12" x="898.1" y="615.5"/><use href="#mk12" x="901.0" y="617.4"/><use href="#mk12" x="903.9" y="620.2"/><use href="#mk12" x="906.8" y="618.2"/><use href="#mk12" x="909.7" y="615.1"/><use href="#mk12" x="912.6" y="612.7"/><use href="#mk12" x="915.6" y="618.3"/><use href="#mk12" x="918.5" y="625.4"/><use href="#mk12" x="921.4" y="613.5"/><use href="#mk12" x="924.3" y="622.4"/><use href="#mk12" x="927.2" y="620.9"/><use href="#mk12" x="930.1" y="621.7"/><use href="#mk12" x="933.0" y="629.9"/><use href="#mk12" x="935.9" y="645.2"/><use href="#mk12" x="938.8" y="659.2"/><use href="#mk12" x="941.7" y="665.4"/><use href="#mk12" x="944.6" y="680.7"/><use href="#mk12" x="947.5" y="694.5"/><use href="#mk12" x="950.4" y="698.0"/><use href="#mk12" x="953.3" y="703.8"/><use href="#mk12" x="956.2" y="710.4"/><use href="#mk12" x="959.2" y="718.3"/><use href="#mk12" x="962.1" y="739.0"/><use href="#mk12" x="965.0" y="746.9"/><use href="#mk12" x="967.9" y="752.1"/><use href="#mk12" x="970.8" y="751.5"/><use href="#mk12" x="973.7" y="747.6"/><use href="#mk12" x="976.6" y="748.8"/><use href="#mk12" x="979.5" y="748.7"/></g>
<path d="M761.50 558.8V563.1M764.41 559.9V565.6M767.31 558.6V567.0M770.22 558.6V568.3M773.13 559.2V568.8M776.03 559.0V569.4M778.94 560.6V571.0M781.85 560.1V571.7M784.75 561.1V574.6M787.66 560.7V573.7M790.57 560.0V577.1M793.47 561.2V577.0M796.38 561.4V579.0M799.29 562.5V578.8M802.19 560.6V580.5M805.10 562.1V582.6M808.01 562.3V580.8M810.91 561.8V583.1M813.82 562.7V586.6M816.73 562.8V588.4M819.63 563.3V588.7M822.54 564.5V594.7M825.45 567.7V599.8M828.35 566.7V602.8M831.26 570.2V610.9M834.17 577.2V620.3M837.07 577.0V623.9M839.98 586.0V633.2M842.89 590.1V646.7M845.79 595.5V663.7M848.70 603.1V678.2M851.61 610.7V692.9M854.51 622.3V719.0M857.42 626.3V746.1M860.33 630.7V751.9M863.23 632.7V766.3M866.14 635.2V768.5M869.05 641.6V770.7M871.95 645.7V773.1M874.86 668.1V776.4M877.77 684.6V777.9M880.67 700.8V780.7M883.58 710.9V781.8M886.49 714.3V787.3M889.39 723.6V785.9M892.30 731.9V790.2M895.21 719.3V797.7M898.11 713.8V798.1M901.02 710.9V798.3M903.93 693.7V799.3M906.83 714.7V798.4M909.74 707.9V799.7M912.65 677.4V800.9M915.55 704.9V801.1M918.46 682.7V801.8M921.37 707.8V802.7M924.27 667.6V803.6M927.18 672.2V803.8M930.09 703.8V805.0M932.99 680.9V804.4M935.90 686.5V804.0M938.81 686.5V804.5M941.71 673.5V804.7M944.62 718.2V806.3M947.53 690.7V806.8M950.43 705.4V809.6M953.34 682.3V811.4M956.25 702.1V814.1M959.15 673.6V816.3M962.06 753.8V816.5M964.97 801.7V819.4M967.87 794.3V819.8M970.78 799.2V819.9M973.69 801.7V821.9M976.59 804.9V822.2M979.50 806.1V824.3" stroke="#00ffff" stroke-width="0.9" stroke-opacity="0.75" fill="none"/>
<path d="M759.95 560.5h3.10V561.7h-3.10ZM762.86 561.2h3.10V564.7h-3.10ZM765.76 560.1h3.10V565.6h-3.10ZM768.67 561.4h3.10V565.1h-3.10ZM771.58 560.4h3.10V567.4h-3.10ZM774.48 561.4h3.10V568.3h-3.10ZM777.39 562.2h3.10V567.0h-3.10ZM780.30 561.7h3.10V568.0h-3.10ZM783.20 562.7h3.10V570.6h-3.10ZM786.11 562.1h3.10V571.0h-3.10ZM789.02 561.9h3.10V572.1h-3.10ZM791.92 563.6h3.10V573.2h-3.10ZM794.83 564.6h3.10V572.7h-3.10ZM797.74 564.4h3.10V574.7h-3.10ZM800.64 564.4h3.10V576.2h-3.10ZM803.55 564.1h3.10V576.6h-3.10ZM806.46 566.1h3.10V577.3h-3.10ZM809.36 564.7h3.10V576.8h-3.10ZM812.27 564.8h3.10V578.8h-3.10ZM815.18 566.8h3.10V577.9h-3.10ZM818.08 568.0h3.10V579.7h-3.10ZM820.99 568.5h3.10V580.6h-3.10ZM823.90 569.9h3.10V584.9h-3.10ZM826.80 570.0h3.10V596.2h-3.10ZM829.71 573.6h3.10V601.8h-3.10ZM832.62 583.0h3.10V605.8h-3.10ZM835.52 589.1h3.10V615.6h-3.10ZM838.43 590.0h3.10V626.4h-3.10ZM841.34 592.7h3.10V638.4h-3.10ZM844.24 597.3h3.10V653.0h-3.10ZM847.15 604.7h3.10V669.1h-3.10ZM850.06 612.5h3.10V684.6h-3.10ZM852.96 630.1h3.10V719.0h-3.10ZM855.87 637.2h3.10V746.1h-3.10ZM858.78 637.1h3.10V751.9h-3.10ZM861.68 638.0h3.10V758.7h-3.10ZM864.59 640.9h3.10V763.5h-3.10ZM867.50 646.2h3.10V766.3h-3.10ZM870.40 658.0h3.10V766.5h-3.10ZM873.31 685.0h3.10V770.4h-3.10ZM876.22 701.6h3.10V771.7h-3.10ZM879.12 711.2h3.10V772.3h-3.10ZM882.03 722.2h3.10V775.5h-3.10ZM884.94 728.1h3.10V777.3h-3.10ZM887.84 735.2h3.10V780.3h-3.10ZM890.75 744.0h3.10V784.6h-3.10ZM893.66 747.5h3.10V794.9h-3.10ZM896.56 750.1h3.10V795.9h-3.10ZM899.47 753.3h3.10V795.7h-3.10ZM902.38 751.8h3.10V795.9h-3.10ZM905.28 753.2h3.10V796.8h-3.10ZM908.19 754.7h3.10V798.2h-3.10ZM911.10 754.9h3.10V799.3h-3.10ZM914.00 757.8h3.10V799.0h-3.10ZM916.91 757.0h3.10V799.9h-3.10ZM919.82 757.8h3.10V801.7h-3.10ZM922.72 759.3h3.10V800.3h-3.10ZM925.63 760.5h3.10V802.2h-3.10ZM928.54 761.2h3.10V801.8h-3.10ZM931.44 758.6h3.10V802.7h-3.10ZM934.35 760.4h3.10V801.0h-3.10ZM937.26 759.3h3.10V802.8h-3.10ZM940.16 760.3h3.10V802.6h-3.10ZM943.07 757.9h3.10V802.4h-3.10ZM945.98 759.4h3.10V803.5h-3.10ZM948.88 760.2h3.10V809.6h-3.10ZM951.79 760.0h3.10V811.4h-3.10ZM954.70 757.6h3.10V814.1h-3.10ZM957.60 757.4h3.10V816.3h-3.10ZM960.51 776.0h3.10V816.5h-3.10ZM963.42 808.4h3.10V819.4h-3.10ZM966.32 811.5h3.10V819.8h-3.10ZM969.23 813.8h3.10V819.9h-3.10ZM972.14 814.6h3.10V821.9h-3.10ZM975.04 814.9h3.10V822.1h-3.10ZM977.95 816.1h3.10V823.8h-3.10Z" fill="#00ffff"/>
<circle cx="902.5" cy="662.9" r="3.0" fill="none" stroke="#00ffff" stroke-width="1"/>
<circle cx="906.8" cy="670.6" r="3.0" fill="none" stroke="#00ffff" stroke-width="1"/>
<circle cx="911.2" cy="659.8" r="3.0" fill="none" stroke="#00ffff" stroke-width="1"/>
<circle cx="915.6" cy="673.6" r="3.0" fill="none" stroke="#00ffff" stroke-width="1"/>
<circle cx="919.9" cy="666.0" r="3.0" fill="none" stroke="#00ffff" stroke-width="1"/>
<circle cx="924.3" cy="678.2" r="3.0" fill="none" stroke="#00ffff" stroke-width="1"/>
<circle cx="928.6" cy="669.0" r="3.0" fill="none" stroke="#00ffff" stroke-width="1"/>
<circle cx="933.0" cy="672.1" r="3.0" fill="none" stroke="#00ffff" stroke-width="1"/>
<circle cx="937.4" cy="676.7" r="3.0" fill="none" stroke="#00ffff" stroke-width="1"/>
<circle cx="941.7" cy="667.5" r="3.0" fill="none" stroke="#00ffff" stroke-width="1"/>
<circle cx="946.1" cy="673.6" r="3.0" fill="none" stroke="#00ffff" stroke-width="1"/>
<circle cx="950.4" cy="678.2" r="3.0" fill="none" stroke="#00ffff" stroke-width="1"/>
<circle cx="954.8" cy="670.6" r="3.0" fill="none" stroke="#00ffff" stroke-width="1"/>
<circle cx="957.7" cy="675.2" r="3.0" fill="none" stroke="#00ffff" stroke-width="1"/>
<circle cx="965.0" cy="798.2" r="3.0" fill="none" stroke="#00ffff" stroke-width="1"/>
<circle cx="969.3" cy="801.2" r="3.0" fill="none" stroke="#00ffff" stroke-width="1"/>
<circle cx="973.7" cy="802.8" r="3.0" fill="none" stroke="#00ffff" stroke-width="1"/>
<g><use href="#mk13" x="761.5" y="561.6"/><use href="#mk13" x="764.4" y="561.2"/><use href="#mk13" x="767.3" y="561.6"/><use href="#mk13" x="770.2" y="564.2"/><use href="#mk13" x="773.1" y="562.9"/><use href="#mk13" x="776.0" y="564.6"/><use href="#mk13" x="778.9" y="566.4"/><use href="#mk13" x="781.8" y="564.9"/><use href="#mk13" x="784.8" y="567.7"/><use href="#mk13" x="787.7" y="567.1"/><use href="#mk13" x="790.6" y="567.0"/><use href="#mk13" x="793.5" y="571.2"/><use href="#mk13" x="796.4" y="570.9"/><use href="#mk13" x="799.3" y="571.5"/><use href="#mk13" x="802.2" y="571.3"/><use href="#mk13" x="805.1" y="571.9"/><use href="#mk13" x="808.0" y="572.2"/><use href="#mk13" x="810.9" y="572.1"/><use href="#mk13" x="813.8" y="576.0"/><use href="#mk13" x="816.7" y="575.3"/><use href="#mk13" x="819.6" y="576.6"/><use href="#mk13" x="822.5" y="574.8"/><use href="#mk13" x="825.4" y="573.9"/><use href="#mk13" x="828.4" y="581.1"/><use href="#mk13" x="831.3" y="584.6"/><use href="#mk13" x="834.2" y="592.6"/><use href="#mk13" x="837.1" y="599.5"/><use href="#mk13" x="840.0" y="599.0"/><use href="#mk13" x="842.9" y="606.6"/><use href="#mk13" x="845.8" y="609.4"/><use href="#mk13" x="848.7" y="619.7"/><use href="#mk13" x="851.6" y="648.3"/><use href="#mk13" x="854.5" y="658.4"/><use href="#mk13" x="857.4" y="666.6"/><use href="#mk13" x="860.3" y="672.0"/><use href="#mk13" x="863.2" y="675.8"/><use href="#mk13" x="866.1" y="677.6"/><use href="#mk13" x="869.0" y="682.8"/><use href="#mk13" x="872.0" y="692.0"/><use href="#mk13" x="874.9" y="719.8"/><use href="#mk13" x="877.8" y="742.2"/><use href="#mk13" x="880.7" y="756.3"/><use href="#mk13" x="883.6" y="760.6"/><use href="#mk13" x="886.5" y="761.2"/><use href="#mk13" x="889.4" y="759.3"/><use href="#mk13" x="892.3" y="761.5"/><use href="#mk13" x="895.2" y="763.2"/><use href="#mk13" x="898.1" y="779.4"/><use href="#mk13" x="901.0" y="782.2"/><use href="#mk13" x="903.9" y="782.0"/><use href="#mk13" x="906.8" y="786.1"/><use href="#mk13" x="909.7" y="788.1"/><use href="#mk13" x="912.6" y="788.6"/><use href="#mk13" x="915.6" y="787.5"/><use href="#mk13" x="918.5" y="791.9"/><use href="#mk13" x="921.4" y="794.3"/><use href="#mk13" x="924.3" y="793.9"/><use href="#mk13" x="927.2" y="795.8"/><use href="#mk13" x="930.1" y="794.0"/><use href="#mk13" x="933.0" y="794.8"/><use href="#mk13" x="935.9" y="797.6"/><use href="#mk13" x="938.8" y="798.3"/><use href="#mk13" x="941.7" y="794.9"/><use href="#mk13" x="944.6" y="794.6"/><use href="#mk13" x="947.5" y="799.5"/><use href="#mk13" x="950.4" y="809.6"/><use href="#mk13" x="953.3" y="811.4"/><use href="#mk13" x="956.2" y="814.1"/><use href="#mk13" x="959.2" y="816.3"/><use href="#mk13" x="962.1" y="816.5"/><use href="#mk13" x="965.0" y="817.1"/><use href="#mk13" x="967.9" y="818.5"/><use href="#mk13" x="970.8" y="819.9"/><use href="#mk13" x="973.7" y="818.6"/><use href="#mk13" x="976.6" y="819.2"/><use href="#mk13" x="979.5" y="820.8"/></g>
<path d="M761.50 558.9V563.7M764.41 559.2V566.8M767.31 559.1V568.1M770.22 559.8V568.5M773.13 559.8V573.5M776.03 559.7V572.3M778.94 560.8V573.1M781.85 561.2V576.3M784.75 560.4V581.7M787.66 562.7V581.8M790.57 563.8V585.9M793.47 569.2V598.7M796.38 573.6V627.4M799.29 580.2V660.1M802.19 585.6V668.3M805.10 594.4V701.9M808.01 606.0V711.1M810.91 613.5V726.9M813.82 633.4V738.1M816.73 640.6V751.2M819.63 652.1V761.9M822.54 681.2V768.2M825.45 698.8V775.7M828.35 709.5V783.9M831.26 732.4V787.5M834.17 742.1V795.0M837.07 741.5V800.8M839.98 744.6V805.4M842.89 747.8V807.5M845.79 748.4V807.8M848.70 755.4V810.4M851.61 751.1V810.9M854.51 760.8V809.0M857.42 755.2V808.9M860.33 762.5V811.8M863.23 763.4V812.6M866.14 765.1V812.5M869.05 765.4V813.5M871.95 759.5V815.5M874.86 769.0V817.0M877.77 765.5V817.4M880.67 764.9V818.0M883.58 769.1V816.8M886.49 775.5V819.3M889.39 780.9V818.7M892.30 781.2V820.9M895.21 782.9V820.8M898.11 788.5V820.7M901.02 790.2V820.6M903.93 790.0V821.4M906.83 794.2V821.9M909.74 794.7V821.1M912.65 795.5V822.0M915.55 799.8V821.8M918.46 794.8V821.1M921.37 802.6V821.9M924.27 799.3V820.8M927.18 800.3V822.1M930.09 802.5V822.5M932.99 799.8V821.8M935.90 804.0V822.8M938.81 802.0V821.4M941.71 802.4V822.8M944.62 807.5V821.9M947.53 807.4V822.1M950.43 806.2V822.5M953.34 809.4V822.6M956.25 809.8V823.6M959.15 811.1V823.6M962.06 808.0V823.8M964.97 812.1V823.8M967.87 811.9V823.2M970.78 813.1V823.9M973.69 811.9V824.0M976.59 813.2V824.2M979.50 814.4V824.4" stroke="#ffff00" stroke-width="0.9" stroke-opacity="0.75" fill="none"/>
<path d="M759.95 559.8h3.10V561.5h-3.10ZM762.86 559.9h3.10V563.7h-3.10ZM765.76 559.6h3.10V565.6h-3.10ZM768.67 560.4h3.10V565.0h-3.10ZM771.58 561.0h3.10V565.8h-3.10ZM774.48 561.9h3.10V566.9h-3.10ZM777.39 561.9h3.10V567.5h-3.10ZM780.30 561.8h3.10V571.1h-3.10ZM783.20 564.6h3.10V573.4h-3.10ZM786.11 566.1h3.10V576.7h-3.10ZM789.02 568.9h3.10V581.2h-3.10ZM791.92 571.8h3.10V587.1h-3.10ZM794.83 573.6h3.10V594.4h-3.10ZM797.74 580.2h3.10V602.7h-3.10ZM800.64 585.6h3.10V622.6h-3.10ZM803.55 594.4h3.10V688.3h-3.10ZM806.46 608.8h3.10V707.6h-3.10ZM809.36 624.2h3.10V726.9h-3.10ZM812.27 642.3h3.10V736.5h-3.10ZM815.18 663.4h3.10V746.6h-3.10ZM818.08 694.8h3.10V753.4h-3.10ZM820.99 715.4h3.10V761.9h-3.10ZM823.90 731.5h3.10V769.4h-3.10ZM826.80 747.4h3.10V778.9h-3.10ZM829.71 752.4h3.10V784.9h-3.10ZM832.62 753.7h3.10V794.0h-3.10ZM835.52 757.1h3.10V795.4h-3.10ZM838.43 759.0h3.10V799.0h-3.10ZM841.34 763.3h3.10V802.7h-3.10ZM844.24 763.9h3.10V803.7h-3.10ZM847.15 767.2h3.10V802.4h-3.10ZM850.06 769.0h3.10V805.3h-3.10ZM852.96 772.4h3.10V805.8h-3.10ZM855.87 773.4h3.10V805.4h-3.10ZM858.78 774.1h3.10V806.5h-3.10ZM861.68 775.6h3.10V809.2h-3.10ZM864.59 775.5h3.10V808.7h-3.10ZM867.50 777.7h3.10V811.3h-3.10ZM870.40 778.1h3.10V810.8h-3.10ZM873.31 778.6h3.10V813.9h-3.10ZM876.22 777.1h3.10V813.9h-3.10ZM879.12 780.4h3.10V815.9h-3.10ZM882.03 784.0h3.10V814.6h-3.10ZM884.94 787.5h3.10V815.9h-3.10ZM887.84 789.1h3.10V816.1h-3.10ZM890.75 790.6h3.10V818.9h-3.10ZM893.66 795.5h3.10V818.9h-3.10ZM896.56 798.0h3.10V819.4h-3.10ZM899.47 799.7h3.10V817.7h-3.10ZM902.38 801.8h3.10V819.9h-3.10ZM905.28 801.4h3.10V817.6h-3.10ZM908.19 804.4h3.10V819.4h-3.10ZM911.10 806.8h3.10V819.8h-3.10ZM914.00 807.2h3.10V819.7h-3.10ZM916.91 809.3h3.10V818.8h-3.10ZM919.82 809.5h3.10V819.7h-3.10ZM922.72 810.4h3.10V819.4h-3.10ZM925.63 810.6h3.10V818.9h-3.10ZM928.54 810.7h3.10V821.4h-3.10ZM931.44 811.6h3.10V820.7h-3.10ZM934.35 813.3h3.10V821.7h-3.10ZM937.26 812.0h3.10V820.0h-3.10ZM940.16 812.0h3.10V821.6h-3.10ZM943.07 813.2h3.10V820.0h-3.10ZM945.98 813.6h3.10V821.0h-3.10ZM948.88 813.6h3.10V820.3h-3.10ZM951.79 813.2h3.10V821.2h-3.10ZM954.70 814.9h3.10V822.8h-3.10ZM957.60 815.6h3.10V822.1h-3.10ZM960.51 814.9h3.10V821.9h-3.10ZM963.42 815.7h3.10V823.2h-3.10ZM966.32 815.3h3.10V822.6h-3.10ZM969.23 816.4h3.10V823.7h-3.10ZM972.14 814.8h3.10V823.7h-3.10ZM975.04 815.4h3.10V824.1h-3.10ZM977.95 815.8h3.10V822.8h-3.10Z" fill="#ffff00"/>
<g><use href="#mk14" x="761.5" y="559.8"/><use href="#mk14" x="764.4" y="559.9"/><use href="#mk14" x="767.3" y="559.6"/><use href="#mk14" x="770.2" y="560.4"/><use href="#mk14" x="773.1" y="563.5"/><use href="#mk14" x="776.0" y="563.2"/><use href="#mk14" x="778.9" y="563.8"/><use href="#mk14" x="781.8" y="563.6"/><use href="#mk14" x="784.8" y="573.0"/><use href="#mk14" x="787.7" y="571.5"/><use href="#mk14" x="790.6" y="574.5"/><use href="#mk14" x="793.5" y="578.4"/><use href="#mk14" x="796.4" y="585.5"/><use href="#mk14" x="799.3" y="595.8"/><use href="#mk14" x="802.2" y="604.0"/><use href="#mk14" x="805.1" y="605.3"/><use href="#mk14" x="808.0" y="632.9"/><use href="#mk14" x="810.9" y="640.4"/><use href="#mk14" x="813.8" y="658.8"/><use href="#mk14" x="816.7" y="699.1"/><use href="#mk14" x="819.6" y="725.0"/><use href="#mk14" x="822.5" y="734.8"/><use href="#mk14" x="825.4" y="745.6"/><use href="#mk14" x="828.4" y="762.8"/><use href="#mk14" x="831.3" y="767.1"/><use href="#mk14" x="834.2" y="767.5"/><use href="#mk14" x="837.1" y="774.9"/><use href="#mk14" x="840.0" y="777.4"/><use href="#mk14" x="842.9" y="786.5"/><use href="#mk14" x="845.8" y="791.3"/><use href="#mk14" x="848.7" y="791.9"/><use href="#mk14" x="851.6" y="800.7"/><use href="#mk14" x="854.5" y="802.9"/><use href="#mk14" x="857.4" y="804.6"/><use href="#mk14" x="860.3" y="804.3"/><use href="#mk14" x="863.2" y="804.1"/><use href="#mk14" x="866.1" y="805.8"/><use href="#mk14" x="869.0" y="807.8"/><use href="#mk14" x="872.0" y="808.1"/><use href="#mk14" x="874.9" y="810.4"/><use href="#mk14" x="877.8" y="809.5"/><use href="#mk14" x="880.7" y="811.1"/><use href="#mk14" x="883.6" y="812.5"/><use href="#mk14" x="886.5" y="812.8"/><use href="#mk14" x="889.4" y="813.9"/><use href="#mk14" x="892.3" y="815.0"/><use href="#mk14" x="895.2" y="813.2"/><use href="#mk14" x="898.1" y="816.2"/><use href="#mk14" x="901.0" y="816.5"/><use href="#mk14" x="903.9" y="816.1"/><use href="#mk14" x="906.8" y="817.4"/><use href="#mk14" x="909.7" y="816.5"/><use href="#mk14" x="912.6" y="817.1"/><use href="#mk14" x="915.6" y="815.7"/><use href="#mk14" x="918.5" y="815.6"/><use href="#mk14" x="921.4" y="818.8"/><use href="#mk14" x="924.3" y="816.8"/><use href="#mk14" x="927.2" y="816.1"/><use href="#mk14" x="930.1" y="818.0"/><use href="#mk14" x="933.0" y="818.7"/><use href="#mk14" x="935.9" y="819.2"/><use href="#mk14" x="938.8" y="820.0"/><use href="#mk14" x="941.7" y="820.8"/><use href="#mk14" x="944.6" y="817.6"/><use href="#mk14" x="947.5" y="820.0"/><use href="#mk14" x="950.4" y="820.0"/><use href="#mk14" x="953.3" y="821.2"/><use href="#mk14" x="956.2" y="819.6"/><use href="#mk14" x="959.2" y="822.1"/><use href="#mk14" x="962.1" y="821.9"/><use href="#mk14" x="965.0" y="822.4"/><use href="#mk14" x="967.9" y="822.6"/><use href="#mk14" x="970.8" y="823.7"/><use href="#mk14" x="973.7" y="820.6"/><use href="#mk14" x="976.6" y="822.7"/><use href="#mk14" x="979.5" y="821.1"/></g>
<path d="M761.50 557.8V566.2M764.41 559.1V573.4M767.31 559.6V581.2M770.22 562.5V591.2M773.13 565.7V615.8M776.03 571.8V637.4M778.94 589.0V666.5M781.85 601.1V683.3M784.75 612.3V697.2M787.66 628.7V708.9M790.57 641.9V723.5M793.47 652.2V735.3M796.38 646.8V749.0M799.29 657.5V757.8M802.19 672.8V758.2M805.10 677.7V764.7M808.01 688.2V775.8M810.91 689.3V777.0M813.82 713.1V786.7M816.73 711.6V801.1M819.63 732.4V811.0M822.54 741.5V811.2M825.45 749.7V814.5M828.35 763.6V816.6M831.26 785.9V817.0M834.17 787.9V817.8M837.07 789.3V816.3M839.98 790.1V818.3M842.89 790.0V818.1M845.79 791.8V817.5M848.70 797.0V818.3M851.61 801.9V818.3M854.51 804.7V818.5M857.42 801.1V819.3M860.33 805.0V819.5M863.23 801.8V818.6M866.14 803.9V819.5M869.05 798.0V819.4M871.95 799.1V819.1M874.86 798.1V819.9M877.77 804.8V820.1M880.67 802.3V820.5M883.58 797.0V820.9M886.49 798.4V820.9M889.39 800.2V821.0M892.30 810.9V821.2M895.21 812.0V821.3M898.11 812.1V821.6M901.02 811.0V821.3M903.93 811.2V821.3M906.83 811.5V820.9M909.74 812.5V821.5M912.65 813.1V821.2M915.55 812.4V822.0M918.46 812.6V822.2M921.37 813.1V822.2M924.27 813.3V822.3M927.18 813.7V822.0M930.09 813.6V821.5M932.99 814.8V822.2M935.90 813.9V822.9M938.81 813.6V822.9M941.71 814.6V823.0M944.62 815.0V822.9M947.53 814.4V823.1M950.43 815.8V823.3M953.34 814.5V822.8M956.25 815.3V823.2M959.15 815.3V823.4M962.06 815.5V823.5M964.97 817.0V823.6M967.87 817.0V823.6M970.78 817.5V822.9M973.69 816.6V824.1M976.59 816.5V823.5M979.50 817.2V823.9" stroke="#00ff00" stroke-width="0.9" stroke-opacity="0.75" fill="none"/>
<path d="M759.95 559.7h3.10V563.6h-3.10ZM762.86 561.7h3.10V570.4h-3.10ZM765.76 563.2h3.10V574.4h-3.10ZM768.67 568.3h3.10V581.2h-3.10ZM771.58 574.1h3.10V601.8h-3.10ZM774.48 584.3h3.10V633.5h-3.10ZM777.39 602.3h3.10V666.5h-3.10ZM780.30 616.7h3.10V683.3h-3.10ZM783.20 631.2h3.10V696.3h-3.10ZM786.11 639.2h3.10V706.5h-3.10ZM789.02 656.3h3.10V718.2h-3.10ZM791.92 663.4h3.10V732.1h-3.10ZM794.83 674.8h3.10V739.9h-3.10ZM797.74 681.0h3.10V744.4h-3.10ZM800.64 685.6h3.10V749.6h-3.10ZM803.55 690.9h3.10V755.4h-3.10ZM806.46 696.5h3.10V763.7h-3.10ZM809.36 698.6h3.10V772.9h-3.10ZM812.27 730.4h3.10V782.8h-3.10ZM815.18 736.8h3.10V796.9h-3.10ZM818.08 747.4h3.10V808.1h-3.10ZM820.99 758.7h3.10V807.4h-3.10ZM823.90 766.9h3.10V811.8h-3.10ZM826.80 776.7h3.10V811.2h-3.10ZM829.71 791.1h3.10V815.2h-3.10ZM832.62 790.2h3.10V814.8h-3.10ZM835.52 793.7h3.10V814.1h-3.10ZM838.43 793.0h3.10V815.7h-3.10ZM841.34 794.5h3.10V816.3h-3.10ZM844.24 796.9h3.10V815.2h-3.10ZM847.15 802.8h3.10V817.5h-3.10ZM850.06 811.9h3.10V815.6h-3.10ZM852.96 811.3h3.10V816.9h-3.10ZM855.87 810.4h3.10V817.5h-3.10ZM858.78 812.3h3.10V817.2h-3.10ZM861.68 811.2h3.10V817.1h-3.10ZM864.59 812.4h3.10V819.0h-3.10ZM867.50 810.9h3.10V818.2h-3.10ZM870.40 809.9h3.10V818.0h-3.10ZM873.31 811.6h3.10V818.8h-3.10ZM876.22 813.0h3.10V817.9h-3.10ZM879.12 810.7h3.10V818.1h-3.10ZM882.03 812.6h3.10V819.1h-3.10ZM884.94 811.8h3.10V820.7h-3.10ZM887.84 812.8h3.10V820.6h-3.10ZM890.75 811.2h3.10V821.1h-3.10ZM893.66 813.8h3.10V820.6h-3.10ZM896.56 813.6h3.10V819.9h-3.10ZM899.47 813.7h3.10V819.8h-3.10ZM902.38 812.9h3.10V819.4h-3.10ZM905.28 812.5h3.10V819.6h-3.10ZM908.19 813.8h3.10V821.1h-3.10ZM911.10 815.0h3.10V820.0h-3.10ZM914.00 813.2h3.10V821.8h-3.10ZM916.91 814.1h3.10V819.5h-3.10ZM919.82 813.7h3.10V822.1h-3.10ZM922.72 815.3h3.10V820.7h-3.10ZM925.63 816.0h3.10V820.7h-3.10ZM928.54 814.7h3.10V820.4h-3.10ZM931.44 816.3h3.10V821.7h-3.10ZM934.35 814.5h3.10V820.9h-3.10ZM937.26 815.5h3.10V822.6h-3.10ZM940.16 816.6h3.10V821.6h-3.10ZM943.07 817.2h3.10V820.3h-3.10ZM945.98 815.9h3.10V822.8h-3.10ZM948.88 817.2h3.10V822.7h-3.10ZM951.79 818.5h3.10V821.8h-3.10ZM954.70 815.8h3.10V822.8h-3.10ZM957.60 819.0h3.10V822.9h-3.10ZM960.51 817.3h3.10V823.2h-3.10ZM963.42 818.7h3.10V823.0h-3.10ZM966.32 819.3h3.10V821.4h-3.10ZM969.23 819.7h3.10V821.9h-3.10ZM972.14 818.7h3.10V824.0h-3.10ZM975.04 817.8h3.10V822.2h-3.10ZM977.95 817.7h3.10V823.5h-3.10Z" fill="#00ff00"/>
<circle cx="887.9" cy="799.7" r="3.0" fill="none" stroke="#00ff00" stroke-width="1"/>
<circle cx="890.8" cy="796.6" r="3.0" fill="none" stroke="#00ff00" stroke-width="1"/>
<circle cx="893.8" cy="794.0" r="3.0" fill="none" stroke="#00ff00" stroke-width="1"/>
<circle cx="896.7" cy="798.2" r="3.0" fill="none" stroke="#00ff00" stroke-width="1"/>
<circle cx="899.6" cy="799.7" r="3.0" fill="none" stroke="#00ff00" stroke-width="1"/>
<circle cx="902.5" cy="795.9" r="3.0" fill="none" stroke="#00ff00" stroke-width="1"/>
<circle cx="905.4" cy="798.2" r="3.0" fill="none" stroke="#00ff00" stroke-width="1"/>
<circle cx="908.3" cy="800.2" r="3.0" fill="none" stroke="#00ff00" stroke-width="1"/>
<circle cx="911.2" cy="796.6" r="3.0" fill="none" stroke="#00ff00" stroke-width="1"/>
<circle cx="914.1" cy="797.4" r="3.0" fill="none" stroke="#00ff00" stroke-width="1"/>
<circle cx="917.0" cy="799.7" r="3.0" fill="none" stroke="#00ff00" stroke-width="1"/>
<circle cx="919.9" cy="795.9" r="3.0" fill="none" stroke="#00ff00" stroke-width="1"/>
<circle cx="922.8" cy="798.2" r="3.0" fill="none" stroke="#00ff00" stroke-width="1"/>
<circle cx="925.7" cy="798.9" r="3.0" fill="none" stroke="#00ff00" stroke-width="1"/>
<circle cx="928.6" cy="796.6" r="3.0" fill="none" stroke="#00ff00" stroke-width="1"/>
<circle cx="931.5" cy="797.4" r="3.0" fill="none" stroke="#00ff00" stroke-width="1"/>
<circle cx="932.6" cy="813.1" r="3.0" fill="none" stroke="#00ff00" stroke-width="1"/>
<g><use href="#mk15" x="761.5" y="561.4"/><use href="#mk15" x="764.4" y="564.8"/><use href="#mk15" x="767.3" y="570.8"/><use href="#mk15" x="770.2" y="575.6"/><use href="#mk15" x="773.1" y="586.7"/><use href="#mk15" x="776.0" y="607.5"/><use href="#mk15" x="778.9" y="623.2"/><use href="#mk15" x="781.8" y="662.1"/><use href="#mk15" x="784.8" y="685.0"/><use href="#mk15" x="787.7" y="682.3"/><use href="#mk15" x="790.6" y="696.3"/><use href="#mk15" x="793.5" y="711.4"/><use href="#mk15" x="796.4" y="727.2"/><use href="#mk15" x="799.3" y="735.5"/><use href="#mk15" x="802.2" y="736.3"/><use href="#mk15" x="805.1" y="732.9"/><use href="#mk15" x="808.0" y="734.4"/><use href="#mk15" x="810.9" y="738.7"/><use href="#mk15" x="813.8" y="766.5"/><use href="#mk15" x="816.7" y="778.1"/><use href="#mk15" x="819.6" y="777.5"/><use href="#mk15" x="822.5" y="779.9"/><use href="#mk15" x="825.4" y="790.1"/><use href="#mk15" x="828.4" y="793.5"/><use href="#mk15" x="831.3" y="797.1"/><use href="#mk15" x="834.2" y="810.2"/><use href="#mk15" x="837.1" y="811.1"/><use href="#mk15" x="840.0" y="813.1"/><use href="#mk15" x="842.9" y="815.0"/><use href="#mk15" x="845.8" y="814.7"/><use href="#mk15" x="848.7" y="814.0"/><use href="#mk15" x="851.6" y="813.5"/><use href="#mk15" x="854.5" y="814.6"/><use href="#mk15" x="857.4" y="814.6"/><use href="#mk15" x="860.3" y="814.1"/><use href="#mk15" x="863.2" y="815.0"/><use href="#mk15" x="866.1" y="814.0"/><use href="#mk15" x="869.0" y="816.2"/><use href="#mk15" x="872.0" y="814.3"/><use href="#mk15" x="874.9" y="814.6"/><use href="#mk15" x="877.8" y="817.9"/><use href="#mk15" x="880.7" y="818.1"/><use href="#mk15" x="883.6" y="815.3"/><use href="#mk15" x="886.5" y="816.8"/><use href="#mk15" x="889.4" y="817.0"/><use href="#mk15" x="892.3" y="817.0"/><use href="#mk15" x="895.2" y="818.2"/><use href="#mk15" x="898.1" y="817.5"/><use href="#mk15" x="901.0" y="819.2"/><use href="#mk15" x="903.9" y="819.1"/><use href="#mk15" x="906.8" y="818.8"/><use href="#mk15" x="909.7" y="816.8"/><use href="#mk15" x="912.6" y="816.6"/><use href="#mk15" x="915.6" y="818.8"/><use href="#mk15" x="918.5" y="818.4"/><use href="#mk15" x="921.4" y="817.0"/><use href="#mk15" x="924.3" y="819.6"/><use href="#mk15" x="927.2" y="817.6"/><use href="#mk15" x="930.1" y="817.9"/><use href="#mk15" x="933.0" y="818.5"/><use href="#mk15" x="935.9" y="819.1"/><use href="#mk15" x="938.8" y="820.2"/><use href="#mk15" x="941.7" y="818.0"/><use href="#mk15" x="944.6" y="819.1"/><use href="#mk15" x="947.5" y="817.9"/><use href="#mk15" x="950.4" y="817.9"/><use href="#mk15" x="953.3" y="820.1"/><use href="#mk15" x="956.2" y="818.4"/><use href="#mk15" x="959.2" y="821.6"/><use href="#mk15" x="962.1" y="820.6"/><use href="#mk15" x="965.0" y="820.4"/><use href="#mk15" x="967.9" y="820.9"/><use href="#mk15" x="970.8" y="821.9"/><use href="#mk15" x="973.7" y="819.3"/><use href="#mk15" x="976.6" y="819.4"/><use href="#mk15" x="979.5" y="819.7"/></g>
<line x1="761.5" y1="832.0" x2="761.5" y2="828.0" stroke="#262626" stroke-width="1"/>
<line x1="761.5" y1="524.5" x2="761.5" y2="528.5" stroke="#262626" stroke-width="1"/>
<line x1="805.1" y1="832.0" x2="805.1" y2="828.0" stroke="#262626" stroke-width="1"/>
<line x1="805.1" y1="524.5" x2="805.1" y2="528.5" stroke="#262626" stroke-width="1"/>
<line x1="848.7" y1="832.0" x2="848.7" y2="828.0" stroke="#262626" stroke-width="1"/>
<line x1="848.7" y1="524.5" x2="848.7" y2="528.5" stroke="#262626" stroke-width="1"/>
<line x1="892.3" y1="832.0" x2="892.3" y2="828.0" stroke="#262626" stroke-width="1"/>
<line x1="892.3" y1="524.5" x2="892.3" y2="528.5" stroke="#262626" stroke-width="1"/>
<line x1="935.9" y1="832.0" x2="935.9" y2="828.0" stroke="#262626" stroke-width="1"/>
<line x1="935.9" y1="524.5" x2="935.9" y2="528.5" stroke="#262626" stroke-width="1"/>
<line x1="979.5" y1="832.0" x2="979.5" y2="828.0" stroke="#262626" stroke-width="1"/>
<line x1="979.5" y1="524.5" x2="979.5" y2="528.5" stroke="#262626" stroke-width="1"/>
<line x1="761.5" y1="832.0" x2="765.5" y2="832.0" stroke="#262626" stroke-width="1"/>
<line x1="979.5" y1="832.0" x2="975.5" y2="832.0" stroke="#262626" stroke-width="1"/>
<line x1="761.5" y1="793.6" x2="765.5" y2="793.6" stroke="#262626" stroke-width="1"/>
<line x1="979.5" y1="793.6" x2="975.5" y2="793.6" stroke="#262626" stroke-width="1"/>
<line x1="761.5" y1="755.1" x2="765.5" y2="755.1" stroke="#262626" stroke-width="1"/>
<line x1="979.5" y1="755.1" x2="975.5" y2="755.1" stroke="#262626" stroke-width="1"/>
<line x1="761.5" y1="716.7" x2="765.5" y2="716.7" stroke="#262626" stroke-width="1"/>
<line x1="979.5" y1="716.7" x2="975.5" y2="716.7" stroke="#262626" stroke-width="1"/>
<line x1="761.5" y1="678.2" x2="765.5" y2="678.2" stroke="#262626" stroke-width="1"/>
<line x1="979.5" y1="678.2" x2="975.5" y2="678.2" stroke="#262626" stroke-width="1"/>
<line x1="761.5" y1="639.8" x2="765.5" y2="639.8" stroke="#262626" stroke-width="1"/>
<line x1="979.5" y1="639.8" x2="975.5" y2="639.8" stroke="#262626" stroke-width="1"/>
<line x1="761.5" y1="601.4" x2="765.5" y2="601.4" stroke="#262626" stroke-width="1"/>
<line x1="979.5" y1="601.4" x2="975.5" y2="601.4" stroke="#262626" stroke-width="1"/>
<line x1="761.5" y1="562.9" x2="765.5" y2="562.9" stroke="#262626" stroke-width="1"/>
<line x1="979.5" y1="562.9" x2="975.5" y2="562.9" stroke="#262626" stroke-width="1"/>
<line x1="761.5" y1="524.5" x2="765.5" y2="524.5" stroke="#262626" stroke-width="1"/>
<line x1="979.5" y1="524.5" x2="975.5" y2="524.5" stroke="#262626" stroke-width="1"/>
<line x1="761.5" y1="524.5" x2="979.5" y2="524.5" stroke="#262626" stroke-width="1.3"/>
<line x1="761.5" y1="832.0" x2="979.5" y2="832.0" stroke="#262626" stroke-width="1.3"/>
<line x1="761.5" y1="524.5" x2="761.5" y2="832.0" stroke="#262626" stroke-width="1.3"/>
<line x1="979.5" y1="524.5" x2="979.5" y2="832.0" stroke="#262626" stroke-width="1.3"/>
<text x="761.5" y="862.0" font-size="21" fill="#262626" text-anchor="middle">0</text>
<text x="805.1" y="862.0" font-size="21" fill="#262626" text-anchor="middle">30</text>
<text x="848.7" y="862.0" font-size="21" fill="#262626" text-anchor="middle">60</text>
<text x="892.3" y="862.0" font-size="21" fill="#262626" text-anchor="middle">90</text>
<text x="935.9" y="862.0" font-size="21" fill="#262626" text-anchor="middle">120</text>
<text x="979.5" y="862.0" font-size="21" fill="#262626" text-anchor="middle">150</text>
<text x="752.5" y="841.0" font-size="21" fill="#262626" text-anchor="end">0</text>
<text x="752.5" y="802.6" font-size="21" fill="#262626" text-anchor="end">25</text>
<text x="752.5" y="764.1" font-size="21" fill="#262626" text-anchor="end">50</text>
<text x="752.5" y="725.7" font-size="21" fill="#262626" text-anchor="end">75</text>
<text x="752.5" y="687.2" font-size="21" fill="#262626" text-anchor="end">100</text>
<text x="752.5" y="648.8" font-size="21" fill="#262626" text-anchor="end">125</text>
<text x="752.5" y="610.4" font-size="21" fill="#262626" text-anchor="end">150</text>
<text x="752.5" y="571.9" font-size="21" fill="#262626" text-anchor="end">175</text>
<text x="752.5" y="533.5" font-size="21" fill="#262626" text-anchor="end">200</text>
<text x="841.9" y="879.5" font-size="21.2" fill="#262626" text-anchor="middle">Iteration</text>
<text x="709.5" y="679.0" font-size="23.6" fill="#262626" text-anchor="middle" transform="rotate(-90 709.5 679.0)">RMSE</text>
<text x="836.0" y="548.0" font-size="21" fill="#ff00ff" text-anchor="start"><tspan font-family="Liberation Serif" font-style="italic" font-size="1.2em">&#945;</tspan> = 1e-3</text>
<text x="825.0" y="649.4" font-size="21" fill="#00ffff" text-anchor="start"><tspan font-family="Liberation Serif" font-style="italic" font-size="1.2em">&#945;</tspan> = 0.1</text>
<text x="828.7" y="748.8" font-size="21" fill="#ffff00" text-anchor="start"><tspan font-family="Liberation Serif" font-style="italic" font-size="1.2em">&#945;</tspan> = 0.5</text>
<text x="772.3" y="825.0" font-size="21" fill="#00ff00" text-anchor="start"><tspan font-family="Liberation Serif" font-style="italic" font-size="1.2em">&#945;</tspan> = 0.9</text>
<path d="M1091.0 565.2V579.9M1101.0 559.9V616.1M1110.9 570.9V604.8M1120.9 584.5V698.9M1130.9 589.4V673.8M1140.9 599.8V671.8M1150.9 659.8V763.1M1160.9 728.7V803.9M1170.8 693.6V799.7M1180.8 783.7V816.6M1190.8 769.4V818.2M1200.8 806.2V818.2M1210.8 810.9V819.7M1220.8 803.9V819.7M1230.7 807.4V819.7M1240.7 808.9V821.2M1250.7 812.8V818.2" stroke="#ff0000" stroke-width="1" stroke-opacity="0.85"/>
<path d="M1088.5 567.4h5.0V579.9h-5.0ZM1098.5 561.6h5.0V600.9h-5.0ZM1108.4 573.1h5.0V594.1h-5.0ZM1118.4 587.4h5.0V647.8h-5.0ZM1128.4 606.6h5.0V673.8h-5.0ZM1138.4 616.1h5.0V646.0h-5.0ZM1148.4 678.9h5.0V749.7h-5.0ZM1158.4 744.5h5.0V795.3h-5.0ZM1168.3 752.4h5.0V796.5h-5.0ZM1178.3 783.7h5.0V810.0h-5.0ZM1188.3 792.8h5.0V817.2h-5.0ZM1198.3 806.2h5.0V816.0h-5.0ZM1208.3 810.9h5.0V818.6h-5.0ZM1218.3 810.9h5.0V818.6h-5.0ZM1228.2 810.5h5.0V818.6h-5.0ZM1238.2 808.9h5.0V819.2h-5.0ZM1248.2 812.8h5.0V816.6h-5.0Z" fill="#ff0000"/>
<polyline points="1091.0,579.9 1101.0,571.2 1110.9,589.4 1120.9,629.4 1130.9,614.3 1140.9,633.0 1150.9,741.9 1160.9,771.1 1170.8,779.7 1180.8,809.4 1190.8,811.9 1200.8,814.8 1210.8,817.2 1220.8,816.6 1230.7,817.2 1240.7,819.2 1250.7,816.6" fill="none" stroke="#ff0000" stroke-width="1"/>
<circle cx="1180.8" cy="714.4" r="3" fill="none" stroke="#ff0000" stroke-width="1"/>
<circle cx="1200.8" cy="783.7" r="3" fill="none" stroke="#ff0000" stroke-width="1"/>
<circle cx="1250.7" cy="796.5" r="3" fill="none" stroke="#ff0000" stroke-width="1"/>
<circle cx="1091.0" cy="579.9" r="4.0" fill="#fff" stroke="#ff0000" stroke-width="1"/>
<circle cx="1091.0" cy="579.9" r="1" fill="#000"/>
<circle cx="1101.0" cy="571.2" r="4.0" fill="#fff" stroke="#ff0000" stroke-width="1"/>
<circle cx="1101.0" cy="571.2" r="1" fill="#000"/>
<circle cx="1110.9" cy="589.4" r="4.0" fill="#fff" stroke="#ff0000" stroke-width="1"/>
<circle cx="1110.9" cy="589.4" r="1" fill="#000"/>
<circle cx="1120.9" cy="629.4" r="4.0" fill="#fff" stroke="#ff0000" stroke-width="1"/>
<circle cx="1120.9" cy="629.4" r="1" fill="#000"/>
<circle cx="1130.9" cy="614.3" r="4.0" fill="#fff" stroke="#ff0000" stroke-width="1"/>
<circle cx="1130.9" cy="614.3" r="1" fill="#000"/>
<circle cx="1140.9" cy="633.0" r="4.0" fill="#fff" stroke="#ff0000" stroke-width="1"/>
<circle cx="1140.9" cy="633.0" r="1" fill="#000"/>
<circle cx="1150.9" cy="741.9" r="4.0" fill="#fff" stroke="#ff0000" stroke-width="1"/>
<circle cx="1150.9" cy="741.9" r="1" fill="#000"/>
<circle cx="1160.9" cy="771.1" r="4.0" fill="#fff" stroke="#ff0000" stroke-width="1"/>
<circle cx="1160.9" cy="771.1" r="1" fill="#000"/>
<circle cx="1170.8" cy="779.7" r="4.0" fill="#fff" stroke="#ff0000" stroke-width="1"/>
<circle cx="1170.8" cy="779.7" r="1" fill="#000"/>
<circle cx="1180.8" cy="809.4" r="4.0" fill="#fff" stroke="#ff0000" stroke-width="1"/>
<circle cx="1180.8" cy="809.4" r="1" fill="#000"/>
<circle cx="1190.8" cy="811.9" r="4.0" fill="#fff" stroke="#ff0000" stroke-width="1"/>
<circle cx="1190.8" cy="811.9" r="1" fill="#000"/>
<circle cx="1200.8" cy="814.8" r="4.0" fill="#fff" stroke="#ff0000" stroke-width="1"/>
<circle cx="1200.8" cy="814.8" r="1" fill="#000"/>
<circle cx="1210.8" cy="817.2" r="4.0" fill="#fff" stroke="#ff0000" stroke-width="1"/>
<circle cx="1210.8" cy="817.2" r="1" fill="#000"/>
<circle cx="1220.8" cy="816.6" r="4.0" fill="#fff" stroke="#ff0000" stroke-width="1"/>
<circle cx="1220.8" cy="816.6" r="1" fill="#000"/>
<circle cx="1230.7" cy="817.2" r="4.0" fill="#fff" stroke="#ff0000" stroke-width="1"/>
<circle cx="1230.7" cy="817.2" r="1" fill="#000"/>
<circle cx="1240.7" cy="819.2" r="4.0" fill="#fff" stroke="#ff0000" stroke-width="1"/>
<circle cx="1240.7" cy="819.2" r="1" fill="#000"/>
<circle cx="1250.7" cy="816.6" r="4.0" fill="#fff" stroke="#ff0000" stroke-width="1"/>
<circle cx="1250.7" cy="816.6" r="1" fill="#000"/>
<path d="M1253.4 748.7V776.6" stroke="#0000ff" stroke-width="1"/>
<rect x="1250.8" y="748.7" width="5.2" height="22.1" fill="#0000ff"/>
<polyline points="1093.7,832.0 1103.7,832.0 1113.6,832.0 1123.6,832.0 1133.6,832.0 1143.6,832.0 1153.6,832.0 1163.6,832.0 1173.5,832.0 1183.5,832.0 1193.5,832.0 1203.5,828.9 1213.5,824.0 1223.5,816.6 1233.4,800.0 1243.4,772.7 1253.4,748.7" fill="none" stroke="#0000ff" stroke-width="1"/>
<circle cx="1093.7" cy="832.0" r="4.0" fill="none" stroke="#0000ff" stroke-width="1"/>
<circle cx="1103.7" cy="832.0" r="4.0" fill="none" stroke="#0000ff" stroke-width="1"/>
<circle cx="1113.6" cy="832.0" r="4.0" fill="none" stroke="#0000ff" stroke-width="1"/>
<circle cx="1123.6" cy="832.0" r="4.0" fill="none" stroke="#0000ff" stroke-width="1"/>
<circle cx="1133.6" cy="832.0" r="4.0" fill="none" stroke="#0000ff" stroke-width="1"/>
<circle cx="1143.6" cy="832.0" r="4.0" fill="none" stroke="#0000ff" stroke-width="1"/>
<circle cx="1153.6" cy="832.0" r="4.0" fill="none" stroke="#0000ff" stroke-width="1"/>
<circle cx="1163.6" cy="832.0" r="4.0" fill="none" stroke="#0000ff" stroke-width="1"/>
<circle cx="1173.5" cy="832.0" r="4.0" fill="none" stroke="#0000ff" stroke-width="1"/>
<circle cx="1183.5" cy="832.0" r="4.0" fill="none" stroke="#0000ff" stroke-width="1"/>
<circle cx="1193.5" cy="832.0" r="4.0" fill="none" stroke="#0000ff" stroke-width="1"/>
<circle cx="1193.5" cy="832.0" r="1" fill="#000"/>
<circle cx="1203.5" cy="828.9" r="4.0" fill="none" stroke="#0000ff" stroke-width="1"/>
<circle cx="1203.5" cy="828.9" r="1" fill="#000"/>
<circle cx="1213.5" cy="824.0" r="4.0" fill="none" stroke="#0000ff" stroke-width="1"/>
<circle cx="1213.5" cy="824.0" r="1" fill="#000"/>
<circle cx="1223.5" cy="816.6" r="4.0" fill="none" stroke="#0000ff" stroke-width="1"/>
<circle cx="1223.5" cy="816.6" r="1" fill="#000"/>
<circle cx="1233.4" cy="800.0" r="4.0" fill="none" stroke="#0000ff" stroke-width="1"/>
<circle cx="1233.4" cy="800.0" r="1" fill="#000"/>
<circle cx="1243.4" cy="772.7" r="4.0" fill="none" stroke="#0000ff" stroke-width="1"/>
<circle cx="1243.4" cy="772.7" r="1" fill="#000"/>
<circle cx="1253.4" cy="748.7" r="4.0" fill="none" stroke="#0000ff" stroke-width="1"/>
<circle cx="1253.4" cy="748.7" r="1" fill="#000"/>
<line x1="1091.0" y1="832.0" x2="1091.0" y2="828.0" stroke="#262626"/>
<line x1="1091.0" y1="524.5" x2="1091.0" y2="528.5" stroke="#262626"/>
<line x1="1120.9" y1="832.0" x2="1120.9" y2="828.0" stroke="#262626"/>
<line x1="1120.9" y1="524.5" x2="1120.9" y2="528.5" stroke="#262626"/>
<line x1="1150.9" y1="832.0" x2="1150.9" y2="828.0" stroke="#262626"/>
<line x1="1150.9" y1="524.5" x2="1150.9" y2="528.5" stroke="#262626"/>
<line x1="1180.8" y1="832.0" x2="1180.8" y2="828.0" stroke="#262626"/>
<line x1="1180.8" y1="524.5" x2="1180.8" y2="528.5" stroke="#262626"/>
<line x1="1210.8" y1="832.0" x2="1210.8" y2="828.0" stroke="#262626"/>
<line x1="1210.8" y1="524.5" x2="1210.8" y2="528.5" stroke="#262626"/>
<line x1="1240.7" y1="832.0" x2="1240.7" y2="828.0" stroke="#262626"/>
<line x1="1240.7" y1="524.5" x2="1240.7" y2="528.5" stroke="#262626"/>
<line x1="1090.5" y1="832.0" x2="1094.5" y2="832.0" stroke="#e00000"/>
<text x="1081.0" y="840.8" font-size="22.7" fill="#e00000" text-anchor="end">0</text>
<line x1="1090.5" y1="755.1" x2="1094.5" y2="755.1" stroke="#e00000"/>
<text x="1081.0" y="763.9" font-size="22.7" fill="#e00000" text-anchor="end">50</text>
<line x1="1090.5" y1="678.2" x2="1094.5" y2="678.2" stroke="#e00000"/>
<text x="1081.0" y="687.0" font-size="22.7" fill="#e00000" text-anchor="end">100</text>
<line x1="1090.5" y1="601.4" x2="1094.5" y2="601.4" stroke="#e00000"/>
<text x="1081.0" y="610.2" font-size="22.7" fill="#e00000" text-anchor="end">150</text>
<line x1="1090.5" y1="524.5" x2="1094.5" y2="524.5" stroke="#e00000"/>
<text x="1081.0" y="533.3" font-size="22.7" fill="#e00000" text-anchor="end">200</text>
<line x1="1258.0" y1="832.0" x2="1254.0" y2="832.0" stroke="#0000e0"/>
<text x="1265.6" y="840.8" font-size="22.7" fill="#0000e0" text-anchor="start">0</text>
<line x1="1258.0" y1="770.5" x2="1254.0" y2="770.5" stroke="#0000e0"/>
<text x="1265.6" y="779.3" font-size="22.7" fill="#0000e0" text-anchor="start">20</text>
<line x1="1258.0" y1="709.0" x2="1254.0" y2="709.0" stroke="#0000e0"/>
<text x="1265.6" y="717.8" font-size="22.7" fill="#0000e0" text-anchor="start">40</text>
<line x1="1258.0" y1="647.5" x2="1254.0" y2="647.5" stroke="#0000e0"/>
<text x="1265.6" y="656.3" font-size="22.7" fill="#0000e0" text-anchor="start">60</text>
<line x1="1258.0" y1="586.0" x2="1254.0" y2="586.0" stroke="#0000e0"/>
<text x="1265.6" y="594.8" font-size="22.7" fill="#0000e0" text-anchor="start">80</text>
<line x1="1258.0" y1="524.5" x2="1254.0" y2="524.5" stroke="#0000e0"/>
<text x="1265.6" y="533.3" font-size="22.7" fill="#0000e0" text-anchor="start">100</text>
<line x1="1090.5" y1="524.5" x2="1258.0" y2="524.5" stroke="#262626" stroke-width="1.3"/>
<line x1="1090.5" y1="832.0" x2="1258.0" y2="832.0" stroke="#262626" stroke-width="1.3"/>
<line x1="1090.5" y1="524.5" x2="1090.5" y2="832.0" stroke="#e00000" stroke-width="1.3"/>
<line x1="1258.0" y1="524.5" x2="1258.0" y2="832.0" stroke="#0000e0" stroke-width="1.3"/>
<text x="1101.6" y="843.5" font-size="22.5" fill="#262626" text-anchor="end" transform="rotate(-90 1101.6 843.5)">1e-4</text>
<text x="1131.6" y="843.5" font-size="22.5" fill="#262626" text-anchor="end" transform="rotate(-90 1131.6 843.5)">5e-3</text>
<text x="1161.5" y="843.5" font-size="22.5" fill="#262626" text-anchor="end" transform="rotate(-90 1161.5 843.5)">0.1</text>
<text x="1191.5" y="843.5" font-size="22.5" fill="#262626" text-anchor="end" transform="rotate(-90 1191.5 843.5)">0.4</text>
<text x="1221.4" y="843.5" font-size="22.5" fill="#262626" text-anchor="end" transform="rotate(-90 1221.4 843.5)">0.7</text>
<text x="1251.4" y="843.5" font-size="22.5" fill="#262626" text-anchor="end" transform="rotate(-90 1251.4 843.5)">0.95</text>
<text x="1031.5" y="678.5" font-size="26.2" fill="#e00000" text-anchor="middle" transform="rotate(-90 1031.5 678.5)">Red: RMSE at iteration 80</text>
<text x="1336.0" y="678.5" font-size="26.2" fill="#0000e0" text-anchor="middle" transform="rotate(-90 1336.0 678.5)">Blue: Percent unsafe</text>
<text x="1220.0" y="892.5" font-size="28" fill="#262626" text-anchor="middle" font-family="Liberation Serif" font-style="italic">&#945;</text>
</svg></body></html>
